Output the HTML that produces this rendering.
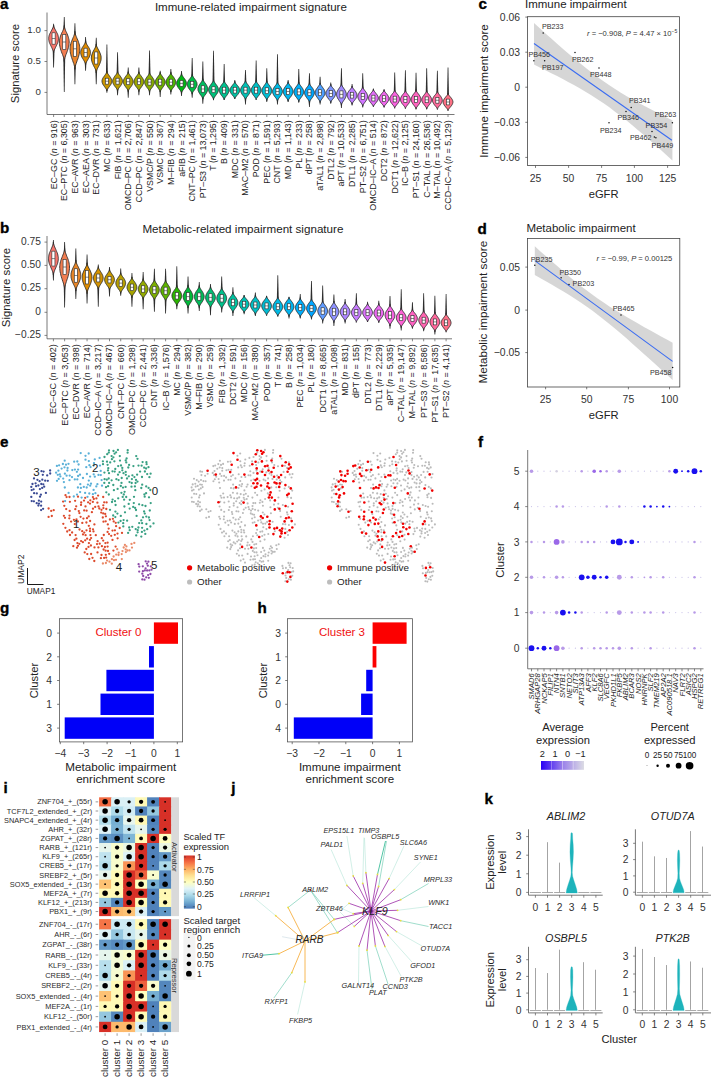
<!DOCTYPE html>
<html><head><meta charset="utf-8"><style>
html,body{margin:0;padding:0;background:#fff;width:711px;height:1078px;overflow:hidden}
svg{display:block;font-family:"Liberation Sans", sans-serif;fill:#222}
</style></head><body>
<svg width="711" height="1078" viewBox="0 0 711 1078">
<rect width="711" height="1078" fill="#fff"/>
<text x="0.00" y="9.00" font-size="15.2" fill="#000" font-weight="bold" stroke="#000" stroke-width="0.35">a</text>
<text x="250.90" y="10.80" font-size="11.6" text-anchor="middle" textLength="192.00" lengthAdjust="spacingAndGlyphs">Immune-related impairment signature</text>
<path d="M47,12.5 V114.5 H454.5" fill="none" stroke="#555" stroke-width="0.8"/>
<line x1="44.5" x2="47" y1="30.6" y2="30.6" stroke="#555" stroke-width="0.7"/>
<text x="40.80" y="33.30" font-size="9.7" text-anchor="end" fill="#333">1.0</text>
<line x1="44.5" x2="47" y1="61.5" y2="61.5" stroke="#555" stroke-width="0.7"/>
<text x="40.80" y="64.20" font-size="9.7" text-anchor="end" fill="#333">0.5</text>
<line x1="44.5" x2="47" y1="92.4" y2="92.4" stroke="#555" stroke-width="0.7"/>
<text x="40.80" y="95.10" font-size="9.7" text-anchor="end" fill="#333">0</text>
<polygon points="52.60,31.2 53.22,23.8 53.98,23.8 54.60,31.2" fill="#2e2e2e"/><polygon points="52.60,46.4 53.22,67.4 53.98,67.4 54.60,46.4" fill="#2e2e2e"/><polygon points="53.6,25.2 53.7,26.1 54.0,27.1 54.4,28.0 54.9,29.0 55.4,29.9 55.9,30.9 56.4,31.8 56.9,32.8 57.4,33.7 57.8,34.7 58.1,35.6 58.3,36.6 58.5,37.5 58.5,38.5 58.5,39.5 58.3,40.5 58.1,41.6 57.8,42.6 57.4,43.6 56.9,44.6 56.4,45.7 55.9,46.7 55.4,47.7 54.9,48.8 54.4,49.8 54.0,50.8 53.7,51.8 53.6,52.8 53.6,52.8 53.5,51.8 53.2,50.8 52.8,49.8 52.3,48.8 51.8,47.7 51.3,46.7 50.8,45.7 50.3,44.6 49.8,43.6 49.4,42.6 49.1,41.6 48.9,40.5 48.7,39.5 48.7,38.5 48.7,37.5 48.9,36.6 49.1,35.6 49.4,34.7 49.8,33.7 50.3,32.8 50.8,31.8 51.3,30.9 51.8,29.9 52.3,29.0 52.8,28.0 53.2,27.1 53.5,26.1 53.6,25.2" fill="#f8766d" stroke="#2a2a2a" stroke-width="0.85" stroke-linejoin="round"/><rect x="52.05" y="32.80" width="3.1" height="11.40" fill="#fff" stroke="#333" stroke-width="0.65"/><line x1="52.05" x2="55.15" y1="38.50" y2="38.50" stroke="#333" stroke-width="0.6"/>
<line x1="53.60" x2="53.60" y1="114.5" y2="117.0" stroke="#555" stroke-width="0.7"/>
<text x="56.60" y="120.30" font-size="8.8" text-anchor="end" transform="rotate(-90 56.60 120.30)" textLength="69.03" lengthAdjust="spacingAndGlyphs">EC–GC (<tspan font-style="italic">n</tspan> = 916)</text>
<polygon points="63.26,33.0 63.88,17.1 64.64,17.1 65.26,33.0" fill="#2e2e2e"/><polygon points="63.26,52.7 63.88,91.9 64.64,91.9 65.26,52.7" fill="#2e2e2e"/><polygon points="64.3,25.6 64.4,26.8 64.7,27.9 65.0,29.1 65.5,30.3 66.0,31.5 66.6,32.6 67.1,33.8 67.6,35.0 68.0,36.1 68.4,37.3 68.7,38.5 69.0,39.7 69.1,40.8 69.2,42.0 69.1,43.4 69.0,44.8 68.7,46.2 68.4,47.6 68.0,49.0 67.6,50.3 67.1,51.7 66.6,53.1 66.0,54.5 65.5,55.9 65.0,57.3 64.7,58.7 64.4,60.1 64.3,61.5 64.3,61.5 64.1,60.1 63.9,58.7 63.5,57.3 63.0,55.9 62.5,54.5 61.9,53.1 61.4,51.7 60.9,50.3 60.5,49.0 60.1,47.6 59.8,46.2 59.5,44.8 59.4,43.4 59.4,42.0 59.4,40.8 59.5,39.7 59.8,38.5 60.1,37.3 60.5,36.1 60.9,35.0 61.4,33.8 61.9,32.6 62.5,31.5 63.0,30.3 63.5,29.1 63.9,27.9 64.1,26.8 64.3,25.6" fill="#f17d52" stroke="#2a2a2a" stroke-width="0.85" stroke-linejoin="round"/><rect x="62.71" y="34.50" width="3.1" height="15.00" fill="#fff" stroke="#333" stroke-width="0.65"/><line x1="62.71" x2="65.81" y1="42.00" y2="42.00" stroke="#333" stroke-width="0.6"/>
<line x1="64.26" x2="64.26" y1="114.5" y2="117.0" stroke="#555" stroke-width="0.7"/>
<text x="67.26" y="120.30" font-size="8.8" text-anchor="end" transform="rotate(-90 67.26 120.30)" textLength="80.77" lengthAdjust="spacingAndGlyphs">EC–PTC (<tspan font-style="italic">n</tspan> = 6,305)</text>
<polygon points="73.92,39.2 74.54,23.2 75.30,23.2 75.92,39.2" fill="#2e2e2e"/><polygon points="73.92,60.1 74.54,84.3 75.30,84.3 75.92,60.1" fill="#2e2e2e"/><polygon points="74.9,31.4 75.0,32.6 75.3,33.9 75.7,35.1 76.2,36.4 76.7,37.6 77.2,38.8 77.8,40.1 78.3,41.3 78.7,42.6 79.1,43.8 79.4,45.1 79.6,46.3 79.8,47.6 79.8,48.8 79.8,50.3 79.6,51.7 79.4,53.2 79.1,54.7 78.7,56.1 78.3,57.6 77.8,59.0 77.2,60.5 76.7,62.0 76.2,63.4 75.7,64.9 75.3,66.4 75.0,67.8 74.9,69.3 74.9,69.3 74.8,67.8 74.5,66.4 74.1,64.9 73.7,63.4 73.1,62.0 72.6,60.5 72.1,59.0 71.6,57.6 71.1,56.1 70.8,54.7 70.4,53.2 70.2,51.7 70.1,50.3 70.0,48.8 70.1,47.6 70.2,46.3 70.4,45.1 70.8,43.8 71.1,42.6 71.6,41.3 72.1,40.1 72.6,38.8 73.1,37.6 73.7,36.4 74.1,35.1 74.5,33.9 74.8,32.6 74.9,31.4" fill="#e9842c" stroke="#2a2a2a" stroke-width="0.85" stroke-linejoin="round"/><rect x="73.37" y="41.30" width="3.1" height="15.00" fill="#fff" stroke="#333" stroke-width="0.65"/><line x1="73.37" x2="76.47" y1="48.80" y2="48.80" stroke="#333" stroke-width="0.6"/>
<line x1="74.92" x2="74.92" y1="114.5" y2="117.0" stroke="#555" stroke-width="0.7"/>
<text x="77.92" y="120.30" font-size="8.8" text-anchor="end" transform="rotate(-90 77.92 120.30)" textLength="73.27" lengthAdjust="spacingAndGlyphs">EC–AVR (<tspan font-style="italic">n</tspan> = 963)</text>
<polygon points="84.58,46.3 85.20,37.0 85.96,37.0 86.58,46.3" fill="#2e2e2e"/><polygon points="84.58,59.3 85.20,70.8 85.96,70.8 86.58,59.3" fill="#2e2e2e"/><polygon points="85.6,41.2 85.7,42.0 86.0,42.8 86.4,43.6 86.8,44.4 87.4,45.3 87.9,46.1 88.4,46.9 88.9,47.7 89.4,48.5 89.7,49.3 90.1,50.1 90.3,50.9 90.4,51.7 90.5,52.5 90.4,53.4 90.3,54.3 90.1,55.1 89.7,56.0 89.4,56.9 88.9,57.8 88.4,58.6 87.9,59.5 87.4,60.4 86.8,61.3 86.4,62.2 86.0,63.0 85.7,63.9 85.6,64.8 85.6,64.8 85.5,63.9 85.2,63.0 84.8,62.2 84.3,61.3 83.8,60.4 83.3,59.5 82.7,58.6 82.2,57.8 81.8,56.9 81.4,56.0 81.1,55.1 80.9,54.3 80.7,53.4 80.7,52.5 80.7,51.7 80.9,50.9 81.1,50.1 81.4,49.3 81.8,48.5 82.2,47.7 82.7,46.9 83.3,46.1 83.8,45.3 84.3,44.4 84.8,43.6 85.2,42.8 85.5,42.0 85.6,41.2" fill="#e08b00" stroke="#2a2a2a" stroke-width="0.85" stroke-linejoin="round"/><rect x="84.03" y="48.20" width="3.1" height="8.60" fill="#fff" stroke="#333" stroke-width="0.65"/><line x1="84.03" x2="87.13" y1="52.50" y2="52.50" stroke="#333" stroke-width="0.6"/>
<line x1="85.58" x2="85.58" y1="114.5" y2="117.0" stroke="#555" stroke-width="0.7"/>
<text x="88.58" y="120.30" font-size="8.8" text-anchor="end" transform="rotate(-90 88.58 120.30)" textLength="72.95" lengthAdjust="spacingAndGlyphs">EC–AEA (<tspan font-style="italic">n</tspan> = 303)</text>
<polygon points="95.24,50.3 95.86,37.8 96.62,37.8 97.24,50.3" fill="#2e2e2e"/><polygon points="95.24,66.1 95.86,84.3 96.62,84.3 97.24,66.1" fill="#2e2e2e"/><polygon points="96.2,44.1 96.4,45.1 96.6,46.1 97.0,47.0 97.5,48.0 98.0,49.0 98.6,50.0 99.1,51.0 99.6,52.0 100.0,53.0 100.4,54.0 100.7,55.0 101.0,56.0 101.1,57.0 101.1,58.0 101.1,59.1 101.0,60.1 100.7,61.2 100.4,62.2 100.0,63.3 99.6,64.3 99.1,65.4 98.6,66.4 98.0,67.5 97.5,68.5 97.0,69.6 96.6,70.7 96.4,71.7 96.2,72.8 96.2,72.8 96.1,71.7 95.8,70.7 95.5,69.6 95.0,68.5 94.5,67.5 93.9,66.4 93.4,65.4 92.9,64.3 92.5,63.3 92.1,62.2 91.8,61.2 91.5,60.1 91.4,59.1 91.3,58.0 91.4,57.0 91.5,56.0 91.8,55.0 92.1,54.0 92.5,53.0 92.9,52.0 93.4,51.0 93.9,50.0 94.5,49.0 95.0,48.0 95.5,47.0 95.8,46.1 96.1,45.1 96.2,44.1" fill="#d69100" stroke="#2a2a2a" stroke-width="0.85" stroke-linejoin="round"/><rect x="94.69" y="51.95" width="3.1" height="12.10" fill="#fff" stroke="#333" stroke-width="0.65"/><line x1="94.69" x2="97.79" y1="58.00" y2="58.00" stroke="#333" stroke-width="0.6"/>
<line x1="96.24" x2="96.24" y1="114.5" y2="117.0" stroke="#555" stroke-width="0.7"/>
<text x="99.24" y="120.30" font-size="8.8" text-anchor="end" transform="rotate(-90 99.24 120.30)" textLength="74.41" lengthAdjust="spacingAndGlyphs">EC–DVR (<tspan font-style="italic">n</tspan> = 731)</text>
<polygon points="105.90,75.8 106.52,44.6 107.28,44.6 107.90,75.8" fill="#2e2e2e"/><polygon points="105.90,86.6 106.52,92.7 107.28,92.7 107.90,86.6" fill="#2e2e2e"/><polygon points="106.9,71.4 107.0,72.1 107.3,72.8 107.7,73.5 108.2,74.2 108.7,74.9 109.2,75.6 109.7,76.3 110.2,77.0 110.7,77.7 111.1,78.4 111.4,79.1 111.6,79.8 111.8,80.5 111.8,81.2 111.8,81.9 111.6,82.6 111.4,83.3 111.1,84.0 110.7,84.7 110.2,85.4 109.7,86.1 109.2,86.8 108.7,87.5 108.2,88.2 107.7,88.9 107.3,89.6 107.0,90.3 106.9,91.0 106.9,91.0 106.8,90.3 106.5,89.6 106.1,88.9 105.6,88.2 105.1,87.5 104.6,86.8 104.1,86.1 103.6,85.4 103.1,84.7 102.7,84.0 102.4,83.3 102.2,82.6 102.0,81.9 102.0,81.2 102.0,80.5 102.2,79.8 102.4,79.1 102.7,78.4 103.1,77.7 103.6,77.0 104.1,76.3 104.6,75.6 105.1,74.9 105.6,74.2 106.1,73.5 106.5,72.8 106.8,72.1 106.9,71.4" fill="#ca9700" stroke="#2a2a2a" stroke-width="0.85" stroke-linejoin="round"/><rect x="105.35" y="78.23" width="3.1" height="5.94" fill="#fff" stroke="#333" stroke-width="0.65"/><line x1="105.35" x2="108.45" y1="81.20" y2="81.20" stroke="#333" stroke-width="0.6"/>
<line x1="106.90" x2="106.90" y1="114.5" y2="117.0" stroke="#555" stroke-width="0.7"/>
<text x="109.90" y="120.30" font-size="8.8" text-anchor="end" transform="rotate(-90 109.90 120.30)" textLength="51.59" lengthAdjust="spacingAndGlyphs">MC (<tspan font-style="italic">n</tspan> = 633)</text>
<polygon points="116.56,75.8 117.18,52.2 117.94,52.2 118.56,75.8" fill="#2e2e2e"/><polygon points="116.56,86.6 117.18,95.2 117.94,95.2 118.56,86.6" fill="#2e2e2e"/><polygon points="117.6,71.4 117.7,72.1 118.0,72.8 118.3,73.5 118.8,74.2 119.3,74.9 119.9,75.6 120.4,76.3 120.9,77.0 121.3,77.7 121.7,78.4 122.0,79.1 122.3,79.8 122.4,80.5 122.5,81.2 122.4,81.9 122.3,82.6 122.0,83.3 121.7,84.0 121.3,84.7 120.9,85.4 120.4,86.1 119.9,86.8 119.3,87.5 118.8,88.2 118.3,88.9 118.0,89.6 117.7,90.3 117.6,91.0 117.6,91.0 117.4,90.3 117.2,89.6 116.8,88.9 116.3,88.2 115.8,87.5 115.2,86.8 114.7,86.1 114.2,85.4 113.8,84.7 113.4,84.0 113.1,83.3 112.8,82.6 112.7,81.9 112.7,81.2 112.7,80.5 112.8,79.8 113.1,79.1 113.4,78.4 113.8,77.7 114.2,77.0 114.7,76.3 115.2,75.6 115.8,74.9 116.3,74.2 116.8,73.5 117.2,72.8 117.4,72.1 117.6,71.4" fill="#bc9d00" stroke="#2a2a2a" stroke-width="0.85" stroke-linejoin="round"/><rect x="116.01" y="78.23" width="3.1" height="5.94" fill="#fff" stroke="#333" stroke-width="0.65"/><line x1="116.01" x2="119.11" y1="81.20" y2="81.20" stroke="#333" stroke-width="0.6"/>
<line x1="117.56" x2="117.56" y1="114.5" y2="117.0" stroke="#555" stroke-width="0.7"/>
<text x="120.56" y="120.30" font-size="8.8" text-anchor="end" transform="rotate(-90 120.56 120.30)" textLength="58.94" lengthAdjust="spacingAndGlyphs">FIB (<tspan font-style="italic">n</tspan> = 1,621)</text>
<polygon points="127.22,76.3 127.84,67.4 128.60,67.4 129.22,76.3" fill="#2e2e2e"/><polygon points="127.22,87.1 127.84,97.8 128.60,97.8 129.22,87.1" fill="#2e2e2e"/><polygon points="128.2,71.9 128.3,72.6 128.6,73.3 129.0,74.0 129.5,74.7 130.0,75.4 130.5,76.1 131.1,76.8 131.6,77.5 132.0,78.2 132.4,78.9 132.7,79.6 132.9,80.3 133.1,81.0 133.1,81.7 133.1,82.4 132.9,83.1 132.7,83.8 132.4,84.5 132.0,85.2 131.6,85.9 131.1,86.6 130.5,87.3 130.0,88.0 129.5,88.7 129.0,89.4 128.6,90.1 128.3,90.8 128.2,91.5 128.2,91.5 128.1,90.8 127.8,90.1 127.4,89.4 127.0,88.7 126.4,88.0 125.9,87.3 125.4,86.6 124.9,85.9 124.4,85.2 124.1,84.5 123.7,83.8 123.5,83.1 123.4,82.4 123.3,81.7 123.4,81.0 123.5,80.3 123.7,79.6 124.1,78.9 124.4,78.2 124.9,77.5 125.4,76.8 125.9,76.1 126.4,75.4 127.0,74.7 127.4,74.0 127.8,73.3 128.1,72.6 128.2,71.9" fill="#ada200" stroke="#2a2a2a" stroke-width="0.85" stroke-linejoin="round"/><rect x="126.67" y="78.73" width="3.1" height="5.94" fill="#fff" stroke="#333" stroke-width="0.65"/><line x1="126.67" x2="129.77" y1="81.70" y2="81.70" stroke="#333" stroke-width="0.6"/>
<line x1="128.22" x2="128.22" y1="114.5" y2="117.0" stroke="#555" stroke-width="0.7"/>
<text x="131.22" y="120.30" font-size="8.8" text-anchor="end" transform="rotate(-90 131.22 120.30)" textLength="90.05" lengthAdjust="spacingAndGlyphs">OMCD–PC (<tspan font-style="italic">n</tspan> = 2,706)</text>
<polygon points="137.88,76.3 138.50,67.4 139.26,67.4 139.88,76.3" fill="#2e2e2e"/><polygon points="137.88,87.1 138.50,95.2 139.26,95.2 139.88,87.1" fill="#2e2e2e"/><polygon points="138.9,71.9 139.0,72.6 139.3,73.3 139.7,74.0 140.1,74.7 140.7,75.4 141.2,76.1 141.7,76.8 142.2,77.5 142.7,78.2 143.0,78.9 143.4,79.6 143.6,80.3 143.7,81.0 143.8,81.7 143.7,82.4 143.6,83.1 143.4,83.8 143.0,84.5 142.7,85.2 142.2,85.9 141.7,86.6 141.2,87.3 140.7,88.0 140.1,88.7 139.7,89.4 139.3,90.1 139.0,90.8 138.9,91.5 138.9,91.5 138.8,90.8 138.5,90.1 138.1,89.4 137.6,88.7 137.1,88.0 136.6,87.3 136.0,86.6 135.5,85.9 135.1,85.2 134.7,84.5 134.4,83.8 134.2,83.1 134.0,82.4 134.0,81.7 134.0,81.0 134.2,80.3 134.4,79.6 134.7,78.9 135.1,78.2 135.5,77.5 136.0,76.8 136.6,76.1 137.1,75.4 137.6,74.7 138.1,74.0 138.5,73.3 138.8,72.6 138.9,71.9" fill="#9ca700" stroke="#2a2a2a" stroke-width="0.85" stroke-linejoin="round"/><rect x="137.33" y="78.73" width="3.1" height="5.94" fill="#fff" stroke="#333" stroke-width="0.65"/><line x1="137.33" x2="140.43" y1="81.70" y2="81.70" stroke="#333" stroke-width="0.6"/>
<line x1="138.88" x2="138.88" y1="114.5" y2="117.0" stroke="#555" stroke-width="0.7"/>
<text x="141.88" y="120.30" font-size="8.8" text-anchor="end" transform="rotate(-90 141.88 120.30)" textLength="82.23" lengthAdjust="spacingAndGlyphs">CCD–PC (<tspan font-style="italic">n</tspan> = 2,847)</text>
<polygon points="148.54,76.8 149.16,50.5 149.92,50.5 150.54,76.8" fill="#2e2e2e"/><polygon points="148.54,87.6 149.16,95.2 149.92,95.2 150.54,87.6" fill="#2e2e2e"/><polygon points="149.5,72.4 149.7,73.1 149.9,73.8 150.3,74.5 150.8,75.2 151.3,75.9 151.9,76.6 152.4,77.3 152.9,78.0 153.3,78.7 153.7,79.4 154.0,80.1 154.3,80.8 154.4,81.5 154.4,82.2 154.4,82.9 154.3,83.6 154.0,84.3 153.7,85.0 153.3,85.7 152.9,86.4 152.4,87.1 151.9,87.8 151.3,88.5 150.8,89.2 150.3,89.9 149.9,90.6 149.7,91.3 149.5,92.0 149.5,92.0 149.4,91.3 149.1,90.6 148.8,89.9 148.3,89.2 147.8,88.5 147.2,87.8 146.7,87.1 146.2,86.4 145.8,85.7 145.4,85.0 145.1,84.3 144.8,83.6 144.7,82.9 144.6,82.2 144.7,81.5 144.8,80.8 145.1,80.1 145.4,79.4 145.8,78.7 146.2,78.0 146.7,77.3 147.2,76.6 147.8,75.9 148.3,75.2 148.8,74.5 149.1,73.8 149.4,73.1 149.5,72.4" fill="#87ac00" stroke="#2a2a2a" stroke-width="0.85" stroke-linejoin="round"/><rect x="147.99" y="79.23" width="3.1" height="5.94" fill="#fff" stroke="#333" stroke-width="0.65"/><line x1="147.99" x2="151.09" y1="82.20" y2="82.20" stroke="#333" stroke-width="0.6"/>
<line x1="149.54" x2="149.54" y1="114.5" y2="117.0" stroke="#555" stroke-width="0.7"/>
<text x="152.54" y="120.30" font-size="8.8" text-anchor="end" transform="rotate(-90 152.54 120.30)" textLength="71.49" lengthAdjust="spacingAndGlyphs">VSMC/P (<tspan font-style="italic">n</tspan> = 550)</text>
<polygon points="159.20,76.8 159.82,70.8 160.58,70.8 161.20,76.8" fill="#2e2e2e"/><polygon points="159.20,87.6 159.82,96.9 160.58,96.9 161.20,87.6" fill="#2e2e2e"/><polygon points="160.2,72.4 160.3,73.1 160.6,73.8 161.0,74.5 161.5,75.2 162.0,75.9 162.5,76.6 163.0,77.3 163.5,78.0 164.0,78.7 164.4,79.4 164.7,80.1 164.9,80.8 165.1,81.5 165.1,82.2 165.1,82.9 164.9,83.6 164.7,84.3 164.4,85.0 164.0,85.7 163.5,86.4 163.0,87.1 162.5,87.8 162.0,88.5 161.5,89.2 161.0,89.9 160.6,90.6 160.3,91.3 160.2,92.0 160.2,92.0 160.1,91.3 159.8,90.6 159.4,89.9 158.9,89.2 158.4,88.5 157.9,87.8 157.4,87.1 156.9,86.4 156.4,85.7 156.0,85.0 155.7,84.3 155.5,83.6 155.3,82.9 155.3,82.2 155.3,81.5 155.5,80.8 155.7,80.1 156.0,79.4 156.4,78.7 156.9,78.0 157.4,77.3 157.9,76.6 158.4,75.9 158.9,75.2 159.4,74.5 159.8,73.8 160.1,73.1 160.2,72.4" fill="#6fb000" stroke="#2a2a2a" stroke-width="0.85" stroke-linejoin="round"/><rect x="158.65" y="79.23" width="3.1" height="5.94" fill="#fff" stroke="#333" stroke-width="0.65"/><line x1="158.65" x2="161.75" y1="82.20" y2="82.20" stroke="#333" stroke-width="0.6"/>
<line x1="160.20" x2="160.20" y1="114.5" y2="117.0" stroke="#555" stroke-width="0.7"/>
<text x="163.20" y="120.30" font-size="8.8" text-anchor="end" transform="rotate(-90 163.20 120.30)" textLength="63.33" lengthAdjust="spacingAndGlyphs">VSMC (<tspan font-style="italic">n</tspan> = 367)</text>
<polygon points="169.86,76.8 170.48,69.0 171.24,69.0 171.86,76.8" fill="#2e2e2e"/><polygon points="169.86,87.6 170.48,94.4 171.24,94.4 171.86,87.6" fill="#2e2e2e"/><polygon points="170.9,72.4 171.0,73.1 171.3,73.8 171.6,74.5 172.1,75.2 172.6,75.9 173.2,76.6 173.7,77.3 174.2,78.0 174.6,78.7 175.0,79.4 175.3,80.1 175.6,80.8 175.7,81.5 175.8,82.2 175.7,82.9 175.6,83.6 175.3,84.3 175.0,85.0 174.6,85.7 174.2,86.4 173.7,87.1 173.2,87.8 172.6,88.5 172.1,89.2 171.6,89.9 171.3,90.6 171.0,91.3 170.9,92.0 170.9,92.0 170.7,91.3 170.5,90.6 170.1,89.9 169.6,89.2 169.1,88.5 168.5,87.8 168.0,87.1 167.5,86.4 167.1,85.7 166.7,85.0 166.4,84.3 166.1,83.6 166.0,82.9 166.0,82.2 166.0,81.5 166.1,80.8 166.4,80.1 166.7,79.4 167.1,78.7 167.5,78.0 168.0,77.3 168.5,76.6 169.1,75.9 169.6,75.2 170.1,74.5 170.5,73.8 170.7,73.1 170.9,72.4" fill="#4db400" stroke="#2a2a2a" stroke-width="0.85" stroke-linejoin="round"/><rect x="169.31" y="79.23" width="3.1" height="5.94" fill="#fff" stroke="#333" stroke-width="0.65"/><line x1="169.31" x2="172.41" y1="82.20" y2="82.20" stroke="#333" stroke-width="0.6"/>
<line x1="170.86" x2="170.86" y1="114.5" y2="117.0" stroke="#555" stroke-width="0.7"/>
<text x="173.86" y="120.30" font-size="8.8" text-anchor="end" transform="rotate(-90 173.86 120.30)" textLength="64.62" lengthAdjust="spacingAndGlyphs">M–FIB (<tspan font-style="italic">n</tspan> = 294)</text>
<polygon points="180.52,78.0 181.14,71.1 181.90,71.1 182.52,78.0" fill="#2e2e2e"/><polygon points="180.52,88.8 181.14,96.1 181.90,96.1 182.52,88.8" fill="#2e2e2e"/><polygon points="181.5,73.6 181.6,74.3 181.9,75.0 182.3,75.7 182.8,76.4 183.3,77.1 183.8,77.8 184.4,78.5 184.9,79.2 185.3,79.9 185.7,80.6 186.0,81.3 186.2,82.0 186.4,82.7 186.4,83.4 186.4,84.1 186.2,84.8 186.0,85.5 185.7,86.2 185.3,86.9 184.9,87.6 184.4,88.3 183.8,89.0 183.3,89.7 182.8,90.4 182.3,91.1 181.9,91.8 181.6,92.5 181.5,93.2 181.5,93.2 181.4,92.5 181.1,91.8 180.7,91.1 180.3,90.4 179.7,89.7 179.2,89.0 178.7,88.3 178.2,87.6 177.7,86.9 177.4,86.2 177.0,85.5 176.8,84.8 176.7,84.1 176.6,83.4 176.7,82.7 176.8,82.0 177.0,81.3 177.4,80.6 177.7,79.9 178.2,79.2 178.7,78.5 179.2,77.8 179.7,77.1 180.3,76.4 180.7,75.7 181.1,75.0 181.4,74.3 181.5,73.6" fill="#00b813" stroke="#2a2a2a" stroke-width="0.85" stroke-linejoin="round"/><rect x="179.97" y="80.43" width="3.1" height="5.94" fill="#fff" stroke="#333" stroke-width="0.65"/><line x1="179.97" x2="183.07" y1="83.40" y2="83.40" stroke="#333" stroke-width="0.6"/>
<line x1="181.52" x2="181.52" y1="114.5" y2="117.0" stroke="#555" stroke-width="0.7"/>
<text x="184.52" y="120.30" font-size="8.8" text-anchor="end" transform="rotate(-90 184.52 120.30)" textLength="56.49" lengthAdjust="spacingAndGlyphs">aFIB (<tspan font-style="italic">n</tspan> = 215)</text>
<polygon points="191.18,78.9 191.80,58.1 192.56,58.1 193.18,78.9" fill="#2e2e2e"/><polygon points="191.18,89.7 191.80,97.8 192.56,97.8 193.18,89.7" fill="#2e2e2e"/><polygon points="192.2,74.5 192.3,75.2 192.6,75.9 193.0,76.6 193.4,77.3 194.0,78.0 194.5,78.7 195.0,79.4 195.5,80.1 196.0,80.8 196.3,81.5 196.7,82.2 196.9,82.9 197.0,83.6 197.1,84.3 197.0,85.0 196.9,85.7 196.7,86.4 196.3,87.1 196.0,87.8 195.5,88.5 195.0,89.2 194.5,89.9 194.0,90.6 193.4,91.3 193.0,92.0 192.6,92.7 192.3,93.4 192.2,94.1 192.2,94.1 192.1,93.4 191.8,92.7 191.4,92.0 190.9,91.3 190.4,90.6 189.9,89.9 189.3,89.2 188.8,88.5 188.4,87.8 188.0,87.1 187.7,86.4 187.5,85.7 187.3,85.0 187.3,84.3 187.3,83.6 187.5,82.9 187.7,82.2 188.0,81.5 188.4,80.8 188.8,80.1 189.3,79.4 189.9,78.7 190.4,78.0 190.9,77.3 191.4,76.6 191.8,75.9 192.1,75.2 192.2,74.5" fill="#00bb44" stroke="#2a2a2a" stroke-width="0.85" stroke-linejoin="round"/><rect x="190.63" y="81.33" width="3.1" height="5.94" fill="#fff" stroke="#333" stroke-width="0.65"/><line x1="190.63" x2="193.73" y1="84.30" y2="84.30" stroke="#333" stroke-width="0.6"/>
<line x1="192.18" x2="192.18" y1="114.5" y2="117.0" stroke="#555" stroke-width="0.7"/>
<text x="195.18" y="120.30" font-size="8.8" text-anchor="end" transform="rotate(-90 195.18 120.30)" textLength="81.25" lengthAdjust="spacingAndGlyphs">CNT–PC (<tspan font-style="italic">n</tspan> = 1,461)</text>
<polygon points="201.84,83.4 202.46,61.5 203.22,61.5 203.84,83.4" fill="#2e2e2e"/><polygon points="201.84,94.6 202.46,103.7 203.22,103.7 203.84,94.6" fill="#2e2e2e"/><polygon points="202.8,78.8 203.0,79.5 203.2,80.2 203.6,80.9 204.1,81.7 204.6,82.4 205.2,83.1 205.7,83.9 206.2,84.6 206.6,85.3 207.0,86.1 207.3,86.8 207.6,87.5 207.7,88.3 207.7,89.0 207.7,89.7 207.6,90.5 207.3,91.2 207.0,91.9 206.6,92.7 206.2,93.4 205.7,94.1 205.2,94.9 204.6,95.6 204.1,96.3 203.6,97.1 203.2,97.8 203.0,98.5 202.8,99.2 202.8,99.2 202.7,98.5 202.4,97.8 202.1,97.1 201.6,96.3 201.1,95.6 200.5,94.9 200.0,94.1 199.5,93.4 199.1,92.7 198.7,91.9 198.4,91.2 198.1,90.5 198.0,89.7 197.9,89.0 198.0,88.3 198.1,87.5 198.4,86.8 198.7,86.1 199.1,85.3 199.5,84.6 200.0,83.9 200.5,83.1 201.1,82.4 201.6,81.7 202.1,80.9 202.4,80.2 202.7,79.5 202.8,78.8" fill="#00bd61" stroke="#2a2a2a" stroke-width="0.85" stroke-linejoin="round"/><rect x="201.29" y="85.75" width="3.1" height="6.50" fill="#fff" stroke="#333" stroke-width="0.65"/><line x1="201.29" x2="204.39" y1="89.00" y2="89.00" stroke="#333" stroke-width="0.6"/>
<line x1="202.84" x2="202.84" y1="114.5" y2="117.0" stroke="#555" stroke-width="0.7"/>
<text x="205.84" y="120.30" font-size="8.8" text-anchor="end" transform="rotate(-90 205.84 120.30)" textLength="77.84" lengthAdjust="spacingAndGlyphs">PT–S3 (<tspan font-style="italic">n</tspan> = 13,073)</text>
<polygon points="212.50,84.3 213.12,50.8 213.88,50.8 214.50,84.3" fill="#2e2e2e"/><polygon points="212.50,95.1 213.12,100.3 213.88,100.3 214.50,95.1" fill="#2e2e2e"/><polygon points="213.5,79.9 213.6,80.6 213.9,81.3 214.3,82.0 214.8,82.7 215.3,83.4 215.8,84.1 216.3,84.8 216.8,85.5 217.3,86.2 217.7,86.9 218.0,87.6 218.2,88.3 218.4,89.0 218.4,89.7 218.4,90.4 218.2,91.1 218.0,91.8 217.7,92.5 217.3,93.2 216.8,93.9 216.3,94.6 215.8,95.3 215.3,96.0 214.8,96.7 214.3,97.4 213.9,98.1 213.6,98.8 213.5,99.5 213.5,99.5 213.4,98.8 213.1,98.1 212.7,97.4 212.2,96.7 211.7,96.0 211.2,95.3 210.7,94.6 210.2,93.9 209.7,93.2 209.3,92.5 209.0,91.8 208.8,91.1 208.6,90.4 208.6,89.7 208.6,89.0 208.8,88.3 209.0,87.6 209.3,86.9 209.7,86.2 210.2,85.5 210.7,84.8 211.2,84.1 211.7,83.4 212.2,82.7 212.7,82.0 213.1,81.3 213.4,80.6 213.5,79.9" fill="#00bf79" stroke="#2a2a2a" stroke-width="0.85" stroke-linejoin="round"/><rect x="211.95" y="86.73" width="3.1" height="5.94" fill="#fff" stroke="#333" stroke-width="0.65"/><line x1="211.95" x2="215.05" y1="89.70" y2="89.70" stroke="#333" stroke-width="0.6"/>
<line x1="213.50" x2="213.50" y1="114.5" y2="117.0" stroke="#555" stroke-width="0.7"/>
<text x="216.50" y="120.30" font-size="8.8" text-anchor="end" transform="rotate(-90 216.50 120.30)" textLength="50.46" lengthAdjust="spacingAndGlyphs">T (<tspan font-style="italic">n</tspan> = 1,295)</text>
<polygon points="223.16,84.8 223.78,64.0 224.54,64.0 225.16,84.8" fill="#2e2e2e"/><polygon points="223.16,95.6 223.78,99.5 224.54,99.5 225.16,95.6" fill="#2e2e2e"/><polygon points="224.2,80.4 224.3,81.1 224.6,81.8 224.9,82.5 225.4,83.2 225.9,83.9 226.5,84.6 227.0,85.3 227.5,86.0 227.9,86.7 228.3,87.4 228.6,88.1 228.9,88.8 229.0,89.5 229.1,90.2 229.0,90.9 228.9,91.6 228.6,92.3 228.3,93.0 227.9,93.7 227.5,94.4 227.0,95.1 226.5,95.8 225.9,96.5 225.4,97.2 224.9,97.9 224.6,98.6 224.3,99.3 224.2,100.0 224.2,100.0 224.0,99.3 223.8,98.6 223.4,97.9 222.9,97.2 222.4,96.5 221.8,95.8 221.3,95.1 220.8,94.4 220.4,93.7 220.0,93.0 219.7,92.3 219.4,91.6 219.3,90.9 219.3,90.2 219.3,89.5 219.4,88.8 219.7,88.1 220.0,87.4 220.4,86.7 220.8,86.0 221.3,85.3 221.8,84.6 222.4,83.9 222.9,83.2 223.4,82.5 223.8,81.8 224.0,81.1 224.2,80.4" fill="#00c08e" stroke="#2a2a2a" stroke-width="0.85" stroke-linejoin="round"/><rect x="222.61" y="87.23" width="3.1" height="5.94" fill="#fff" stroke="#333" stroke-width="0.65"/><line x1="222.61" x2="225.71" y1="90.20" y2="90.20" stroke="#333" stroke-width="0.6"/>
<line x1="224.16" x2="224.16" y1="114.5" y2="117.0" stroke="#555" stroke-width="0.7"/>
<text x="227.16" y="120.30" font-size="8.8" text-anchor="end" transform="rotate(-90 227.16 120.30)" textLength="43.78" lengthAdjust="spacingAndGlyphs">B (<tspan font-style="italic">n</tspan> = 409)</text>
<polygon points="233.82,85.4 234.44,80.0 235.20,80.0 235.82,85.4" fill="#2e2e2e"/><polygon points="233.82,95.0 234.44,98.6 235.20,98.6 235.82,95.0" fill="#2e2e2e"/><polygon points="234.8,81.4 234.9,82.0 235.2,82.6 235.6,83.3 236.1,83.9 236.6,84.5 237.1,85.2 237.7,85.8 238.2,86.4 238.6,87.1 239.0,87.7 239.3,88.3 239.5,88.9 239.7,89.6 239.7,90.2 239.7,90.8 239.5,91.5 239.3,92.1 239.0,92.7 238.6,93.3 238.2,94.0 237.7,94.6 237.1,95.2 236.6,95.9 236.1,96.5 235.6,97.1 235.2,97.8 234.9,98.4 234.8,99.0 234.8,99.0 234.7,98.4 234.4,97.8 234.0,97.1 233.6,96.5 233.0,95.9 232.5,95.2 232.0,94.6 231.5,94.0 231.0,93.3 230.7,92.7 230.3,92.1 230.1,91.5 230.0,90.8 229.9,90.2 230.0,89.6 230.1,88.9 230.3,88.3 230.7,87.7 231.0,87.1 231.5,86.4 232.0,85.8 232.5,85.2 233.0,84.5 233.6,83.9 234.0,83.3 234.4,82.6 234.7,82.0 234.8,81.4" fill="#00c1a2" stroke="#2a2a2a" stroke-width="0.85" stroke-linejoin="round"/><rect x="233.27" y="87.30" width="3.1" height="5.80" fill="#fff" stroke="#333" stroke-width="0.65"/><line x1="233.27" x2="236.37" y1="90.20" y2="90.20" stroke="#333" stroke-width="0.6"/>
<line x1="234.82" x2="234.82" y1="114.5" y2="117.0" stroke="#555" stroke-width="0.7"/>
<text x="237.82" y="120.30" font-size="8.8" text-anchor="end" transform="rotate(-90 237.82 120.30)" textLength="57.95" lengthAdjust="spacingAndGlyphs">MDC (<tspan font-style="italic">n</tspan> = 331)</text>
<polygon points="244.48,84.8 245.10,69.9 245.86,69.9 246.48,84.8" fill="#2e2e2e"/><polygon points="244.48,95.6 245.10,104.5 245.86,104.5 246.48,95.6" fill="#2e2e2e"/><polygon points="245.5,80.4 245.6,81.1 245.9,81.8 246.3,82.5 246.7,83.2 247.3,83.9 247.8,84.6 248.3,85.3 248.8,86.0 249.3,86.7 249.6,87.4 250.0,88.1 250.2,88.8 250.3,89.5 250.4,90.2 250.3,90.9 250.2,91.6 250.0,92.3 249.6,93.0 249.3,93.7 248.8,94.4 248.3,95.1 247.8,95.8 247.3,96.5 246.7,97.2 246.3,97.9 245.9,98.6 245.6,99.3 245.5,100.0 245.5,100.0 245.4,99.3 245.1,98.6 244.7,97.9 244.2,97.2 243.7,96.5 243.2,95.8 242.6,95.1 242.1,94.4 241.7,93.7 241.3,93.0 241.0,92.3 240.8,91.6 240.6,90.9 240.6,90.2 240.6,89.5 240.8,88.8 241.0,88.1 241.3,87.4 241.7,86.7 242.1,86.0 242.6,85.3 243.2,84.6 243.7,83.9 244.2,83.2 244.7,82.5 245.1,81.8 245.4,81.1 245.5,80.4" fill="#00c0b4" stroke="#2a2a2a" stroke-width="0.85" stroke-linejoin="round"/><rect x="243.93" y="87.23" width="3.1" height="5.94" fill="#fff" stroke="#333" stroke-width="0.65"/><line x1="243.93" x2="247.03" y1="90.20" y2="90.20" stroke="#333" stroke-width="0.6"/>
<line x1="245.48" x2="245.48" y1="114.5" y2="117.0" stroke="#555" stroke-width="0.7"/>
<text x="248.48" y="120.30" font-size="8.8" text-anchor="end" transform="rotate(-90 248.48 120.30)" textLength="75.38" lengthAdjust="spacingAndGlyphs">MAC–M2 (<tspan font-style="italic">n</tspan> = 570)</text>
<polygon points="255.14,84.8 255.76,60.6 256.52,60.6 257.14,84.8" fill="#2e2e2e"/><polygon points="255.14,95.6 255.76,97.8 256.52,97.8 257.14,95.6" fill="#2e2e2e"/><polygon points="256.1,80.4 256.3,81.1 256.5,81.8 256.9,82.5 257.4,83.2 257.9,83.9 258.5,84.6 259.0,85.3 259.5,86.0 259.9,86.7 260.3,87.4 260.6,88.1 260.9,88.8 261.0,89.5 261.0,90.2 261.0,90.9 260.9,91.6 260.6,92.3 260.3,93.0 259.9,93.7 259.5,94.4 259.0,95.1 258.5,95.8 257.9,96.5 257.4,97.2 256.9,97.9 256.5,98.6 256.3,99.3 256.1,100.0 256.1,100.0 256.0,99.3 255.7,98.6 255.4,97.9 254.9,97.2 254.4,96.5 253.8,95.8 253.3,95.1 252.8,94.4 252.4,93.7 252.0,93.0 251.7,92.3 251.4,91.6 251.3,90.9 251.2,90.2 251.3,89.5 251.4,88.8 251.7,88.1 252.0,87.4 252.4,86.7 252.8,86.0 253.3,85.3 253.8,84.6 254.4,83.9 254.9,83.2 255.4,82.5 255.7,81.8 256.0,81.1 256.1,80.4" fill="#00bfc4" stroke="#2a2a2a" stroke-width="0.85" stroke-linejoin="round"/><rect x="254.59" y="87.23" width="3.1" height="5.94" fill="#fff" stroke="#333" stroke-width="0.65"/><line x1="254.59" x2="257.69" y1="90.20" y2="90.20" stroke="#333" stroke-width="0.6"/>
<line x1="256.14" x2="256.14" y1="114.5" y2="117.0" stroke="#555" stroke-width="0.7"/>
<text x="259.14" y="120.30" font-size="8.8" text-anchor="end" transform="rotate(-90 259.14 120.30)" textLength="56.98" lengthAdjust="spacingAndGlyphs">POD (<tspan font-style="italic">n</tspan> = 871)</text>
<polygon points="265.80,85.3 266.42,68.2 267.18,68.2 267.80,85.3" fill="#2e2e2e"/><polygon points="265.80,96.1 266.42,102.0 267.18,102.0 267.80,96.1" fill="#2e2e2e"/><polygon points="266.8,80.9 266.9,81.6 267.2,82.3 267.6,83.0 268.1,83.7 268.6,84.4 269.1,85.1 269.6,85.8 270.1,86.5 270.6,87.2 271.0,87.9 271.3,88.6 271.5,89.3 271.7,90.0 271.7,90.7 271.7,91.4 271.5,92.1 271.3,92.8 271.0,93.5 270.6,94.2 270.1,94.9 269.6,95.6 269.1,96.3 268.6,97.0 268.1,97.7 267.6,98.4 267.2,99.1 266.9,99.8 266.8,100.5 266.8,100.5 266.7,99.8 266.4,99.1 266.0,98.4 265.5,97.7 265.0,97.0 264.5,96.3 264.0,95.6 263.5,94.9 263.0,94.2 262.6,93.5 262.3,92.8 262.1,92.1 261.9,91.4 261.9,90.7 261.9,90.0 262.1,89.3 262.3,88.6 262.6,87.9 263.0,87.2 263.5,86.5 264.0,85.8 264.5,85.1 265.0,84.4 265.5,83.7 266.0,83.0 266.4,82.3 266.7,81.6 266.8,80.9" fill="#00bdd4" stroke="#2a2a2a" stroke-width="0.85" stroke-linejoin="round"/><rect x="265.25" y="87.73" width="3.1" height="5.94" fill="#fff" stroke="#333" stroke-width="0.65"/><line x1="265.25" x2="268.35" y1="90.70" y2="90.70" stroke="#333" stroke-width="0.6"/>
<line x1="266.80" x2="266.80" y1="114.5" y2="117.0" stroke="#555" stroke-width="0.7"/>
<text x="269.80" y="120.30" font-size="8.8" text-anchor="end" transform="rotate(-90 269.80 120.30)" textLength="63.34" lengthAdjust="spacingAndGlyphs">PEC (<tspan font-style="italic">n</tspan> = 1,591)</text>
<polygon points="276.46,86.1 277.08,54.2 277.84,54.2 278.46,86.1" fill="#2e2e2e"/><polygon points="276.46,96.9 277.08,104.5 277.84,104.5 278.46,96.9" fill="#2e2e2e"/><polygon points="277.5,81.7 277.6,82.4 277.9,83.1 278.2,83.8 278.7,84.5 279.2,85.2 279.8,85.9 280.3,86.6 280.8,87.3 281.2,88.0 281.6,88.7 281.9,89.4 282.2,90.1 282.3,90.8 282.4,91.5 282.3,92.2 282.2,92.9 281.9,93.6 281.6,94.3 281.2,95.0 280.8,95.7 280.3,96.4 279.8,97.1 279.2,97.8 278.7,98.5 278.2,99.2 277.9,99.9 277.6,100.6 277.5,101.3 277.5,101.3 277.3,100.6 277.1,99.9 276.7,99.2 276.2,98.5 275.7,97.8 275.1,97.1 274.6,96.4 274.1,95.7 273.7,95.0 273.3,94.3 273.0,93.6 272.7,92.9 272.6,92.2 272.6,91.5 272.6,90.8 272.7,90.1 273.0,89.4 273.3,88.7 273.7,88.0 274.1,87.3 274.6,86.6 275.1,85.9 275.7,85.2 276.2,84.5 276.7,83.8 277.1,83.1 277.3,82.4 277.5,81.7" fill="#00b9e2" stroke="#2a2a2a" stroke-width="0.85" stroke-linejoin="round"/><rect x="275.91" y="88.53" width="3.1" height="5.94" fill="#fff" stroke="#333" stroke-width="0.65"/><line x1="275.91" x2="279.01" y1="91.50" y2="91.50" stroke="#333" stroke-width="0.6"/>
<line x1="277.46" x2="277.46" y1="114.5" y2="117.0" stroke="#555" stroke-width="0.7"/>
<text x="280.46" y="120.30" font-size="8.8" text-anchor="end" transform="rotate(-90 280.46 120.30)" textLength="63.17" lengthAdjust="spacingAndGlyphs">CNT (<tspan font-style="italic">n</tspan> = 5,293)</text>
<polygon points="287.12,86.1 287.74,80.0 288.50,80.0 289.12,86.1" fill="#2e2e2e"/><polygon points="287.12,96.9 287.74,102.0 288.50,102.0 289.12,96.9" fill="#2e2e2e"/><polygon points="288.1,81.7 288.2,82.4 288.5,83.1 288.9,83.8 289.4,84.5 289.9,85.2 290.4,85.9 291.0,86.6 291.5,87.3 291.9,88.0 292.3,88.7 292.6,89.4 292.8,90.1 293.0,90.8 293.0,91.5 293.0,92.2 292.8,92.9 292.6,93.6 292.3,94.3 291.9,95.0 291.5,95.7 291.0,96.4 290.4,97.1 289.9,97.8 289.4,98.5 288.9,99.2 288.5,99.9 288.2,100.6 288.1,101.3 288.1,101.3 288.0,100.6 287.7,99.9 287.3,99.2 286.9,98.5 286.3,97.8 285.8,97.1 285.3,96.4 284.8,95.7 284.3,95.0 284.0,94.3 283.6,93.6 283.4,92.9 283.3,92.2 283.2,91.5 283.3,90.8 283.4,90.1 283.6,89.4 284.0,88.7 284.3,88.0 284.8,87.3 285.3,86.6 285.8,85.9 286.3,85.2 286.9,84.5 287.3,83.8 287.7,83.1 288.0,82.4 288.1,81.7" fill="#00b5ee" stroke="#2a2a2a" stroke-width="0.85" stroke-linejoin="round"/><rect x="286.57" y="88.53" width="3.1" height="5.94" fill="#fff" stroke="#333" stroke-width="0.65"/><line x1="286.57" x2="289.67" y1="91.50" y2="91.50" stroke="#333" stroke-width="0.6"/>
<line x1="288.12" x2="288.12" y1="114.5" y2="117.0" stroke="#555" stroke-width="0.7"/>
<text x="291.12" y="120.30" font-size="8.8" text-anchor="end" transform="rotate(-90 291.12 120.30)" textLength="58.93" lengthAdjust="spacingAndGlyphs">MD (<tspan font-style="italic">n</tspan> = 1,143)</text>
<polygon points="297.78,86.5 298.40,69.1 299.16,69.1 299.78,86.5" fill="#2e2e2e"/><polygon points="297.78,97.3 298.40,102.8 299.16,102.8 299.78,97.3" fill="#2e2e2e"/><polygon points="298.8,82.1 298.9,82.8 299.2,83.5 299.6,84.2 300.0,84.9 300.6,85.6 301.1,86.3 301.6,87.0 302.1,87.7 302.6,88.4 302.9,89.1 303.3,89.8 303.5,90.5 303.6,91.2 303.7,91.9 303.6,92.6 303.5,93.3 303.3,94.0 302.9,94.7 302.6,95.4 302.1,96.1 301.6,96.8 301.1,97.5 300.6,98.2 300.0,98.9 299.6,99.6 299.2,100.3 298.9,101.0 298.8,101.7 298.8,101.7 298.7,101.0 298.4,100.3 298.0,99.6 297.5,98.9 297.0,98.2 296.5,97.5 295.9,96.8 295.4,96.1 295.0,95.4 294.6,94.7 294.3,94.0 294.1,93.3 293.9,92.6 293.9,91.9 293.9,91.2 294.1,90.5 294.3,89.8 294.6,89.1 295.0,88.4 295.4,87.7 295.9,87.0 296.5,86.3 297.0,85.6 297.5,84.9 298.0,84.2 298.4,83.5 298.7,82.8 298.8,82.1" fill="#00aff8" stroke="#2a2a2a" stroke-width="0.85" stroke-linejoin="round"/><rect x="297.23" y="88.93" width="3.1" height="5.94" fill="#fff" stroke="#333" stroke-width="0.65"/><line x1="297.23" x2="300.33" y1="91.90" y2="91.90" stroke="#333" stroke-width="0.6"/>
<line x1="298.78" x2="298.78" y1="114.5" y2="117.0" stroke="#555" stroke-width="0.7"/>
<text x="301.78" y="120.30" font-size="8.8" text-anchor="end" transform="rotate(-90 301.78 120.30)" textLength="48.35" lengthAdjust="spacingAndGlyphs">PL (<tspan font-style="italic">n</tspan> = 233)</text>
<polygon points="308.44,87.3 309.06,73.3 309.82,73.3 310.44,87.3" fill="#2e2e2e"/><polygon points="308.44,98.1 309.06,107.0 309.82,107.0 310.44,98.1" fill="#2e2e2e"/><polygon points="309.4,82.9 309.6,83.6 309.8,84.3 310.2,85.0 310.7,85.7 311.2,86.4 311.8,87.1 312.3,87.8 312.8,88.5 313.2,89.2 313.6,89.9 313.9,90.6 314.2,91.3 314.3,92.0 314.3,92.7 314.3,93.4 314.2,94.1 313.9,94.8 313.6,95.5 313.2,96.2 312.8,96.9 312.3,97.6 311.8,98.3 311.2,99.0 310.7,99.7 310.2,100.4 309.8,101.1 309.6,101.8 309.4,102.5 309.4,102.5 309.3,101.8 309.0,101.1 308.7,100.4 308.2,99.7 307.7,99.0 307.1,98.3 306.6,97.6 306.1,96.9 305.7,96.2 305.3,95.5 305.0,94.8 304.7,94.1 304.6,93.4 304.5,92.7 304.6,92.0 304.7,91.3 305.0,90.6 305.3,89.9 305.7,89.2 306.1,88.5 306.6,87.8 307.1,87.1 307.7,86.4 308.2,85.7 308.7,85.0 309.0,84.3 309.3,83.6 309.4,82.9" fill="#00a7ff" stroke="#2a2a2a" stroke-width="0.85" stroke-linejoin="round"/><rect x="307.89" y="89.73" width="3.1" height="5.94" fill="#fff" stroke="#333" stroke-width="0.65"/><line x1="307.89" x2="310.99" y1="92.70" y2="92.70" stroke="#333" stroke-width="0.6"/>
<line x1="309.44" x2="309.44" y1="114.5" y2="117.0" stroke="#555" stroke-width="0.7"/>
<text x="312.44" y="120.30" font-size="8.8" text-anchor="end" transform="rotate(-90 312.44 120.30)" textLength="53.89" lengthAdjust="spacingAndGlyphs">dPT (<tspan font-style="italic">n</tspan> = 258)</text>
<polygon points="319.10,87.3 319.72,76.7 320.48,76.7 321.10,87.3" fill="#2e2e2e"/><polygon points="319.10,98.1 319.72,104.5 320.48,104.5 321.10,98.1" fill="#2e2e2e"/><polygon points="320.1,82.9 320.2,83.6 320.5,84.3 320.9,85.0 321.4,85.7 321.9,86.4 322.4,87.1 322.9,87.8 323.4,88.5 323.9,89.2 324.3,89.9 324.6,90.6 324.8,91.3 325.0,92.0 325.0,92.7 325.0,93.4 324.8,94.1 324.6,94.8 324.3,95.5 323.9,96.2 323.4,96.9 322.9,97.6 322.4,98.3 321.9,99.0 321.4,99.7 320.9,100.4 320.5,101.1 320.2,101.8 320.1,102.5 320.1,102.5 320.0,101.8 319.7,101.1 319.3,100.4 318.8,99.7 318.3,99.0 317.8,98.3 317.3,97.6 316.8,96.9 316.3,96.2 315.9,95.5 315.6,94.8 315.4,94.1 315.2,93.4 315.2,92.7 315.2,92.0 315.4,91.3 315.6,90.6 315.9,89.9 316.3,89.2 316.8,88.5 317.3,87.8 317.8,87.1 318.3,86.4 318.8,85.7 319.3,85.0 319.7,84.3 320.0,83.6 320.1,82.9" fill="#4d9fff" stroke="#2a2a2a" stroke-width="0.85" stroke-linejoin="round"/><rect x="318.55" y="89.73" width="3.1" height="5.94" fill="#fff" stroke="#333" stroke-width="0.65"/><line x1="318.55" x2="321.65" y1="92.70" y2="92.70" stroke="#333" stroke-width="0.6"/>
<line x1="320.10" x2="320.10" y1="114.5" y2="117.0" stroke="#555" stroke-width="0.7"/>
<text x="323.10" y="120.30" font-size="8.8" text-anchor="end" transform="rotate(-90 323.10 120.30)" textLength="70.52" lengthAdjust="spacingAndGlyphs">aTAL1 (<tspan font-style="italic">n</tspan> = 2,898)</text>
<polygon points="329.76,88.4 330.38,82.6 331.14,82.6 331.76,88.4" fill="#2e2e2e"/><polygon points="329.76,98.6 330.38,103.7 331.14,103.7 331.76,98.6" fill="#2e2e2e"/><polygon points="330.8,84.3 330.9,84.9 331.2,85.6 331.5,86.3 332.0,86.9 332.5,87.6 333.1,88.2 333.6,88.9 334.1,89.5 334.5,90.2 334.9,90.9 335.2,91.5 335.5,92.2 335.6,92.8 335.7,93.5 335.6,94.2 335.5,94.8 335.2,95.5 334.9,96.1 334.5,96.8 334.1,97.5 333.6,98.1 333.1,98.8 332.5,99.4 332.0,100.1 331.5,100.7 331.2,101.4 330.9,102.1 330.8,102.7 330.8,102.7 330.6,102.1 330.4,101.4 330.0,100.7 329.5,100.1 329.0,99.4 328.4,98.8 327.9,98.1 327.4,97.5 327.0,96.8 326.6,96.1 326.3,95.5 326.0,94.8 325.9,94.2 325.9,93.5 325.9,92.8 326.0,92.2 326.3,91.5 326.6,90.9 327.0,90.2 327.4,89.5 327.9,88.9 328.4,88.2 329.0,87.6 329.5,86.9 330.0,86.3 330.4,85.6 330.6,84.9 330.8,84.3" fill="#7f96ff" stroke="#2a2a2a" stroke-width="0.85" stroke-linejoin="round"/><rect x="329.21" y="90.60" width="3.1" height="5.80" fill="#fff" stroke="#333" stroke-width="0.65"/><line x1="329.21" x2="332.31" y1="93.50" y2="93.50" stroke="#333" stroke-width="0.6"/>
<line x1="330.76" x2="330.76" y1="114.5" y2="117.0" stroke="#555" stroke-width="0.7"/>
<text x="333.76" y="120.30" font-size="8.8" text-anchor="end" transform="rotate(-90 333.76 120.30)" textLength="59.43" lengthAdjust="spacingAndGlyphs">DTL2 (<tspan font-style="italic">n</tspan> = 792)</text>
<polygon points="340.42,88.5 341.04,68.2 341.80,68.2 342.42,88.5" fill="#2e2e2e"/><polygon points="340.42,100.3 341.04,107.9 341.80,107.9 342.42,100.3" fill="#2e2e2e"/><polygon points="341.4,83.7 341.5,84.5 341.8,85.3 342.2,86.0 342.7,86.8 343.2,87.5 343.7,88.3 344.3,89.1 344.8,89.8 345.2,90.6 345.6,91.4 345.9,92.1 346.1,92.9 346.3,93.6 346.3,94.4 346.3,95.2 346.1,95.9 345.9,96.7 345.6,97.4 345.2,98.2 344.8,99.0 344.3,99.7 343.7,100.5 343.2,101.3 342.7,102.0 342.2,102.8 341.8,103.5 341.5,104.3 341.4,105.1 341.4,105.1 341.3,104.3 341.0,103.5 340.6,102.8 340.2,102.0 339.6,101.3 339.1,100.5 338.6,99.7 338.1,99.0 337.6,98.2 337.3,97.4 336.9,96.7 336.7,95.9 336.6,95.2 336.5,94.4 336.6,93.6 336.7,92.9 336.9,92.1 337.3,91.4 337.6,90.6 338.1,89.8 338.6,89.1 339.1,88.3 339.6,87.5 340.2,86.8 340.6,86.0 341.0,85.3 341.3,84.5 341.4,83.7" fill="#a18bff" stroke="#2a2a2a" stroke-width="0.85" stroke-linejoin="round"/><rect x="339.87" y="90.87" width="3.1" height="7.06" fill="#fff" stroke="#333" stroke-width="0.65"/><line x1="339.87" x2="342.97" y1="94.40" y2="94.40" stroke="#333" stroke-width="0.6"/>
<line x1="341.42" x2="341.42" y1="114.5" y2="117.0" stroke="#555" stroke-width="0.7"/>
<text x="344.42" y="120.30" font-size="8.8" text-anchor="end" transform="rotate(-90 344.42 120.30)" textLength="66.12" lengthAdjust="spacingAndGlyphs">aPT (<tspan font-style="italic">n</tspan> = 10,533)</text>
<polygon points="351.08,90.1 351.70,83.9 352.46,83.9 353.08,90.1" fill="#2e2e2e"/><polygon points="351.08,100.3 351.70,105.4 352.46,105.4 353.08,100.3" fill="#2e2e2e"/><polygon points="352.1,86.0 352.2,86.6 352.5,87.3 352.9,88.0 353.3,88.6 353.9,89.3 354.4,89.9 354.9,90.6 355.4,91.2 355.9,91.9 356.2,92.6 356.6,93.2 356.8,93.9 356.9,94.5 357.0,95.2 356.9,95.9 356.8,96.5 356.6,97.2 356.2,97.8 355.9,98.5 355.4,99.2 354.9,99.8 354.4,100.5 353.9,101.1 353.3,101.8 352.9,102.4 352.5,103.1 352.2,103.8 352.1,104.4 352.1,104.4 352.0,103.8 351.7,103.1 351.3,102.4 350.8,101.8 350.3,101.1 349.8,100.5 349.2,99.8 348.7,99.2 348.3,98.5 347.9,97.8 347.6,97.2 347.4,96.5 347.2,95.9 347.2,95.2 347.2,94.5 347.4,93.9 347.6,93.2 347.9,92.6 348.3,91.9 348.7,91.2 349.2,90.6 349.8,89.9 350.3,89.3 350.8,88.6 351.3,88.0 351.7,87.3 352.0,86.6 352.1,86.0" fill="#bc81ff" stroke="#2a2a2a" stroke-width="0.85" stroke-linejoin="round"/><rect x="350.53" y="92.30" width="3.1" height="5.80" fill="#fff" stroke="#333" stroke-width="0.65"/><line x1="350.53" x2="353.63" y1="95.20" y2="95.20" stroke="#333" stroke-width="0.6"/>
<line x1="352.08" x2="352.08" y1="114.5" y2="117.0" stroke="#555" stroke-width="0.7"/>
<text x="355.08" y="120.30" font-size="8.8" text-anchor="end" transform="rotate(-90 355.08 120.30)" textLength="66.76" lengthAdjust="spacingAndGlyphs">DTL1 (<tspan font-style="italic">n</tspan> = 2,285)</text>
<polygon points="361.74,91.1 362.36,73.3 363.12,73.3 363.74,91.1" fill="#2e2e2e"/><polygon points="361.74,101.9 362.36,107.5 363.12,107.5 363.74,101.9" fill="#2e2e2e"/><polygon points="362.7,86.7 362.9,87.4 363.1,88.1 363.5,88.8 364.0,89.5 364.5,90.2 365.1,90.9 365.6,91.6 366.1,92.3 366.5,93.0 366.9,93.7 367.2,94.4 367.5,95.1 367.6,95.8 367.6,96.5 367.6,97.2 367.5,97.9 367.2,98.6 366.9,99.3 366.5,100.0 366.1,100.7 365.6,101.4 365.1,102.1 364.5,102.8 364.0,103.5 363.5,104.2 363.1,104.9 362.9,105.6 362.7,106.3 362.7,106.3 362.6,105.6 362.3,104.9 362.0,104.2 361.5,103.5 361.0,102.8 360.4,102.1 359.9,101.4 359.4,100.7 359.0,100.0 358.6,99.3 358.3,98.6 358.0,97.9 357.9,97.2 357.8,96.5 357.9,95.8 358.0,95.1 358.3,94.4 358.6,93.7 359.0,93.0 359.4,92.3 359.9,91.6 360.4,90.9 361.0,90.2 361.5,89.5 362.0,88.8 362.3,88.1 362.6,87.4 362.7,86.7" fill="#d177ff" stroke="#2a2a2a" stroke-width="0.85" stroke-linejoin="round"/><rect x="361.19" y="93.53" width="3.1" height="5.94" fill="#fff" stroke="#333" stroke-width="0.65"/><line x1="361.19" x2="364.29" y1="96.50" y2="96.50" stroke="#333" stroke-width="0.6"/>
<line x1="362.74" x2="362.74" y1="114.5" y2="117.0" stroke="#555" stroke-width="0.7"/>
<text x="365.74" y="120.30" font-size="8.8" text-anchor="end" transform="rotate(-90 365.74 120.30)" textLength="72.95" lengthAdjust="spacingAndGlyphs">PT–S2 (<tspan font-style="italic">n</tspan> = 6,751)</text>
<polygon points="372.40,93.3 373.02,88.5 373.78,88.5 374.40,93.3" fill="#2e2e2e"/><polygon points="372.40,102.9 373.02,106.2 373.78,106.2 374.40,102.9" fill="#2e2e2e"/><polygon points="373.4,89.3 373.5,89.9 373.8,90.5 374.2,91.2 374.7,91.8 375.2,92.4 375.7,93.1 376.2,93.7 376.7,94.3 377.2,95.0 377.6,95.6 377.9,96.2 378.1,96.8 378.3,97.5 378.3,98.1 378.3,98.7 378.1,99.4 377.9,100.0 377.6,100.6 377.2,101.2 376.7,101.9 376.2,102.5 375.7,103.1 375.2,103.8 374.7,104.4 374.2,105.0 373.8,105.7 373.5,106.3 373.4,106.9 373.4,106.9 373.3,106.3 373.0,105.7 372.6,105.0 372.1,104.4 371.6,103.8 371.1,103.1 370.6,102.5 370.1,101.9 369.6,101.2 369.2,100.6 368.9,100.0 368.7,99.4 368.5,98.7 368.5,98.1 368.5,97.5 368.7,96.8 368.9,96.2 369.2,95.6 369.6,95.0 370.1,94.3 370.6,93.7 371.1,93.1 371.6,92.4 372.1,91.8 372.6,91.2 373.0,90.5 373.3,89.9 373.4,89.3" fill="#e26ef7" stroke="#2a2a2a" stroke-width="0.85" stroke-linejoin="round"/><rect x="371.85" y="95.20" width="3.1" height="5.80" fill="#fff" stroke="#333" stroke-width="0.65"/><line x1="371.85" x2="374.95" y1="98.10" y2="98.10" stroke="#333" stroke-width="0.6"/>
<line x1="373.40" x2="373.40" y1="114.5" y2="117.0" stroke="#555" stroke-width="0.7"/>
<text x="376.40" y="120.30" font-size="8.8" text-anchor="end" transform="rotate(-90 376.40 120.30)" textLength="90.37" lengthAdjust="spacingAndGlyphs">OMCD–IC–A (<tspan font-style="italic">n</tspan> = 514)</text>
<polygon points="383.06,93.8 383.68,89.3 384.44,89.3 385.06,93.8" fill="#2e2e2e"/><polygon points="383.06,103.4 383.68,107.0 384.44,107.0 385.06,103.4" fill="#2e2e2e"/><polygon points="384.1,89.8 384.2,90.4 384.5,91.0 384.8,91.7 385.3,92.3 385.8,92.9 386.4,93.6 386.9,94.2 387.4,94.8 387.8,95.5 388.2,96.1 388.5,96.7 388.8,97.3 388.9,98.0 389.0,98.6 388.9,99.2 388.8,99.9 388.5,100.5 388.2,101.1 387.8,101.7 387.4,102.4 386.9,103.0 386.4,103.6 385.8,104.3 385.3,104.9 384.8,105.5 384.5,106.2 384.2,106.8 384.1,107.4 384.1,107.4 383.9,106.8 383.7,106.2 383.3,105.5 382.8,104.9 382.3,104.3 381.7,103.6 381.2,103.0 380.7,102.4 380.3,101.7 379.9,101.1 379.6,100.5 379.3,99.9 379.2,99.2 379.2,98.6 379.2,98.0 379.3,97.3 379.6,96.7 379.9,96.1 380.3,95.5 380.7,94.8 381.2,94.2 381.7,93.6 382.3,92.9 382.8,92.3 383.3,91.7 383.7,91.0 383.9,90.4 384.1,89.8" fill="#ee67ec" stroke="#2a2a2a" stroke-width="0.85" stroke-linejoin="round"/><rect x="382.51" y="95.70" width="3.1" height="5.80" fill="#fff" stroke="#333" stroke-width="0.65"/><line x1="382.51" x2="385.61" y1="98.60" y2="98.60" stroke="#333" stroke-width="0.6"/>
<line x1="384.06" x2="384.06" y1="114.5" y2="117.0" stroke="#555" stroke-width="0.7"/>
<text x="387.06" y="120.30" font-size="8.8" text-anchor="end" transform="rotate(-90 387.06 120.30)" textLength="60.89" lengthAdjust="spacingAndGlyphs">DCT2 (<tspan font-style="italic">n</tspan> = 872)</text>
<polygon points="393.72,94.0 394.34,72.4 395.10,72.4 395.72,94.0" fill="#2e2e2e"/><polygon points="393.72,104.2 394.34,107.0 395.10,107.0 395.72,104.2" fill="#2e2e2e"/><polygon points="394.7,89.9 394.8,90.5 395.1,91.2 395.5,91.9 396.0,92.5 396.5,93.2 397.0,93.8 397.6,94.5 398.1,95.1 398.5,95.8 398.9,96.5 399.2,97.1 399.4,97.8 399.6,98.4 399.6,99.1 399.6,99.8 399.4,100.4 399.2,101.1 398.9,101.7 398.5,102.4 398.1,103.1 397.6,103.7 397.0,104.4 396.5,105.0 396.0,105.7 395.5,106.3 395.1,107.0 394.8,107.7 394.7,108.3 394.7,108.3 394.6,107.7 394.3,107.0 393.9,106.3 393.5,105.7 392.9,105.0 392.4,104.4 391.9,103.7 391.4,103.1 390.9,102.4 390.6,101.7 390.2,101.1 390.0,100.4 389.9,99.8 389.8,99.1 389.9,98.4 390.0,97.8 390.2,97.1 390.6,96.5 390.9,95.8 391.4,95.1 391.9,94.5 392.4,93.8 392.9,93.2 393.5,92.5 393.9,91.9 394.3,91.2 394.6,90.5 394.7,89.9" fill="#f863df" stroke="#2a2a2a" stroke-width="0.85" stroke-linejoin="round"/><rect x="393.17" y="96.20" width="3.1" height="5.80" fill="#fff" stroke="#333" stroke-width="0.65"/><line x1="393.17" x2="396.27" y1="99.10" y2="99.10" stroke="#333" stroke-width="0.6"/>
<line x1="394.72" x2="394.72" y1="114.5" y2="117.0" stroke="#555" stroke-width="0.7"/>
<text x="397.72" y="120.30" font-size="8.8" text-anchor="end" transform="rotate(-90 397.72 120.30)" textLength="73.12" lengthAdjust="spacingAndGlyphs">DCT1 (<tspan font-style="italic">n</tspan> = 12,622)</text>
<polygon points="404.38,94.4 405.00,70.3 405.76,70.3 406.38,94.4" fill="#2e2e2e"/><polygon points="404.38,104.6 405.00,107.0 405.76,107.0 406.38,104.6" fill="#2e2e2e"/><polygon points="405.4,90.3 405.5,90.9 405.8,91.6 406.2,92.3 406.6,92.9 407.2,93.6 407.7,94.2 408.2,94.9 408.7,95.5 409.2,96.2 409.5,96.9 409.9,97.5 410.1,98.2 410.2,98.8 410.3,99.5 410.2,100.2 410.1,100.8 409.9,101.5 409.5,102.1 409.2,102.8 408.7,103.5 408.2,104.1 407.7,104.8 407.2,105.4 406.6,106.1 406.2,106.7 405.8,107.4 405.5,108.1 405.4,108.7 405.4,108.7 405.3,108.1 405.0,107.4 404.6,106.7 404.1,106.1 403.6,105.4 403.1,104.8 402.5,104.1 402.0,103.5 401.6,102.8 401.2,102.1 400.9,101.5 400.7,100.8 400.5,100.2 400.5,99.5 400.5,98.8 400.7,98.2 400.9,97.5 401.2,96.9 401.6,96.2 402.0,95.5 402.5,94.9 403.1,94.2 403.6,93.6 404.1,92.9 404.6,92.3 405.0,91.6 405.3,90.9 405.4,90.3" fill="#fe61d0" stroke="#2a2a2a" stroke-width="0.85" stroke-linejoin="round"/><rect x="403.83" y="96.60" width="3.1" height="5.80" fill="#fff" stroke="#333" stroke-width="0.65"/><line x1="403.83" x2="406.93" y1="99.50" y2="99.50" stroke="#333" stroke-width="0.6"/>
<line x1="405.38" x2="405.38" y1="114.5" y2="117.0" stroke="#555" stroke-width="0.7"/>
<text x="408.38" y="120.30" font-size="8.8" text-anchor="end" transform="rotate(-90 408.38 120.30)" textLength="65.61" lengthAdjust="spacingAndGlyphs">IC–B (<tspan font-style="italic">n</tspan> = 2,125)</text>
<polygon points="415.04,94.1 415.66,72.8 416.42,72.8 417.04,94.1" fill="#2e2e2e"/><polygon points="415.04,104.9 415.66,108.7 416.42,108.7 417.04,104.9" fill="#2e2e2e"/><polygon points="416.0,89.7 416.2,90.4 416.4,91.1 416.8,91.8 417.3,92.5 417.8,93.2 418.4,93.9 418.9,94.6 419.4,95.3 419.8,96.0 420.2,96.7 420.5,97.4 420.8,98.1 420.9,98.8 420.9,99.5 420.9,100.2 420.8,100.9 420.5,101.6 420.2,102.3 419.8,103.0 419.4,103.7 418.9,104.4 418.4,105.1 417.8,105.8 417.3,106.5 416.8,107.2 416.4,107.9 416.2,108.6 416.0,109.3 416.0,109.3 415.9,108.6 415.6,107.9 415.3,107.2 414.8,106.5 414.3,105.8 413.7,105.1 413.2,104.4 412.7,103.7 412.3,103.0 411.9,102.3 411.6,101.6 411.3,100.9 411.2,100.2 411.1,99.5 411.2,98.8 411.3,98.1 411.6,97.4 411.9,96.7 412.3,96.0 412.7,95.3 413.2,94.6 413.7,93.9 414.3,93.2 414.8,92.5 415.3,91.8 415.6,91.1 415.9,90.4 416.0,89.7" fill="#ff62bf" stroke="#2a2a2a" stroke-width="0.85" stroke-linejoin="round"/><rect x="414.49" y="96.53" width="3.1" height="5.94" fill="#fff" stroke="#333" stroke-width="0.65"/><line x1="414.49" x2="417.59" y1="99.50" y2="99.50" stroke="#333" stroke-width="0.6"/>
<line x1="416.04" x2="416.04" y1="114.5" y2="117.0" stroke="#555" stroke-width="0.7"/>
<text x="419.04" y="120.30" font-size="8.8" text-anchor="end" transform="rotate(-90 419.04 120.30)" textLength="77.84" lengthAdjust="spacingAndGlyphs">PT–S1 (<tspan font-style="italic">n</tspan> = 24,160)</text>
<polygon points="425.70,94.7 426.32,68.2 427.08,68.2 427.70,94.7" fill="#2e2e2e"/><polygon points="425.70,104.9 426.32,109.6 427.08,109.6 427.70,104.9" fill="#2e2e2e"/><polygon points="426.7,90.6 426.8,91.2 427.1,91.9 427.5,92.6 428.0,93.2 428.5,93.9 429.0,94.5 429.5,95.2 430.0,95.8 430.5,96.5 430.9,97.2 431.2,97.8 431.4,98.5 431.6,99.1 431.6,99.8 431.6,100.5 431.4,101.1 431.2,101.8 430.9,102.4 430.5,103.1 430.0,103.8 429.5,104.4 429.0,105.1 428.5,105.7 428.0,106.4 427.5,107.0 427.1,107.7 426.8,108.4 426.7,109.0 426.7,109.0 426.6,108.4 426.3,107.7 425.9,107.0 425.4,106.4 424.9,105.7 424.4,105.1 423.9,104.4 423.4,103.8 422.9,103.1 422.5,102.4 422.2,101.8 422.0,101.1 421.8,100.5 421.8,99.8 421.8,99.1 422.0,98.5 422.2,97.8 422.5,97.2 422.9,96.5 423.4,95.8 423.9,95.2 424.4,94.5 424.9,93.9 425.4,93.2 425.9,92.6 426.3,91.9 426.6,91.2 426.7,90.6" fill="#ff65ad" stroke="#2a2a2a" stroke-width="0.85" stroke-linejoin="round"/><rect x="425.15" y="96.90" width="3.1" height="5.80" fill="#fff" stroke="#333" stroke-width="0.65"/><line x1="425.15" x2="428.25" y1="99.80" y2="99.80" stroke="#333" stroke-width="0.6"/>
<line x1="426.70" x2="426.70" y1="114.5" y2="117.0" stroke="#555" stroke-width="0.7"/>
<text x="429.70" y="120.30" font-size="8.8" text-anchor="end" transform="rotate(-90 429.70 120.30)" textLength="77.35" lengthAdjust="spacingAndGlyphs">C–TAL (<tspan font-style="italic">n</tspan> = 26,536)</text>
<polygon points="436.36,95.2 436.98,70.8 437.74,70.8 438.36,95.2" fill="#2e2e2e"/><polygon points="436.36,105.4 436.98,108.0 437.74,108.0 438.36,105.4" fill="#2e2e2e"/><polygon points="437.4,91.1 437.5,91.7 437.8,92.4 438.1,93.1 438.6,93.7 439.1,94.4 439.7,95.0 440.2,95.7 440.7,96.3 441.1,97.0 441.5,97.7 441.8,98.3 442.1,99.0 442.2,99.6 442.3,100.3 442.2,101.0 442.1,101.6 441.8,102.3 441.5,102.9 441.1,103.6 440.7,104.3 440.2,104.9 439.7,105.6 439.1,106.2 438.6,106.9 438.1,107.5 437.8,108.2 437.5,108.9 437.4,109.5 437.4,109.5 437.2,108.9 437.0,108.2 436.6,107.5 436.1,106.9 435.6,106.2 435.0,105.6 434.5,104.9 434.0,104.3 433.6,103.6 433.2,102.9 432.9,102.3 432.6,101.6 432.5,101.0 432.5,100.3 432.5,99.6 432.6,99.0 432.9,98.3 433.2,97.7 433.6,97.0 434.0,96.3 434.5,95.7 435.0,95.0 435.6,94.4 436.1,93.7 436.6,93.1 437.0,92.4 437.2,91.7 437.4,91.1" fill="#ff6a9a" stroke="#2a2a2a" stroke-width="0.85" stroke-linejoin="round"/><rect x="435.81" y="97.40" width="3.1" height="5.80" fill="#fff" stroke="#333" stroke-width="0.65"/><line x1="435.81" x2="438.91" y1="100.30" y2="100.30" stroke="#333" stroke-width="0.6"/>
<line x1="437.36" x2="437.36" y1="114.5" y2="117.0" stroke="#555" stroke-width="0.7"/>
<text x="440.36" y="120.30" font-size="8.8" text-anchor="end" transform="rotate(-90 440.36 120.30)" textLength="78.32" lengthAdjust="spacingAndGlyphs">M–TAL (<tspan font-style="italic">n</tspan> = 10,492)</text>
<polygon points="447.02,97.2 447.64,67.4 448.40,67.4 449.02,97.2" fill="#2e2e2e"/><polygon points="447.02,106.8 447.64,109.6 448.40,109.6 449.02,106.8" fill="#2e2e2e"/><polygon points="448.0,93.2 448.1,93.8 448.4,94.4 448.8,95.1 449.3,95.7 449.8,96.3 450.3,97.0 450.9,97.6 451.4,98.2 451.8,98.9 452.2,99.5 452.5,100.1 452.7,100.7 452.9,101.4 452.9,102.0 452.9,102.6 452.7,103.3 452.5,103.9 452.2,104.5 451.8,105.1 451.4,105.8 450.9,106.4 450.3,107.0 449.8,107.7 449.3,108.3 448.8,108.9 448.4,109.6 448.1,110.2 448.0,110.8 448.0,110.8 447.9,110.2 447.6,109.6 447.2,108.9 446.8,108.3 446.2,107.7 445.7,107.0 445.2,106.4 444.7,105.8 444.2,105.1 443.9,104.5 443.5,103.9 443.3,103.3 443.2,102.6 443.1,102.0 443.2,101.4 443.3,100.7 443.5,100.1 443.9,99.5 444.2,98.9 444.7,98.2 445.2,97.6 445.7,97.0 446.2,96.3 446.8,95.7 447.2,95.1 447.6,94.4 447.9,93.8 448.0,93.2" fill="#fd7084" stroke="#2a2a2a" stroke-width="0.85" stroke-linejoin="round"/><rect x="446.47" y="99.10" width="3.1" height="5.80" fill="#fff" stroke="#333" stroke-width="0.65"/><line x1="446.47" x2="449.57" y1="102.00" y2="102.00" stroke="#333" stroke-width="0.6"/>
<line x1="448.02" x2="448.02" y1="114.5" y2="117.0" stroke="#555" stroke-width="0.7"/>
<text x="451.02" y="120.30" font-size="8.8" text-anchor="end" transform="rotate(-90 451.02 120.30)" textLength="89.88" lengthAdjust="spacingAndGlyphs">CCD–IC–A (<tspan font-style="italic">n</tspan> = 5,129)</text>
<text x="18.5" y="63.5" font-size="11.2" text-anchor="middle" fill="#222" transform="rotate(-90 18.5 63.5)" textLength="79.3" lengthAdjust="spacingAndGlyphs">Signature score</text>
<text x="0.00" y="233.00" font-size="15.2" fill="#000" font-weight="bold" stroke="#000" stroke-width="0.35">b</text>
<text x="242.90" y="232.60" font-size="11.6" text-anchor="middle" textLength="201.00" lengthAdjust="spacingAndGlyphs">Metabolic-related impairment signature</text>
<path d="M47,236 V338.8 H452" fill="none" stroke="#555" stroke-width="0.8"/>
<line x1="44.5" x2="47" y1="242.1" y2="242.1" stroke="#555" stroke-width="0.7"/>
<text x="40.80" y="244.80" font-size="10.2" text-anchor="end" fill="#333">0.75</text>
<line x1="44.5" x2="47" y1="265.4" y2="265.4" stroke="#555" stroke-width="0.7"/>
<text x="40.80" y="268.10" font-size="10.2" text-anchor="end" fill="#333">0.50</text>
<line x1="44.5" x2="47" y1="288.7" y2="288.7" stroke="#555" stroke-width="0.7"/>
<text x="40.80" y="291.40" font-size="10.2" text-anchor="end" fill="#333">0.25</text>
<line x1="44.5" x2="47" y1="312.3" y2="312.3" stroke="#555" stroke-width="0.7"/>
<text x="40.80" y="315.00" font-size="10.2" text-anchor="end" fill="#333">0</text>
<line x1="44.5" x2="47" y1="335.4" y2="335.4" stroke="#555" stroke-width="0.7"/>
<text x="40.80" y="338.10" font-size="10.2" text-anchor="end" fill="#333">−0.25</text>
<polygon points="52.40,249.6 53.02,240.0 53.78,240.0 54.40,249.6" fill="#2e2e2e"/><polygon points="52.40,267.6 53.02,280.6 53.78,280.6 54.40,267.6" fill="#2e2e2e"/><polygon points="53.4,242.2 53.5,243.4 53.8,244.5 54.2,245.7 54.7,246.9 55.2,248.1 55.7,249.2 56.2,250.4 56.7,251.6 57.2,252.7 57.6,253.9 57.9,255.1 58.1,256.3 58.3,257.4 58.3,258.6 58.3,259.8 58.1,260.9 57.9,262.1 57.6,263.3 57.2,264.5 56.7,265.6 56.2,266.8 55.7,268.0 55.2,269.1 54.7,270.3 54.2,271.5 53.8,272.7 53.5,273.8 53.4,275.0 53.4,275.0 53.3,273.8 53.0,272.7 52.6,271.5 52.1,270.3 51.6,269.1 51.1,268.0 50.6,266.8 50.1,265.6 49.6,264.5 49.2,263.3 48.9,262.1 48.7,260.9 48.5,259.8 48.5,258.6 48.5,257.4 48.7,256.3 48.9,255.1 49.2,253.9 49.6,252.7 50.1,251.6 50.6,250.4 51.1,249.2 51.6,248.1 52.1,246.9 52.6,245.7 53.0,244.5 53.3,243.4 53.4,242.2" fill="#f8766d" stroke="#2a2a2a" stroke-width="0.85" stroke-linejoin="round"/><rect x="51.85" y="251.15" width="3.1" height="14.90" fill="#fff" stroke="#333" stroke-width="0.65"/><line x1="51.85" x2="54.95" y1="258.60" y2="258.60" stroke="#333" stroke-width="0.6"/>
<line x1="53.40" x2="53.40" y1="338.8" y2="341.3" stroke="#555" stroke-width="0.7"/>
<text x="56.40" y="344.20" font-size="8.8" text-anchor="end" transform="rotate(-90 56.40 344.20)" textLength="69.83" lengthAdjust="spacingAndGlyphs">EC–GC (<tspan font-style="italic">n</tspan> = 402)</text>
<polygon points="63.62,256.9 64.24,242.0 65.00,242.0 65.62,256.9" fill="#2e2e2e"/><polygon points="63.62,279.4 64.24,307.6 65.00,307.6 65.62,279.4" fill="#2e2e2e"/><polygon points="64.6,248.6 64.7,249.9 65.0,251.2 65.4,252.5 65.9,253.8 66.4,255.1 66.9,256.5 67.5,257.8 68.0,259.1 68.4,260.4 68.8,261.7 69.1,263.0 69.3,264.4 69.5,265.7 69.5,267.0 69.5,268.6 69.3,270.2 69.1,271.8 68.8,273.4 68.4,275.1 68.0,276.7 67.5,278.3 66.9,279.9 66.4,281.5 65.9,283.1 65.4,284.7 65.0,286.3 64.7,287.9 64.6,289.6 64.6,289.6 64.5,287.9 64.2,286.3 63.8,284.7 63.4,283.1 62.8,281.5 62.3,279.9 61.8,278.3 61.3,276.7 60.8,275.1 60.5,273.4 60.1,271.8 59.9,270.2 59.8,268.6 59.7,267.0 59.8,265.7 59.9,264.4 60.1,263.0 60.5,261.7 60.8,260.4 61.3,259.1 61.8,257.8 62.3,256.5 62.8,255.1 63.4,253.8 63.8,252.5 64.2,251.2 64.5,249.9 64.6,248.6" fill="#f17d50" stroke="#2a2a2a" stroke-width="0.85" stroke-linejoin="round"/><rect x="63.07" y="259.50" width="3.1" height="15.00" fill="#fff" stroke="#333" stroke-width="0.65"/><line x1="63.07" x2="66.17" y1="267.00" y2="267.00" stroke="#333" stroke-width="0.6"/>
<line x1="64.62" x2="64.62" y1="338.8" y2="341.3" stroke="#555" stroke-width="0.7"/>
<text x="67.62" y="344.20" font-size="8.8" text-anchor="end" transform="rotate(-90 67.62 344.20)" textLength="81.57" lengthAdjust="spacingAndGlyphs">EC–PTC (<tspan font-style="italic">n</tspan> = 3,053)</text>
<polygon points="74.84,267.0 75.46,248.5 76.22,248.5 76.84,267.0" fill="#2e2e2e"/><polygon points="74.84,284.0 75.46,299.1 76.22,299.1 76.84,284.0" fill="#2e2e2e"/><polygon points="75.8,260.1 76.0,261.2 76.2,262.3 76.6,263.4 77.1,264.5 77.6,265.6 78.2,266.7 78.7,267.8 79.2,268.9 79.6,270.0 80.0,271.1 80.3,272.2 80.6,273.3 80.7,274.4 80.7,275.5 80.7,276.6 80.6,277.7 80.3,278.8 80.0,279.9 79.6,281.0 79.2,282.1 78.7,283.2 78.2,284.3 77.6,285.4 77.1,286.5 76.6,287.6 76.2,288.7 76.0,289.8 75.8,290.9 75.8,290.9 75.7,289.8 75.4,288.7 75.1,287.6 74.6,286.5 74.1,285.4 73.5,284.3 73.0,283.2 72.5,282.1 72.1,281.0 71.7,279.9 71.4,278.8 71.1,277.7 71.0,276.6 70.9,275.5 71.0,274.4 71.1,273.3 71.4,272.2 71.7,271.1 72.1,270.0 72.5,268.9 73.0,267.8 73.5,266.7 74.1,265.6 74.6,264.5 75.1,263.4 75.4,262.3 75.7,261.2 75.8,260.1" fill="#e88526" stroke="#2a2a2a" stroke-width="0.85" stroke-linejoin="round"/><rect x="74.29" y="268.75" width="3.1" height="13.50" fill="#fff" stroke="#333" stroke-width="0.65"/><line x1="74.29" x2="77.39" y1="275.50" y2="275.50" stroke="#333" stroke-width="0.6"/>
<line x1="75.84" x2="75.84" y1="338.8" y2="341.3" stroke="#555" stroke-width="0.7"/>
<text x="78.84" y="344.20" font-size="8.8" text-anchor="end" transform="rotate(-90 78.84 344.20)" textLength="75.21" lengthAdjust="spacingAndGlyphs">EC–DVR (<tspan font-style="italic">n</tspan> = 398)</text>
<polygon points="86.06,269.3 86.68,254.4 87.44,254.4 88.06,269.3" fill="#2e2e2e"/><polygon points="86.06,286.2 86.68,303.4 87.44,303.4 88.06,286.2" fill="#2e2e2e"/><polygon points="87.1,262.8 87.2,263.9 87.5,264.9 87.8,265.9 88.3,266.9 88.8,268.0 89.4,269.0 89.9,270.0 90.4,271.1 90.8,272.1 91.2,273.1 91.5,274.1 91.8,275.1 91.9,276.2 92.0,277.2 91.9,278.4 91.8,279.5 91.5,280.7 91.2,281.9 90.8,283.1 90.4,284.2 89.9,285.4 89.4,286.6 88.8,287.7 88.3,288.9 87.8,290.1 87.5,291.3 87.2,292.4 87.1,293.6 87.1,293.6 86.9,292.4 86.7,291.3 86.3,290.1 85.8,288.9 85.3,287.7 84.7,286.6 84.2,285.4 83.7,284.2 83.3,283.1 82.9,281.9 82.6,280.7 82.3,279.5 82.2,278.4 82.2,277.2 82.2,276.2 82.3,275.1 82.6,274.1 82.9,273.1 83.3,272.1 83.7,271.1 84.2,270.0 84.7,269.0 85.3,268.0 85.8,266.9 86.3,265.9 86.7,264.9 86.9,263.9 87.1,262.8" fill="#de8c00" stroke="#2a2a2a" stroke-width="0.85" stroke-linejoin="round"/><rect x="85.51" y="270.45" width="3.1" height="13.50" fill="#fff" stroke="#333" stroke-width="0.65"/><line x1="85.51" x2="88.61" y1="277.20" y2="277.20" stroke="#333" stroke-width="0.6"/>
<line x1="87.06" x2="87.06" y1="338.8" y2="341.3" stroke="#555" stroke-width="0.7"/>
<text x="90.06" y="344.20" font-size="8.8" text-anchor="end" transform="rotate(-90 90.06 344.20)" textLength="74.07" lengthAdjust="spacingAndGlyphs">EC–AVR (<tspan font-style="italic">n</tspan> = 714)</text>
<polygon points="97.28,271.8 97.90,264.5 98.66,264.5 99.28,271.8" fill="#2e2e2e"/><polygon points="97.28,284.2 97.90,306.7 98.66,306.7 99.28,284.2" fill="#2e2e2e"/><polygon points="98.3,266.7 98.4,267.5 98.7,268.3 99.1,269.1 99.5,269.9 100.1,270.8 100.6,271.6 101.1,272.4 101.6,273.2 102.1,274.0 102.4,274.8 102.8,275.6 103.0,276.4 103.1,277.2 103.2,278.0 103.1,278.8 103.0,279.6 102.8,280.4 102.4,281.2 102.1,282.0 101.6,282.8 101.1,283.6 100.6,284.4 100.1,285.2 99.5,286.1 99.1,286.9 98.7,287.7 98.4,288.5 98.3,289.3 98.3,289.3 98.2,288.5 97.9,287.7 97.5,286.9 97.0,286.1 96.5,285.2 96.0,284.4 95.4,283.6 94.9,282.8 94.5,282.0 94.1,281.2 93.8,280.4 93.6,279.6 93.4,278.8 93.4,278.0 93.4,277.2 93.6,276.4 93.8,275.6 94.1,274.8 94.5,274.0 94.9,273.2 95.4,272.4 96.0,271.6 96.5,270.8 97.0,269.9 97.5,269.1 97.9,268.3 98.2,267.5 98.3,266.7" fill="#d39200" stroke="#2a2a2a" stroke-width="0.85" stroke-linejoin="round"/><rect x="96.73" y="274.05" width="3.1" height="7.90" fill="#fff" stroke="#333" stroke-width="0.65"/><line x1="96.73" x2="99.83" y1="278.00" y2="278.00" stroke="#333" stroke-width="0.6"/>
<line x1="98.28" x2="98.28" y1="338.8" y2="341.3" stroke="#555" stroke-width="0.7"/>
<text x="101.28" y="344.20" font-size="8.8" text-anchor="end" transform="rotate(-90 101.28 344.20)" textLength="91.48" lengthAdjust="spacingAndGlyphs">CCD–IC–A (<tspan font-style="italic">n</tspan> = 3,217)</text>
<polygon points="108.50,274.1 109.12,267.0 109.88,267.0 110.50,274.1" fill="#2e2e2e"/><polygon points="108.50,285.3 109.12,296.6 109.88,296.6 110.50,285.3" fill="#2e2e2e"/><polygon points="109.5,269.4 109.6,270.2 109.9,270.9 110.3,271.6 110.8,272.4 111.3,273.1 111.8,273.8 112.3,274.6 112.8,275.3 113.3,276.0 113.7,276.8 114.0,277.5 114.2,278.2 114.4,279.0 114.4,279.7 114.4,280.4 114.2,281.2 114.0,281.9 113.7,282.6 113.3,283.4 112.8,284.1 112.3,284.8 111.8,285.6 111.3,286.3 110.8,287.0 110.3,287.8 109.9,288.5 109.6,289.2 109.5,289.9 109.5,289.9 109.4,289.2 109.1,288.5 108.7,287.8 108.2,287.0 107.7,286.3 107.2,285.6 106.7,284.8 106.2,284.1 105.7,283.4 105.3,282.6 105.0,281.9 104.8,281.2 104.6,280.4 104.6,279.7 104.6,279.0 104.8,278.2 105.0,277.5 105.3,276.8 105.7,276.0 106.2,275.3 106.7,274.6 107.2,273.8 107.7,273.1 108.2,272.4 108.7,271.6 109.1,270.9 109.4,270.2 109.5,269.4" fill="#c69900" stroke="#2a2a2a" stroke-width="0.85" stroke-linejoin="round"/><rect x="107.95" y="276.45" width="3.1" height="6.50" fill="#fff" stroke="#333" stroke-width="0.65"/><line x1="107.95" x2="111.05" y1="279.70" y2="279.70" stroke="#333" stroke-width="0.6"/>
<line x1="109.50" x2="109.50" y1="338.8" y2="341.3" stroke="#555" stroke-width="0.7"/>
<text x="112.50" y="344.20" font-size="8.8" text-anchor="end" transform="rotate(-90 112.50 344.20)" textLength="91.97" lengthAdjust="spacingAndGlyphs">OMCD–IC–A (<tspan font-style="italic">n</tspan> = 467)</text>
<polygon points="119.72,277.5 120.34,268.4 121.10,268.4 121.72,277.5" fill="#2e2e2e"/><polygon points="119.72,288.7 120.34,295.8 121.10,295.8 121.72,288.7" fill="#2e2e2e"/><polygon points="120.7,272.9 120.8,273.6 121.1,274.3 121.5,275.0 122.0,275.8 122.5,276.5 123.0,277.2 123.6,278.0 124.1,278.7 124.5,279.4 124.9,280.2 125.2,280.9 125.4,281.6 125.6,282.4 125.6,283.1 125.6,283.8 125.4,284.6 125.2,285.3 124.9,286.0 124.5,286.8 124.1,287.5 123.6,288.2 123.0,289.0 122.5,289.7 122.0,290.4 121.5,291.2 121.1,291.9 120.8,292.6 120.7,293.4 120.7,293.4 120.6,292.6 120.3,291.9 119.9,291.2 119.5,290.4 118.9,289.7 118.4,289.0 117.9,288.2 117.4,287.5 116.9,286.8 116.6,286.0 116.2,285.3 116.0,284.6 115.9,283.8 115.8,283.1 115.9,282.4 116.0,281.6 116.2,280.9 116.6,280.2 116.9,279.4 117.4,278.7 117.9,278.0 118.4,277.2 118.9,276.5 119.5,275.8 119.9,275.0 120.3,274.3 120.6,273.6 120.7,272.9" fill="#b79f00" stroke="#2a2a2a" stroke-width="0.85" stroke-linejoin="round"/><rect x="119.17" y="279.85" width="3.1" height="6.50" fill="#fff" stroke="#333" stroke-width="0.65"/><line x1="119.17" x2="122.27" y1="283.10" y2="283.10" stroke="#333" stroke-width="0.6"/>
<line x1="120.72" x2="120.72" y1="338.8" y2="341.3" stroke="#555" stroke-width="0.7"/>
<text x="123.72" y="344.20" font-size="8.8" text-anchor="end" transform="rotate(-90 123.72 344.20)" textLength="74.71" lengthAdjust="spacingAndGlyphs">CNT–PC (<tspan font-style="italic">n</tspan> = 660)</text>
<polygon points="130.94,281.7 131.56,273.0 132.32,273.0 132.94,281.7" fill="#2e2e2e"/><polygon points="130.94,292.9 131.56,306.7 132.32,306.7 132.94,292.9" fill="#2e2e2e"/><polygon points="131.9,277.1 132.1,277.8 132.3,278.5 132.7,279.2 133.2,280.0 133.7,280.7 134.3,281.4 134.8,282.2 135.3,282.9 135.7,283.6 136.1,284.4 136.4,285.1 136.7,285.8 136.8,286.6 136.8,287.3 136.8,288.0 136.7,288.8 136.4,289.5 136.1,290.2 135.7,291.0 135.3,291.7 134.8,292.4 134.3,293.2 133.7,293.9 133.2,294.6 132.7,295.4 132.3,296.1 132.1,296.8 131.9,297.6 131.9,297.6 131.8,296.8 131.5,296.1 131.2,295.4 130.7,294.6 130.2,293.9 129.6,293.2 129.1,292.4 128.6,291.7 128.2,291.0 127.8,290.2 127.5,289.5 127.2,288.8 127.1,288.0 127.0,287.3 127.1,286.6 127.2,285.8 127.5,285.1 127.8,284.4 128.2,283.6 128.6,282.9 129.1,282.2 129.6,281.4 130.2,280.7 130.7,280.0 131.2,279.2 131.5,278.5 131.8,277.8 131.9,277.1" fill="#a6a400" stroke="#2a2a2a" stroke-width="0.85" stroke-linejoin="round"/><rect x="130.39" y="284.05" width="3.1" height="6.50" fill="#fff" stroke="#333" stroke-width="0.65"/><line x1="130.39" x2="133.49" y1="287.30" y2="287.30" stroke="#333" stroke-width="0.6"/>
<line x1="131.94" x2="131.94" y1="338.8" y2="341.3" stroke="#555" stroke-width="0.7"/>
<text x="134.94" y="344.20" font-size="8.8" text-anchor="end" transform="rotate(-90 134.94 344.20)" textLength="90.85" lengthAdjust="spacingAndGlyphs">OMCD–PC (<tspan font-style="italic">n</tspan> = 1,298)</text>
<polygon points="142.16,283.4 142.78,272.1 143.54,272.1 144.16,283.4" fill="#2e2e2e"/><polygon points="142.16,294.6 142.78,309.3 143.54,309.3 144.16,294.6" fill="#2e2e2e"/><polygon points="143.2,278.8 143.3,279.5 143.6,280.2 143.9,280.9 144.4,281.7 144.9,282.4 145.5,283.1 146.0,283.9 146.5,284.6 146.9,285.3 147.3,286.1 147.6,286.8 147.9,287.5 148.0,288.3 148.1,289.0 148.0,289.7 147.9,290.5 147.6,291.2 147.3,291.9 146.9,292.7 146.5,293.4 146.0,294.1 145.5,294.9 144.9,295.6 144.4,296.3 143.9,297.1 143.6,297.8 143.3,298.5 143.2,299.2 143.2,299.2 143.0,298.5 142.8,297.8 142.4,297.1 141.9,296.3 141.4,295.6 140.8,294.9 140.3,294.1 139.8,293.4 139.4,292.7 139.0,291.9 138.7,291.2 138.4,290.5 138.3,289.7 138.3,289.0 138.3,288.3 138.4,287.5 138.7,286.8 139.0,286.1 139.4,285.3 139.8,284.6 140.3,283.9 140.8,283.1 141.4,282.4 141.9,281.7 142.4,280.9 142.8,280.2 143.0,279.5 143.2,278.8" fill="#93aa00" stroke="#2a2a2a" stroke-width="0.85" stroke-linejoin="round"/><rect x="141.61" y="285.75" width="3.1" height="6.50" fill="#fff" stroke="#333" stroke-width="0.65"/><line x1="141.61" x2="144.71" y1="289.00" y2="289.00" stroke="#333" stroke-width="0.6"/>
<line x1="143.16" x2="143.16" y1="338.8" y2="341.3" stroke="#555" stroke-width="0.7"/>
<text x="146.16" y="344.20" font-size="8.8" text-anchor="end" transform="rotate(-90 146.16 344.20)" textLength="83.03" lengthAdjust="spacingAndGlyphs">CCD–PC (<tspan font-style="italic">n</tspan> = 2,441)</text>
<polygon points="153.38,284.0 154.00,268.8 154.76,268.8 155.38,284.0" fill="#2e2e2e"/><polygon points="153.38,295.8 154.00,311.8 154.76,311.8 155.38,295.8" fill="#2e2e2e"/><polygon points="154.4,279.2 154.5,280.0 154.8,280.8 155.2,281.5 155.6,282.3 156.2,283.0 156.7,283.8 157.2,284.6 157.7,285.3 158.2,286.1 158.5,286.9 158.9,287.6 159.1,288.4 159.2,289.1 159.3,289.9 159.2,290.7 159.1,291.4 158.9,292.2 158.5,292.9 158.2,293.7 157.7,294.5 157.2,295.2 156.7,296.0 156.2,296.8 155.6,297.5 155.2,298.3 154.8,299.0 154.5,299.8 154.4,300.6 154.4,300.6 154.3,299.8 154.0,299.0 153.6,298.3 153.1,297.5 152.6,296.8 152.1,296.0 151.5,295.2 151.0,294.5 150.6,293.7 150.2,292.9 149.9,292.2 149.7,291.4 149.5,290.7 149.5,289.9 149.5,289.1 149.7,288.4 149.9,287.6 150.2,286.9 150.6,286.1 151.0,285.3 151.5,284.6 152.1,283.8 152.6,283.0 153.1,282.3 153.6,281.5 154.0,280.8 154.3,280.0 154.4,279.2" fill="#7cae00" stroke="#2a2a2a" stroke-width="0.85" stroke-linejoin="round"/><rect x="152.83" y="286.37" width="3.1" height="7.06" fill="#fff" stroke="#333" stroke-width="0.65"/><line x1="152.83" x2="155.93" y1="289.90" y2="289.90" stroke="#333" stroke-width="0.6"/>
<line x1="154.38" x2="154.38" y1="338.8" y2="341.3" stroke="#555" stroke-width="0.7"/>
<text x="157.38" y="344.20" font-size="8.8" text-anchor="end" transform="rotate(-90 157.38 344.20)" textLength="63.17" lengthAdjust="spacingAndGlyphs">CNT (<tspan font-style="italic">n</tspan> = 3,336)</text>
<polygon points="164.60,284.8 165.22,268.8 165.98,268.8 166.60,284.8" fill="#2e2e2e"/><polygon points="164.60,296.6 165.22,313.5 165.98,313.5 166.60,296.6" fill="#2e2e2e"/><polygon points="165.6,280.0 165.7,280.8 166.0,281.6 166.4,282.3 166.9,283.1 167.4,283.8 167.9,284.6 168.4,285.4 168.9,286.1 169.4,286.9 169.8,287.7 170.1,288.4 170.3,289.2 170.5,289.9 170.5,290.7 170.5,291.5 170.3,292.2 170.1,293.0 169.8,293.7 169.4,294.5 168.9,295.3 168.4,296.0 167.9,296.8 167.4,297.6 166.9,298.3 166.4,299.1 166.0,299.8 165.7,300.6 165.6,301.4 165.6,301.4 165.5,300.6 165.2,299.8 164.8,299.1 164.3,298.3 163.8,297.6 163.3,296.8 162.8,296.0 162.3,295.3 161.8,294.5 161.4,293.7 161.1,293.0 160.9,292.2 160.7,291.5 160.7,290.7 160.7,289.9 160.9,289.2 161.1,288.4 161.4,287.7 161.8,286.9 162.3,286.1 162.8,285.4 163.3,284.6 163.8,283.8 164.3,283.1 164.8,282.3 165.2,281.6 165.5,280.8 165.6,280.0" fill="#5eb300" stroke="#2a2a2a" stroke-width="0.85" stroke-linejoin="round"/><rect x="164.05" y="287.17" width="3.1" height="7.06" fill="#fff" stroke="#333" stroke-width="0.65"/><line x1="164.05" x2="167.15" y1="290.70" y2="290.70" stroke="#333" stroke-width="0.6"/>
<line x1="165.60" x2="165.60" y1="338.8" y2="341.3" stroke="#555" stroke-width="0.7"/>
<text x="168.60" y="344.20" font-size="8.8" text-anchor="end" transform="rotate(-90 168.60 344.20)" textLength="66.41" lengthAdjust="spacingAndGlyphs">IC–B (<tspan font-style="italic">n</tspan> = 1,576)</text>
<polygon points="175.82,290.2 176.44,266.2 177.20,266.2 177.82,290.2" fill="#2e2e2e"/><polygon points="175.82,301.4 176.44,309.3 177.20,309.3 177.82,301.4" fill="#2e2e2e"/><polygon points="176.8,285.6 176.9,286.3 177.2,287.0 177.6,287.7 178.1,288.5 178.6,289.2 179.1,289.9 179.7,290.7 180.2,291.4 180.6,292.1 181.0,292.9 181.3,293.6 181.5,294.3 181.7,295.1 181.7,295.8 181.7,296.5 181.5,297.3 181.3,298.0 181.0,298.7 180.6,299.5 180.2,300.2 179.7,300.9 179.1,301.7 178.6,302.4 178.1,303.1 177.6,303.9 177.2,304.6 176.9,305.3 176.8,306.1 176.8,306.1 176.7,305.3 176.4,304.6 176.0,303.9 175.6,303.1 175.0,302.4 174.5,301.7 174.0,300.9 173.5,300.2 173.0,299.5 172.7,298.7 172.3,298.0 172.1,297.3 172.0,296.5 171.9,295.8 172.0,295.1 172.1,294.3 172.3,293.6 172.7,292.9 173.0,292.1 173.5,291.4 174.0,290.7 174.5,289.9 175.0,289.2 175.6,288.5 176.0,287.7 176.4,287.0 176.7,286.3 176.8,285.6" fill="#2bb600" stroke="#2a2a2a" stroke-width="0.85" stroke-linejoin="round"/><rect x="175.27" y="292.55" width="3.1" height="6.50" fill="#fff" stroke="#333" stroke-width="0.65"/><line x1="175.27" x2="178.37" y1="295.80" y2="295.80" stroke="#333" stroke-width="0.6"/>
<line x1="176.82" x2="176.82" y1="338.8" y2="341.3" stroke="#555" stroke-width="0.7"/>
<text x="179.82" y="344.20" font-size="8.8" text-anchor="end" transform="rotate(-90 179.82 344.20)" textLength="51.59" lengthAdjust="spacingAndGlyphs">MC (<tspan font-style="italic">n</tspan> = 294)</text>
<polygon points="187.04,290.4 187.66,276.4 188.42,276.4 189.04,290.4" fill="#2e2e2e"/><polygon points="187.04,302.8 187.66,313.5 188.42,313.5 189.04,302.8" fill="#2e2e2e"/><polygon points="188.0,285.3 188.2,286.1 188.4,286.9 188.8,287.7 189.3,288.5 189.8,289.4 190.4,290.2 190.9,291.0 191.4,291.8 191.8,292.6 192.2,293.4 192.5,294.2 192.8,295.0 192.9,295.8 192.9,296.6 192.9,297.4 192.8,298.2 192.5,299.0 192.2,299.8 191.8,300.6 191.4,301.4 190.9,302.2 190.4,303.0 189.8,303.8 189.3,304.7 188.8,305.5 188.4,306.3 188.2,307.1 188.0,307.9 188.0,307.9 187.9,307.1 187.6,306.3 187.3,305.5 186.8,304.7 186.3,303.8 185.7,303.0 185.2,302.2 184.7,301.4 184.3,300.6 183.9,299.8 183.6,299.0 183.3,298.2 183.2,297.4 183.1,296.6 183.2,295.8 183.3,295.0 183.6,294.2 183.9,293.4 184.3,292.6 184.7,291.8 185.2,291.0 185.7,290.2 186.3,289.4 186.8,288.5 187.3,287.7 187.6,286.9 187.9,286.1 188.0,285.3" fill="#00ba38" stroke="#2a2a2a" stroke-width="0.85" stroke-linejoin="round"/><rect x="186.49" y="292.65" width="3.1" height="7.90" fill="#fff" stroke="#333" stroke-width="0.65"/><line x1="186.49" x2="189.59" y1="296.60" y2="296.60" stroke="#333" stroke-width="0.6"/>
<line x1="188.04" x2="188.04" y1="338.8" y2="341.3" stroke="#555" stroke-width="0.7"/>
<text x="191.04" y="344.20" font-size="8.8" text-anchor="end" transform="rotate(-90 191.04 344.20)" textLength="71.49" lengthAdjust="spacingAndGlyphs">VSMC/P (<tspan font-style="italic">n</tspan> = 382)</text>
<polygon points="198.26,290.6 198.88,281.9 199.64,281.9 200.26,290.6" fill="#2e2e2e"/><polygon points="198.26,302.6 198.88,311.0 199.64,311.0 200.26,302.6" fill="#2e2e2e"/><polygon points="199.3,285.7 199.4,286.5 199.7,287.3 200.0,288.1 200.5,288.8 201.0,289.6 201.6,290.4 202.1,291.2 202.6,291.9 203.0,292.7 203.4,293.5 203.7,294.3 204.0,295.0 204.1,295.8 204.2,296.6 204.1,297.4 204.0,298.2 203.7,298.9 203.4,299.7 203.0,300.5 202.6,301.3 202.1,302.0 201.6,302.8 201.0,303.6 200.5,304.4 200.0,305.1 199.7,305.9 199.4,306.7 199.3,307.5 199.3,307.5 199.1,306.7 198.9,305.9 198.5,305.1 198.0,304.4 197.5,303.6 196.9,302.8 196.4,302.0 195.9,301.3 195.5,300.5 195.1,299.7 194.8,298.9 194.5,298.2 194.4,297.4 194.4,296.6 194.4,295.8 194.5,295.0 194.8,294.3 195.1,293.5 195.5,292.7 195.9,291.9 196.4,291.2 196.9,290.4 197.5,289.6 198.0,288.8 198.5,288.1 198.9,287.3 199.1,286.5 199.3,285.7" fill="#00bc5a" stroke="#2a2a2a" stroke-width="0.85" stroke-linejoin="round"/><rect x="197.71" y="292.93" width="3.1" height="7.34" fill="#fff" stroke="#333" stroke-width="0.65"/><line x1="197.71" x2="200.81" y1="296.60" y2="296.60" stroke="#333" stroke-width="0.6"/>
<line x1="199.26" x2="199.26" y1="338.8" y2="341.3" stroke="#555" stroke-width="0.7"/>
<text x="202.26" y="344.20" font-size="8.8" text-anchor="end" transform="rotate(-90 202.26 344.20)" textLength="65.42" lengthAdjust="spacingAndGlyphs">M–FIB (<tspan font-style="italic">n</tspan> = 290)</text>
<polygon points="209.48,291.4 210.10,284.0 210.86,284.0 211.48,291.4" fill="#2e2e2e"/><polygon points="209.48,303.4 210.10,315.2 210.86,315.2 211.48,303.4" fill="#2e2e2e"/><polygon points="210.5,286.5 210.6,287.3 210.9,288.1 211.3,288.9 211.7,289.6 212.3,290.4 212.8,291.2 213.3,292.0 213.8,292.7 214.3,293.5 214.6,294.3 215.0,295.1 215.2,295.8 215.3,296.6 215.4,297.4 215.3,298.2 215.2,299.0 215.0,299.7 214.6,300.5 214.3,301.3 213.8,302.1 213.3,302.8 212.8,303.6 212.3,304.4 211.7,305.2 211.3,305.9 210.9,306.7 210.6,307.5 210.5,308.3 210.5,308.3 210.4,307.5 210.1,306.7 209.7,305.9 209.2,305.2 208.7,304.4 208.2,303.6 207.6,302.8 207.1,302.1 206.7,301.3 206.3,300.5 206.0,299.7 205.8,299.0 205.6,298.2 205.6,297.4 205.6,296.6 205.8,295.8 206.0,295.1 206.3,294.3 206.7,293.5 207.1,292.7 207.6,292.0 208.2,291.2 208.7,290.4 209.2,289.6 209.7,288.9 210.1,288.1 210.4,287.3 210.5,286.5" fill="#00bf74" stroke="#2a2a2a" stroke-width="0.85" stroke-linejoin="round"/><rect x="208.93" y="293.73" width="3.1" height="7.34" fill="#fff" stroke="#333" stroke-width="0.65"/><line x1="208.93" x2="212.03" y1="297.40" y2="297.40" stroke="#333" stroke-width="0.6"/>
<line x1="210.48" x2="210.48" y1="338.8" y2="341.3" stroke="#555" stroke-width="0.7"/>
<text x="213.48" y="344.20" font-size="8.8" text-anchor="end" transform="rotate(-90 213.48 344.20)" textLength="63.33" lengthAdjust="spacingAndGlyphs">VSMC (<tspan font-style="italic">n</tspan> = 259)</text>
<polygon points="220.70,292.3 221.32,276.4 222.08,276.4 222.70,292.3" fill="#2e2e2e"/><polygon points="220.70,304.3 221.32,312.6 222.08,312.6 222.70,304.3" fill="#2e2e2e"/><polygon points="221.7,287.4 221.8,288.2 222.1,289.0 222.5,289.8 223.0,290.5 223.5,291.3 224.0,292.1 224.5,292.9 225.0,293.6 225.5,294.4 225.9,295.2 226.2,296.0 226.4,296.7 226.6,297.5 226.6,298.3 226.6,299.1 226.4,299.9 226.2,300.6 225.9,301.4 225.5,302.2 225.0,303.0 224.5,303.7 224.0,304.5 223.5,305.3 223.0,306.1 222.5,306.8 222.1,307.6 221.8,308.4 221.7,309.2 221.7,309.2 221.6,308.4 221.3,307.6 220.9,306.8 220.4,306.1 219.9,305.3 219.4,304.5 218.9,303.7 218.4,303.0 217.9,302.2 217.5,301.4 217.2,300.6 217.0,299.9 216.8,299.1 216.8,298.3 216.8,297.5 217.0,296.7 217.2,296.0 217.5,295.2 217.9,294.4 218.4,293.6 218.9,292.9 219.4,292.1 219.9,291.3 220.4,290.5 220.9,289.8 221.3,289.0 221.6,288.2 221.7,287.4" fill="#00c08b" stroke="#2a2a2a" stroke-width="0.85" stroke-linejoin="round"/><rect x="220.15" y="294.63" width="3.1" height="7.34" fill="#fff" stroke="#333" stroke-width="0.65"/><line x1="220.15" x2="223.25" y1="298.30" y2="298.30" stroke="#333" stroke-width="0.6"/>
<line x1="221.70" x2="221.70" y1="338.8" y2="341.3" stroke="#555" stroke-width="0.7"/>
<text x="224.70" y="344.20" font-size="8.8" text-anchor="end" transform="rotate(-90 224.70 344.20)" textLength="58.94" lengthAdjust="spacingAndGlyphs">FIB (<tspan font-style="italic">n</tspan> = 1,392)</text>
<polygon points="231.92,296.9 232.54,287.3 233.30,287.3 233.92,296.9" fill="#2e2e2e"/><polygon points="231.92,308.1 232.54,316.0 233.30,316.0 233.92,308.1" fill="#2e2e2e"/><polygon points="232.9,292.2 233.0,293.0 233.3,293.7 233.7,294.4 234.2,295.2 234.7,295.9 235.2,296.6 235.8,297.4 236.3,298.1 236.7,298.8 237.1,299.6 237.4,300.3 237.6,301.0 237.8,301.8 237.8,302.5 237.8,303.2 237.6,304.0 237.4,304.7 237.1,305.4 236.7,306.2 236.3,306.9 235.8,307.6 235.2,308.4 234.7,309.1 234.2,309.8 233.7,310.6 233.3,311.3 233.0,312.0 232.9,312.8 232.9,312.8 232.8,312.0 232.5,311.3 232.1,310.6 231.7,309.8 231.1,309.1 230.6,308.4 230.1,307.6 229.6,306.9 229.1,306.2 228.8,305.4 228.4,304.7 228.2,304.0 228.1,303.2 228.0,302.5 228.1,301.8 228.2,301.0 228.4,300.3 228.8,299.6 229.1,298.8 229.6,298.1 230.1,297.4 230.6,296.6 231.1,295.9 231.7,295.2 232.1,294.4 232.5,293.7 232.8,293.0 232.9,292.2" fill="#00c19f" stroke="#2a2a2a" stroke-width="0.85" stroke-linejoin="round"/><rect x="231.37" y="299.25" width="3.1" height="6.50" fill="#fff" stroke="#333" stroke-width="0.65"/><line x1="231.37" x2="234.47" y1="302.50" y2="302.50" stroke="#333" stroke-width="0.6"/>
<line x1="232.92" x2="232.92" y1="338.8" y2="341.3" stroke="#555" stroke-width="0.7"/>
<text x="235.92" y="344.20" font-size="8.8" text-anchor="end" transform="rotate(-90 235.92 344.20)" textLength="60.89" lengthAdjust="spacingAndGlyphs">DCT2 (<tspan font-style="italic">n</tspan> = 591)</text>
<polygon points="243.14,299.4 243.76,294.9 244.52,294.9 245.14,299.4" fill="#2e2e2e"/><polygon points="243.14,309.0 243.76,314.3 244.52,314.3 245.14,309.0" fill="#2e2e2e"/><polygon points="244.1,295.4 244.3,296.0 244.5,296.6 244.9,297.3 245.4,297.9 245.9,298.5 246.5,299.2 247.0,299.8 247.5,300.4 247.9,301.1 248.3,301.7 248.6,302.3 248.9,302.9 249.0,303.6 249.0,304.2 249.0,304.8 248.9,305.5 248.6,306.1 248.3,306.7 247.9,307.3 247.5,308.0 247.0,308.6 246.5,309.2 245.9,309.9 245.4,310.5 244.9,311.1 244.5,311.8 244.3,312.4 244.1,313.0 244.1,313.0 244.0,312.4 243.7,311.8 243.4,311.1 242.9,310.5 242.4,309.9 241.8,309.2 241.3,308.6 240.8,308.0 240.4,307.3 240.0,306.7 239.7,306.1 239.4,305.5 239.3,304.8 239.2,304.2 239.3,303.6 239.4,302.9 239.7,302.3 240.0,301.7 240.4,301.1 240.8,300.4 241.3,299.8 241.8,299.2 242.4,298.5 242.9,297.9 243.4,297.3 243.7,296.6 244.0,296.0 244.1,295.4" fill="#00c0b3" stroke="#2a2a2a" stroke-width="0.85" stroke-linejoin="round"/><rect x="242.59" y="301.30" width="3.1" height="5.80" fill="#fff" stroke="#333" stroke-width="0.65"/><line x1="242.59" x2="245.69" y1="304.20" y2="304.20" stroke="#333" stroke-width="0.6"/>
<line x1="244.14" x2="244.14" y1="338.8" y2="341.3" stroke="#555" stroke-width="0.7"/>
<text x="247.14" y="344.20" font-size="8.8" text-anchor="end" transform="rotate(-90 247.14 344.20)" textLength="57.95" lengthAdjust="spacingAndGlyphs">MDC (<tspan font-style="italic">n</tspan> = 156)</text>
<polygon points="254.36,299.6 254.98,292.4 255.74,292.4 256.36,299.6" fill="#2e2e2e"/><polygon points="254.36,310.4 254.98,316.0 255.74,316.0 256.36,310.4" fill="#2e2e2e"/><polygon points="255.4,295.2 255.5,295.9 255.8,296.6 256.1,297.3 256.6,298.0 257.1,298.7 257.7,299.4 258.2,300.1 258.7,300.8 259.1,301.5 259.5,302.2 259.8,302.9 260.1,303.6 260.2,304.3 260.3,305.0 260.2,305.7 260.1,306.4 259.8,307.1 259.5,307.8 259.1,308.5 258.7,309.2 258.2,309.9 257.7,310.6 257.1,311.3 256.6,312.0 256.1,312.7 255.8,313.4 255.5,314.1 255.4,314.8 255.4,314.8 255.2,314.1 255.0,313.4 254.6,312.7 254.1,312.0 253.6,311.3 253.0,310.6 252.5,309.9 252.0,309.2 251.6,308.5 251.2,307.8 250.9,307.1 250.6,306.4 250.5,305.7 250.5,305.0 250.5,304.3 250.6,303.6 250.9,302.9 251.2,302.2 251.6,301.5 252.0,300.8 252.5,300.1 253.0,299.4 253.6,298.7 254.1,298.0 254.6,297.3 255.0,296.6 255.2,295.9 255.4,295.2" fill="#00bfc4" stroke="#2a2a2a" stroke-width="0.85" stroke-linejoin="round"/><rect x="253.81" y="302.03" width="3.1" height="5.94" fill="#fff" stroke="#333" stroke-width="0.65"/><line x1="253.81" x2="256.91" y1="305.00" y2="305.00" stroke="#333" stroke-width="0.6"/>
<line x1="255.36" x2="255.36" y1="338.8" y2="341.3" stroke="#555" stroke-width="0.7"/>
<text x="258.36" y="344.20" font-size="8.8" text-anchor="end" transform="rotate(-90 258.36 344.20)" textLength="76.18" lengthAdjust="spacingAndGlyphs">MAC–M2 (<tspan font-style="italic">n</tspan> = 380)</text>
<polygon points="265.58,300.5 266.20,295.8 266.96,295.8 267.58,300.5" fill="#2e2e2e"/><polygon points="265.58,311.3 266.20,314.3 266.96,314.3 267.58,311.3" fill="#2e2e2e"/><polygon points="266.6,296.1 266.7,296.8 267.0,297.5 267.4,298.2 267.8,298.9 268.4,299.6 268.9,300.3 269.4,301.0 269.9,301.7 270.4,302.4 270.7,303.1 271.1,303.8 271.3,304.5 271.4,305.2 271.5,305.9 271.4,306.6 271.3,307.3 271.1,308.0 270.7,308.7 270.4,309.4 269.9,310.1 269.4,310.8 268.9,311.5 268.4,312.2 267.8,312.9 267.4,313.6 267.0,314.3 266.7,315.0 266.6,315.7 266.6,315.7 266.5,315.0 266.2,314.3 265.8,313.6 265.3,312.9 264.8,312.2 264.3,311.5 263.7,310.8 263.2,310.1 262.8,309.4 262.4,308.7 262.1,308.0 261.9,307.3 261.7,306.6 261.7,305.9 261.7,305.2 261.9,304.5 262.1,303.8 262.4,303.1 262.8,302.4 263.2,301.7 263.7,301.0 264.3,300.3 264.8,299.6 265.3,298.9 265.8,298.2 266.2,297.5 266.5,296.8 266.6,296.1" fill="#00bdd5" stroke="#2a2a2a" stroke-width="0.85" stroke-linejoin="round"/><rect x="265.03" y="302.93" width="3.1" height="5.94" fill="#fff" stroke="#333" stroke-width="0.65"/><line x1="265.03" x2="268.13" y1="305.90" y2="305.90" stroke="#333" stroke-width="0.6"/>
<line x1="266.58" x2="266.58" y1="338.8" y2="341.3" stroke="#555" stroke-width="0.7"/>
<text x="269.58" y="344.20" font-size="8.8" text-anchor="end" transform="rotate(-90 269.58 344.20)" textLength="56.98" lengthAdjust="spacingAndGlyphs">POD (<tspan font-style="italic">n</tspan> = 357)</text>
<polygon points="276.80,301.3 277.42,275.2 278.18,275.2 278.80,301.3" fill="#2e2e2e"/><polygon points="276.80,312.1 277.42,316.0 278.18,316.0 278.80,312.1" fill="#2e2e2e"/><polygon points="277.8,296.9 277.9,297.6 278.2,298.3 278.6,299.0 279.1,299.7 279.6,300.4 280.1,301.1 280.6,301.8 281.1,302.5 281.6,303.2 282.0,303.9 282.3,304.6 282.5,305.3 282.7,306.0 282.7,306.7 282.7,307.4 282.5,308.1 282.3,308.8 282.0,309.5 281.6,310.2 281.1,310.9 280.6,311.6 280.1,312.3 279.6,313.0 279.1,313.7 278.6,314.4 278.2,315.1 277.9,315.8 277.8,316.5 277.8,316.5 277.7,315.8 277.4,315.1 277.0,314.4 276.5,313.7 276.0,313.0 275.5,312.3 275.0,311.6 274.5,310.9 274.0,310.2 273.6,309.5 273.3,308.8 273.1,308.1 272.9,307.4 272.9,306.7 272.9,306.0 273.1,305.3 273.3,304.6 273.6,303.9 274.0,303.2 274.5,302.5 275.0,301.8 275.5,301.1 276.0,300.4 276.5,299.7 277.0,299.0 277.4,298.3 277.7,297.6 277.8,296.9" fill="#00b9e3" stroke="#2a2a2a" stroke-width="0.85" stroke-linejoin="round"/><rect x="276.25" y="303.73" width="3.1" height="5.94" fill="#fff" stroke="#333" stroke-width="0.65"/><line x1="276.25" x2="279.35" y1="306.70" y2="306.70" stroke="#333" stroke-width="0.6"/>
<line x1="277.80" x2="277.80" y1="338.8" y2="341.3" stroke="#555" stroke-width="0.7"/>
<text x="280.80" y="344.20" font-size="8.8" text-anchor="end" transform="rotate(-90 280.80 344.20)" textLength="43.12" lengthAdjust="spacingAndGlyphs">T (<tspan font-style="italic">n</tspan> = 741)</text>
<polygon points="288.02,301.3 288.64,297.4 289.40,297.4 290.02,301.3" fill="#2e2e2e"/><polygon points="288.02,312.1 288.64,318.5 289.40,318.5 290.02,312.1" fill="#2e2e2e"/><polygon points="289.0,296.9 289.1,297.6 289.4,298.3 289.8,299.0 290.3,299.7 290.8,300.4 291.3,301.1 291.9,301.8 292.4,302.5 292.8,303.2 293.2,303.9 293.5,304.6 293.7,305.3 293.9,306.0 293.9,306.7 293.9,307.4 293.7,308.1 293.5,308.8 293.2,309.5 292.8,310.2 292.4,310.9 291.9,311.6 291.3,312.3 290.8,313.0 290.3,313.7 289.8,314.4 289.4,315.1 289.1,315.8 289.0,316.5 289.0,316.5 288.9,315.8 288.6,315.1 288.2,314.4 287.8,313.7 287.2,313.0 286.7,312.3 286.2,311.6 285.7,310.9 285.2,310.2 284.9,309.5 284.5,308.8 284.3,308.1 284.2,307.4 284.1,306.7 284.2,306.0 284.3,305.3 284.5,304.6 284.9,303.9 285.2,303.2 285.7,302.5 286.2,301.8 286.7,301.1 287.2,300.4 287.8,299.7 288.2,299.0 288.6,298.3 288.9,297.6 289.0,296.9" fill="#00b4f0" stroke="#2a2a2a" stroke-width="0.85" stroke-linejoin="round"/><rect x="287.47" y="303.73" width="3.1" height="5.94" fill="#fff" stroke="#333" stroke-width="0.65"/><line x1="287.47" x2="290.57" y1="306.70" y2="306.70" stroke="#333" stroke-width="0.6"/>
<line x1="289.02" x2="289.02" y1="338.8" y2="341.3" stroke="#555" stroke-width="0.7"/>
<text x="292.02" y="344.20" font-size="8.8" text-anchor="end" transform="rotate(-90 292.02 344.20)" textLength="43.78" lengthAdjust="spacingAndGlyphs">B (<tspan font-style="italic">n</tspan> = 258)</text>
<polygon points="299.24,302.2 299.86,294.1 300.62,294.1 301.24,302.2" fill="#2e2e2e"/><polygon points="299.24,313.0 299.86,318.5 300.62,318.5 301.24,313.0" fill="#2e2e2e"/><polygon points="300.2,297.8 300.4,298.5 300.6,299.2 301.0,299.9 301.5,300.6 302.0,301.3 302.6,302.0 303.1,302.7 303.6,303.4 304.0,304.1 304.4,304.8 304.7,305.5 305.0,306.2 305.1,306.9 305.1,307.6 305.1,308.3 305.0,309.0 304.7,309.7 304.4,310.4 304.0,311.1 303.6,311.8 303.1,312.5 302.6,313.2 302.0,313.9 301.5,314.6 301.0,315.3 300.6,316.0 300.4,316.7 300.2,317.4 300.2,317.4 300.1,316.7 299.8,316.0 299.5,315.3 299.0,314.6 298.5,313.9 297.9,313.2 297.4,312.5 296.9,311.8 296.5,311.1 296.1,310.4 295.8,309.7 295.5,309.0 295.4,308.3 295.3,307.6 295.4,306.9 295.5,306.2 295.8,305.5 296.1,304.8 296.5,304.1 296.9,303.4 297.4,302.7 297.9,302.0 298.5,301.3 299.0,300.6 299.5,299.9 299.8,299.2 300.1,298.5 300.2,297.8" fill="#00adfa" stroke="#2a2a2a" stroke-width="0.85" stroke-linejoin="round"/><rect x="298.69" y="304.63" width="3.1" height="5.94" fill="#fff" stroke="#333" stroke-width="0.65"/><line x1="298.69" x2="301.79" y1="307.60" y2="307.60" stroke="#333" stroke-width="0.6"/>
<line x1="300.24" x2="300.24" y1="338.8" y2="341.3" stroke="#555" stroke-width="0.7"/>
<text x="303.24" y="344.20" font-size="8.8" text-anchor="end" transform="rotate(-90 303.24 344.20)" textLength="63.34" lengthAdjust="spacingAndGlyphs">PEC (<tspan font-style="italic">n</tspan> = 1,034)</text>
<polygon points="310.46,303.0 311.08,280.9 311.84,280.9 312.46,303.0" fill="#2e2e2e"/><polygon points="310.46,313.8 311.08,319.4 311.84,319.4 312.46,313.8" fill="#2e2e2e"/><polygon points="311.5,298.6 311.6,299.3 311.9,300.0 312.2,300.7 312.7,301.4 313.2,302.1 313.8,302.8 314.3,303.5 314.8,304.2 315.2,304.9 315.6,305.6 315.9,306.3 316.2,307.0 316.3,307.7 316.4,308.4 316.3,309.1 316.2,309.8 315.9,310.5 315.6,311.2 315.2,311.9 314.8,312.6 314.3,313.3 313.8,314.0 313.2,314.7 312.7,315.4 312.2,316.1 311.9,316.8 311.6,317.5 311.5,318.2 311.5,318.2 311.3,317.5 311.1,316.8 310.7,316.1 310.2,315.4 309.7,314.7 309.1,314.0 308.6,313.3 308.1,312.6 307.7,311.9 307.3,311.2 307.0,310.5 306.7,309.8 306.6,309.1 306.6,308.4 306.6,307.7 306.7,307.0 307.0,306.3 307.3,305.6 307.7,304.9 308.1,304.2 308.6,303.5 309.1,302.8 309.7,302.1 310.2,301.4 310.7,300.7 311.1,300.0 311.3,299.3 311.5,298.6" fill="#00a5ff" stroke="#2a2a2a" stroke-width="0.85" stroke-linejoin="round"/><rect x="309.91" y="305.43" width="3.1" height="5.94" fill="#fff" stroke="#333" stroke-width="0.65"/><line x1="309.91" x2="313.01" y1="308.40" y2="308.40" stroke="#333" stroke-width="0.6"/>
<line x1="311.46" x2="311.46" y1="338.8" y2="341.3" stroke="#555" stroke-width="0.7"/>
<text x="314.46" y="344.20" font-size="8.8" text-anchor="end" transform="rotate(-90 314.46 344.20)" textLength="48.35" lengthAdjust="spacingAndGlyphs">PL (<tspan font-style="italic">n</tspan> = 180)</text>
<polygon points="321.68,305.4 322.30,285.6 323.06,285.6 323.68,305.4" fill="#2e2e2e"/><polygon points="321.68,316.6 322.30,323.6 323.06,323.6 323.68,316.6" fill="#2e2e2e"/><polygon points="322.7,300.8 322.8,301.5 323.1,302.2 323.5,302.9 323.9,303.7 324.5,304.4 325.0,305.1 325.5,305.9 326.0,306.6 326.5,307.3 326.8,308.1 327.2,308.8 327.4,309.5 327.5,310.3 327.6,311.0 327.5,311.7 327.4,312.5 327.2,313.2 326.8,313.9 326.5,314.7 326.0,315.4 325.5,316.1 325.0,316.9 324.5,317.6 323.9,318.3 323.5,319.1 323.1,319.8 322.8,320.5 322.7,321.2 322.7,321.2 322.6,320.5 322.3,319.8 321.9,319.1 321.4,318.3 320.9,317.6 320.4,316.9 319.8,316.1 319.3,315.4 318.9,314.7 318.5,313.9 318.2,313.2 318.0,312.5 317.8,311.7 317.8,311.0 317.8,310.3 318.0,309.5 318.2,308.8 318.5,308.1 318.9,307.3 319.3,306.6 319.8,305.9 320.4,305.1 320.9,304.4 321.4,303.7 321.9,302.9 322.3,302.2 322.6,301.5 322.7,300.8" fill="#619cff" stroke="#2a2a2a" stroke-width="0.85" stroke-linejoin="round"/><rect x="321.13" y="307.75" width="3.1" height="6.50" fill="#fff" stroke="#333" stroke-width="0.65"/><line x1="321.13" x2="324.23" y1="311.00" y2="311.00" stroke="#333" stroke-width="0.6"/>
<line x1="322.68" x2="322.68" y1="338.8" y2="341.3" stroke="#555" stroke-width="0.7"/>
<text x="325.68" y="344.20" font-size="8.8" text-anchor="end" transform="rotate(-90 325.68 344.20)" textLength="68.23" lengthAdjust="spacingAndGlyphs">DCT1 (<tspan font-style="italic">n</tspan> = 8,665)</text>
<polygon points="332.90,305.9 333.52,294.4 334.28,294.4 334.90,305.9" fill="#2e2e2e"/><polygon points="332.90,317.7 333.52,326.1 334.28,326.1 334.90,317.7" fill="#2e2e2e"/><polygon points="333.9,301.1 334.0,301.9 334.3,302.7 334.7,303.4 335.2,304.2 335.7,304.9 336.2,305.7 336.7,306.5 337.2,307.2 337.7,308.0 338.1,308.8 338.4,309.5 338.6,310.3 338.8,311.0 338.8,311.8 338.8,312.6 338.6,313.3 338.4,314.1 338.1,314.8 337.7,315.6 337.2,316.4 336.7,317.1 336.2,317.9 335.7,318.7 335.2,319.4 334.7,320.2 334.3,320.9 334.0,321.7 333.9,322.5 333.9,322.5 333.8,321.7 333.5,320.9 333.1,320.2 332.6,319.4 332.1,318.7 331.6,317.9 331.1,317.1 330.6,316.4 330.1,315.6 329.7,314.8 329.4,314.1 329.2,313.3 329.0,312.6 329.0,311.8 329.0,311.0 329.2,310.3 329.4,309.5 329.7,308.8 330.1,308.0 330.6,307.2 331.1,306.5 331.6,305.7 332.1,304.9 332.6,304.2 333.1,303.4 333.5,302.7 333.8,301.9 333.9,301.1" fill="#8e92ff" stroke="#2a2a2a" stroke-width="0.85" stroke-linejoin="round"/><rect x="332.35" y="308.27" width="3.1" height="7.06" fill="#fff" stroke="#333" stroke-width="0.65"/><line x1="332.35" x2="335.45" y1="311.80" y2="311.80" stroke="#333" stroke-width="0.6"/>
<line x1="333.90" x2="333.90" y1="338.8" y2="341.3" stroke="#555" stroke-width="0.7"/>
<text x="336.90" y="344.20" font-size="8.8" text-anchor="end" transform="rotate(-90 336.90 344.20)" textLength="70.52" lengthAdjust="spacingAndGlyphs">aTAL1 (<tspan font-style="italic">n</tspan> = 1,098)</text>
<polygon points="344.12,306.4 344.74,299.1 345.50,299.1 346.12,306.4" fill="#2e2e2e"/><polygon points="344.12,317.2 344.74,323.6 345.50,323.6 346.12,317.2" fill="#2e2e2e"/><polygon points="345.1,302.0 345.2,302.7 345.5,303.4 345.9,304.1 346.4,304.8 346.9,305.5 347.4,306.2 348.0,306.9 348.5,307.6 348.9,308.3 349.3,309.0 349.6,309.7 349.8,310.4 350.0,311.1 350.0,311.8 350.0,312.5 349.8,313.2 349.6,313.9 349.3,314.6 348.9,315.3 348.5,316.0 348.0,316.7 347.4,317.4 346.9,318.1 346.4,318.8 345.9,319.5 345.5,320.2 345.2,320.9 345.1,321.6 345.1,321.6 345.0,320.9 344.7,320.2 344.3,319.5 343.9,318.8 343.3,318.1 342.8,317.4 342.3,316.7 341.8,316.0 341.3,315.3 341.0,314.6 340.6,313.9 340.4,313.2 340.3,312.5 340.2,311.8 340.3,311.1 340.4,310.4 340.6,309.7 341.0,309.0 341.3,308.3 341.8,307.6 342.3,306.9 342.8,306.2 343.3,305.5 343.9,304.8 344.3,304.1 344.7,303.4 345.0,302.7 345.1,302.0" fill="#ae87ff" stroke="#2a2a2a" stroke-width="0.85" stroke-linejoin="round"/><rect x="343.57" y="308.83" width="3.1" height="5.94" fill="#fff" stroke="#333" stroke-width="0.65"/><line x1="343.57" x2="346.67" y1="311.80" y2="311.80" stroke="#333" stroke-width="0.6"/>
<line x1="345.12" x2="345.12" y1="338.8" y2="341.3" stroke="#555" stroke-width="0.7"/>
<text x="348.12" y="344.20" font-size="8.8" text-anchor="end" transform="rotate(-90 348.12 344.20)" textLength="51.59" lengthAdjust="spacingAndGlyphs">MD (<tspan font-style="italic">n</tspan> = 831)</text>
<polygon points="355.34,307.2 355.96,293.2 356.72,293.2 357.34,307.2" fill="#2e2e2e"/><polygon points="355.34,318.0 355.96,318.5 356.72,318.5 357.34,318.0" fill="#2e2e2e"/><polygon points="356.3,302.8 356.5,303.5 356.7,304.2 357.1,304.9 357.6,305.6 358.1,306.3 358.7,307.0 359.2,307.7 359.7,308.4 360.1,309.1 360.5,309.8 360.8,310.5 361.1,311.2 361.2,311.9 361.2,312.6 361.2,313.3 361.1,314.0 360.8,314.7 360.5,315.4 360.1,316.1 359.7,316.8 359.2,317.5 358.7,318.2 358.1,318.9 357.6,319.6 357.1,320.3 356.7,321.0 356.5,321.7 356.3,322.4 356.3,322.4 356.2,321.7 355.9,321.0 355.6,320.3 355.1,319.6 354.6,318.9 354.0,318.2 353.5,317.5 353.0,316.8 352.6,316.1 352.2,315.4 351.9,314.7 351.6,314.0 351.5,313.3 351.4,312.6 351.5,311.9 351.6,311.2 351.9,310.5 352.2,309.8 352.6,309.1 353.0,308.4 353.5,307.7 354.0,307.0 354.6,306.3 355.1,305.6 355.6,304.9 355.9,304.2 356.2,303.5 356.3,302.8" fill="#c77cff" stroke="#2a2a2a" stroke-width="0.85" stroke-linejoin="round"/><rect x="354.79" y="309.63" width="3.1" height="5.94" fill="#fff" stroke="#333" stroke-width="0.65"/><line x1="354.79" x2="357.89" y1="312.60" y2="312.60" stroke="#333" stroke-width="0.6"/>
<line x1="356.34" x2="356.34" y1="338.8" y2="341.3" stroke="#555" stroke-width="0.7"/>
<text x="359.34" y="344.20" font-size="8.8" text-anchor="end" transform="rotate(-90 359.34 344.20)" textLength="53.89" lengthAdjust="spacingAndGlyphs">dPT (<tspan font-style="italic">n</tspan> = 155)</text>
<polygon points="366.56,307.4 367.18,301.7 367.94,301.7 368.56,307.4" fill="#2e2e2e"/><polygon points="366.56,317.8 367.18,321.9 367.94,321.9 368.56,317.8" fill="#2e2e2e"/><polygon points="367.6,303.2 367.7,303.8 368.0,304.5 368.3,305.2 368.8,305.9 369.3,306.5 369.9,307.2 370.4,307.9 370.9,308.6 371.3,309.2 371.7,309.9 372.0,310.6 372.3,311.3 372.4,311.9 372.5,312.6 372.4,313.3 372.3,313.9 372.0,314.6 371.7,315.3 371.3,316.0 370.9,316.6 370.4,317.3 369.9,318.0 369.3,318.7 368.8,319.3 368.3,320.0 368.0,320.7 367.7,321.4 367.6,322.0 367.6,322.0 367.4,321.4 367.2,320.7 366.8,320.0 366.3,319.3 365.8,318.7 365.2,318.0 364.7,317.3 364.2,316.6 363.8,316.0 363.4,315.3 363.1,314.6 362.8,313.9 362.7,313.3 362.7,312.6 362.7,311.9 362.8,311.3 363.1,310.6 363.4,309.9 363.8,309.2 364.2,308.6 364.7,307.9 365.2,307.2 365.8,306.5 366.3,305.9 366.8,305.2 367.2,304.5 367.4,303.8 367.6,303.2" fill="#db72fb" stroke="#2a2a2a" stroke-width="0.85" stroke-linejoin="round"/><rect x="366.01" y="309.70" width="3.1" height="5.80" fill="#fff" stroke="#333" stroke-width="0.65"/><line x1="366.01" x2="369.11" y1="312.60" y2="312.60" stroke="#333" stroke-width="0.6"/>
<line x1="367.56" x2="367.56" y1="338.8" y2="341.3" stroke="#555" stroke-width="0.7"/>
<text x="370.56" y="344.20" font-size="8.8" text-anchor="end" transform="rotate(-90 370.56 344.20)" textLength="59.43" lengthAdjust="spacingAndGlyphs">DTL2 (<tspan font-style="italic">n</tspan> = 773)</text>
<polygon points="377.78,307.8 378.40,300.8 379.16,300.8 379.78,307.8" fill="#2e2e2e"/><polygon points="377.78,318.2 378.40,322.8 379.16,322.8 379.78,318.2" fill="#2e2e2e"/><polygon points="378.8,303.6 378.9,304.2 379.2,304.9 379.6,305.6 380.0,306.3 380.6,306.9 381.1,307.6 381.6,308.3 382.1,309.0 382.6,309.6 382.9,310.3 383.3,311.0 383.5,311.7 383.6,312.3 383.7,313.0 383.6,313.7 383.5,314.3 383.3,315.0 382.9,315.7 382.6,316.4 382.1,317.0 381.6,317.7 381.1,318.4 380.6,319.1 380.0,319.7 379.6,320.4 379.2,321.1 378.9,321.8 378.8,322.4 378.8,322.4 378.7,321.8 378.4,321.1 378.0,320.4 377.5,319.7 377.0,319.1 376.5,318.4 375.9,317.7 375.4,317.0 375.0,316.4 374.6,315.7 374.3,315.0 374.1,314.3 373.9,313.7 373.9,313.0 373.9,312.3 374.1,311.7 374.3,311.0 374.6,310.3 375.0,309.6 375.4,309.0 375.9,308.3 376.5,307.6 377.0,306.9 377.5,306.3 378.0,305.6 378.4,304.9 378.7,304.2 378.8,303.6" fill="#ea6af1" stroke="#2a2a2a" stroke-width="0.85" stroke-linejoin="round"/><rect x="377.23" y="310.10" width="3.1" height="5.80" fill="#fff" stroke="#333" stroke-width="0.65"/><line x1="377.23" x2="380.33" y1="313.00" y2="313.00" stroke="#333" stroke-width="0.6"/>
<line x1="378.78" x2="378.78" y1="338.8" y2="341.3" stroke="#555" stroke-width="0.7"/>
<text x="381.78" y="344.20" font-size="8.8" text-anchor="end" transform="rotate(-90 381.78 344.20)" textLength="66.76" lengthAdjust="spacingAndGlyphs">DTL1 (<tspan font-style="italic">n</tspan> = 2,229)</text>
<polygon points="389.00,309.3 389.62,296.1 390.38,296.1 391.00,309.3" fill="#2e2e2e"/><polygon points="389.00,321.1 389.62,328.7 390.38,328.7 391.00,321.1" fill="#2e2e2e"/><polygon points="390.0,304.5 390.1,305.3 390.4,306.1 390.8,306.8 391.3,307.6 391.8,308.3 392.3,309.1 392.8,309.9 393.3,310.6 393.8,311.4 394.2,312.2 394.5,312.9 394.7,313.7 394.9,314.4 394.9,315.2 394.9,316.0 394.7,316.7 394.5,317.5 394.2,318.2 393.8,319.0 393.3,319.8 392.8,320.5 392.3,321.3 391.8,322.1 391.3,322.8 390.8,323.6 390.4,324.3 390.1,325.1 390.0,325.9 390.0,325.9 389.9,325.1 389.6,324.3 389.2,323.6 388.7,322.8 388.2,322.1 387.7,321.3 387.2,320.5 386.7,319.8 386.2,319.0 385.8,318.2 385.5,317.5 385.3,316.7 385.1,316.0 385.1,315.2 385.1,314.4 385.3,313.7 385.5,312.9 385.8,312.2 386.2,311.4 386.7,310.6 387.2,309.9 387.7,309.1 388.2,308.3 388.7,307.6 389.2,306.8 389.6,306.1 389.9,305.3 390.0,304.5" fill="#f564e3" stroke="#2a2a2a" stroke-width="0.85" stroke-linejoin="round"/><rect x="388.45" y="311.67" width="3.1" height="7.06" fill="#fff" stroke="#333" stroke-width="0.65"/><line x1="388.45" x2="391.55" y1="315.20" y2="315.20" stroke="#333" stroke-width="0.6"/>
<line x1="390.00" x2="390.00" y1="338.8" y2="341.3" stroke="#555" stroke-width="0.7"/>
<text x="393.00" y="344.20" font-size="8.8" text-anchor="end" transform="rotate(-90 393.00 344.20)" textLength="61.23" lengthAdjust="spacingAndGlyphs">aPT (<tspan font-style="italic">n</tspan> = 5,935)</text>
<polygon points="400.22,312.3 400.84,289.3 401.60,289.3 402.22,312.3" fill="#2e2e2e"/><polygon points="400.22,323.1 400.84,330.4 401.60,330.4 402.22,323.1" fill="#2e2e2e"/><polygon points="401.2,307.9 401.3,308.6 401.6,309.3 402.0,310.0 402.5,310.7 403.0,311.4 403.5,312.1 404.1,312.8 404.6,313.5 405.0,314.2 405.4,314.9 405.7,315.6 405.9,316.3 406.1,317.0 406.1,317.7 406.1,318.4 405.9,319.1 405.7,319.8 405.4,320.5 405.0,321.2 404.6,321.9 404.1,322.6 403.5,323.3 403.0,324.0 402.5,324.7 402.0,325.4 401.6,326.1 401.3,326.8 401.2,327.5 401.2,327.5 401.1,326.8 400.8,326.1 400.4,325.4 400.0,324.7 399.4,324.0 398.9,323.3 398.4,322.6 397.9,321.9 397.4,321.2 397.1,320.5 396.7,319.8 396.5,319.1 396.4,318.4 396.3,317.7 396.4,317.0 396.5,316.3 396.7,315.6 397.1,314.9 397.4,314.2 397.9,313.5 398.4,312.8 398.9,312.1 399.4,311.4 400.0,310.7 400.4,310.0 400.8,309.3 401.1,308.6 401.2,307.9" fill="#fc61d4" stroke="#2a2a2a" stroke-width="0.85" stroke-linejoin="round"/><rect x="399.67" y="314.73" width="3.1" height="5.94" fill="#fff" stroke="#333" stroke-width="0.65"/><line x1="399.67" x2="402.77" y1="317.70" y2="317.70" stroke="#333" stroke-width="0.6"/>
<line x1="401.22" x2="401.22" y1="338.8" y2="341.3" stroke="#555" stroke-width="0.7"/>
<text x="404.22" y="344.20" font-size="8.8" text-anchor="end" transform="rotate(-90 404.22 344.20)" textLength="78.15" lengthAdjust="spacingAndGlyphs">C–TAL (<tspan font-style="italic">n</tspan> = 19,147)</text>
<polygon points="411.44,313.3 412.06,302.2 412.82,302.2 413.44,313.3" fill="#2e2e2e"/><polygon points="411.44,323.7 412.06,328.7 412.82,328.7 413.44,323.7" fill="#2e2e2e"/><polygon points="412.4,309.1 412.6,309.7 412.8,310.4 413.2,311.1 413.7,311.8 414.2,312.4 414.8,313.1 415.3,313.8 415.8,314.5 416.2,315.1 416.6,315.8 416.9,316.5 417.2,317.2 417.3,317.8 417.3,318.5 417.3,319.2 417.2,319.8 416.9,320.5 416.6,321.2 416.2,321.9 415.8,322.5 415.3,323.2 414.8,323.9 414.2,324.6 413.7,325.2 413.2,325.9 412.8,326.6 412.6,327.3 412.4,327.9 412.4,327.9 412.3,327.3 412.0,326.6 411.7,325.9 411.2,325.2 410.7,324.6 410.1,323.9 409.6,323.2 409.1,322.5 408.7,321.9 408.3,321.2 408.0,320.5 407.7,319.8 407.6,319.2 407.5,318.5 407.6,317.8 407.7,317.2 408.0,316.5 408.3,315.8 408.7,315.1 409.1,314.5 409.6,313.8 410.1,313.1 410.7,312.4 411.2,311.8 411.7,311.1 412.0,310.4 412.3,309.7 412.4,309.1" fill="#ff61c3" stroke="#2a2a2a" stroke-width="0.85" stroke-linejoin="round"/><rect x="410.89" y="315.60" width="3.1" height="5.80" fill="#fff" stroke="#333" stroke-width="0.65"/><line x1="410.89" x2="413.99" y1="318.50" y2="318.50" stroke="#333" stroke-width="0.6"/>
<line x1="412.44" x2="412.44" y1="338.8" y2="341.3" stroke="#555" stroke-width="0.7"/>
<text x="415.44" y="344.20" font-size="8.8" text-anchor="end" transform="rotate(-90 415.44 344.20)" textLength="74.23" lengthAdjust="spacingAndGlyphs">M–TAL (<tspan font-style="italic">n</tspan> = 9,892)</text>
<polygon points="422.66,314.8 423.28,293.2 424.04,293.2 424.66,314.8" fill="#2e2e2e"/><polygon points="422.66,325.6 423.28,331.2 424.04,331.2 424.66,325.6" fill="#2e2e2e"/><polygon points="423.7,310.4 423.8,311.1 424.1,311.8 424.4,312.5 424.9,313.2 425.4,313.9 426.0,314.6 426.5,315.3 427.0,316.0 427.4,316.7 427.8,317.4 428.1,318.1 428.4,318.8 428.5,319.5 428.6,320.2 428.5,320.9 428.4,321.6 428.1,322.3 427.8,323.0 427.4,323.7 427.0,324.4 426.5,325.1 426.0,325.8 425.4,326.5 424.9,327.2 424.4,327.9 424.1,328.6 423.8,329.3 423.7,330.0 423.7,330.0 423.5,329.3 423.3,328.6 422.9,327.9 422.4,327.2 421.9,326.5 421.3,325.8 420.8,325.1 420.3,324.4 419.9,323.7 419.5,323.0 419.2,322.3 418.9,321.6 418.8,320.9 418.8,320.2 418.8,319.5 418.9,318.8 419.2,318.1 419.5,317.4 419.9,316.7 420.3,316.0 420.8,315.3 421.3,314.6 421.9,313.9 422.4,313.2 422.9,312.5 423.3,311.8 423.5,311.1 423.7,310.4" fill="#ff64b0" stroke="#2a2a2a" stroke-width="0.85" stroke-linejoin="round"/><rect x="422.11" y="317.23" width="3.1" height="5.94" fill="#fff" stroke="#333" stroke-width="0.65"/><line x1="422.11" x2="425.21" y1="320.20" y2="320.20" stroke="#333" stroke-width="0.6"/>
<line x1="423.66" x2="423.66" y1="338.8" y2="341.3" stroke="#555" stroke-width="0.7"/>
<text x="426.66" y="344.20" font-size="8.8" text-anchor="end" transform="rotate(-90 426.66 344.20)" textLength="73.75" lengthAdjust="spacingAndGlyphs">PT–S3 (<tspan font-style="italic">n</tspan> = 8,586)</text>
<polygon points="433.88,316.5 434.50,295.8 435.26,295.8 435.88,316.5" fill="#2e2e2e"/><polygon points="433.88,327.3 434.50,334.6 435.26,334.6 435.88,327.3" fill="#2e2e2e"/><polygon points="434.9,312.1 435.0,312.8 435.3,313.5 435.7,314.2 436.1,314.9 436.7,315.6 437.2,316.3 437.7,317.0 438.2,317.7 438.7,318.4 439.0,319.1 439.4,319.8 439.6,320.5 439.7,321.2 439.8,321.9 439.7,322.6 439.6,323.3 439.4,324.0 439.0,324.7 438.7,325.4 438.2,326.1 437.7,326.8 437.2,327.5 436.7,328.2 436.1,328.9 435.7,329.6 435.3,330.3 435.0,331.0 434.9,331.7 434.9,331.7 434.8,331.0 434.5,330.3 434.1,329.6 433.6,328.9 433.1,328.2 432.6,327.5 432.0,326.8 431.5,326.1 431.1,325.4 430.7,324.7 430.4,324.0 430.2,323.3 430.0,322.6 430.0,321.9 430.0,321.2 430.2,320.5 430.4,319.8 430.7,319.1 431.1,318.4 431.5,317.7 432.0,317.0 432.6,316.3 433.1,315.6 433.6,314.9 434.1,314.2 434.5,313.5 434.8,312.8 434.9,312.1" fill="#ff699c" stroke="#2a2a2a" stroke-width="0.85" stroke-linejoin="round"/><rect x="433.33" y="318.93" width="3.1" height="5.94" fill="#fff" stroke="#333" stroke-width="0.65"/><line x1="433.33" x2="436.43" y1="321.90" y2="321.90" stroke="#333" stroke-width="0.6"/>
<line x1="434.88" x2="434.88" y1="338.8" y2="341.3" stroke="#555" stroke-width="0.7"/>
<text x="437.88" y="344.20" font-size="8.8" text-anchor="end" transform="rotate(-90 437.88 344.20)" textLength="78.64" lengthAdjust="spacingAndGlyphs">PT–S1 (<tspan font-style="italic">n</tspan> = 17,635)</text>
<polygon points="445.10,317.6 445.72,294.1 446.48,294.1 447.10,317.6" fill="#2e2e2e"/><polygon points="445.10,328.0 445.72,330.4 446.48,330.4 447.10,328.0" fill="#2e2e2e"/><polygon points="446.1,313.4 446.2,314.0 446.5,314.7 446.9,315.4 447.4,316.1 447.9,316.7 448.4,317.4 448.9,318.1 449.4,318.8 449.9,319.4 450.3,320.1 450.6,320.8 450.8,321.5 451.0,322.1 451.0,322.8 451.0,323.5 450.8,324.1 450.6,324.8 450.3,325.5 449.9,326.2 449.4,326.8 448.9,327.5 448.4,328.2 447.9,328.9 447.4,329.5 446.9,330.2 446.5,330.9 446.2,331.6 446.1,332.2 446.1,332.2 446.0,331.6 445.7,330.9 445.3,330.2 444.8,329.5 444.3,328.9 443.8,328.2 443.3,327.5 442.8,326.8 442.3,326.2 441.9,325.5 441.6,324.8 441.4,324.1 441.2,323.5 441.2,322.8 441.2,322.1 441.4,321.5 441.6,320.8 441.9,320.1 442.3,319.4 442.8,318.8 443.3,318.1 443.8,317.4 444.3,316.7 444.8,316.1 445.3,315.4 445.7,314.7 446.0,314.0 446.1,313.4" fill="#fd6f86" stroke="#2a2a2a" stroke-width="0.85" stroke-linejoin="round"/><rect x="444.55" y="319.90" width="3.1" height="5.80" fill="#fff" stroke="#333" stroke-width="0.65"/><line x1="444.55" x2="447.65" y1="322.80" y2="322.80" stroke="#333" stroke-width="0.6"/>
<line x1="446.10" x2="446.10" y1="338.8" y2="341.3" stroke="#555" stroke-width="0.7"/>
<text x="449.10" y="344.20" font-size="8.8" text-anchor="end" transform="rotate(-90 449.10 344.20)" textLength="73.75" lengthAdjust="spacingAndGlyphs">PT–S2 (<tspan font-style="italic">n</tspan> = 4,141)</text>
<text x="9.6" y="287.5" font-size="11.2" text-anchor="middle" fill="#222" transform="rotate(-90 9.6 287.5)" textLength="79.3" lengthAdjust="spacingAndGlyphs">Signature score</text>
<text x="478.50" y="8.50" font-size="15.2" fill="#000" font-weight="bold" stroke="#000" stroke-width="0.35">c</text>
<text x="525.00" y="8.20" font-size="11.5">Immune impairment</text>
<polygon points="534.0,23.0 539.8,28.2 545.5,33.4 551.3,38.5 557.1,43.7 562.8,48.7 568.6,53.7 574.4,58.6 580.1,63.3 585.9,68.0 591.7,72.5 597.4,76.9 603.2,81.0 609.0,85.0 614.7,88.8 620.5,92.5 626.3,95.9 632.0,99.3 637.8,102.5 643.6,105.6 649.3,108.6 655.1,111.6 660.9,114.5 666.6,117.4 672.4,120.2 672.4,160.4 666.6,155.2 660.9,150.0 655.1,144.9 649.3,139.8 643.6,134.8 637.8,129.9 632.0,125.1 626.3,120.3 620.5,115.8 614.7,111.4 609.0,107.1 603.2,103.1 597.4,99.2 591.7,95.5 585.9,92.0 580.1,88.6 574.4,85.3 568.6,82.2 562.8,79.1 557.1,76.1 551.3,73.2 545.5,70.3 539.8,67.4 534.0,64.6" fill="#cfcfcf" opacity="0.85"/>
<line x1="534" y1="43.5" x2="671.9" y2="140.2" stroke="#3a6cf2" stroke-width="1.05"/>
<rect x="527.6" y="16.7" width="152.0" height="148.9" fill="none" stroke="#444" stroke-width="0.8"/>
<line x1="525.3000000000001" x2="527.6" y1="17.1" y2="17.1" stroke="#444" stroke-width="0.7"/>
<text x="520.10" y="20.90" font-size="10.4" text-anchor="end" fill="#333">0.06</text>
<line x1="525.3000000000001" x2="527.6" y1="52.2" y2="52.2" stroke="#444" stroke-width="0.7"/>
<text x="520.10" y="56.00" font-size="10.4" text-anchor="end" fill="#333">0.03</text>
<line x1="525.3000000000001" x2="527.6" y1="87.2" y2="87.2" stroke="#444" stroke-width="0.7"/>
<text x="520.10" y="91.00" font-size="10.4" text-anchor="end" fill="#333">0</text>
<line x1="525.3000000000001" x2="527.6" y1="122.3" y2="122.3" stroke="#444" stroke-width="0.7"/>
<text x="520.10" y="126.10" font-size="10.4" text-anchor="end" fill="#333">−0.03</text>
<line x1="525.3000000000001" x2="527.6" y1="157.4" y2="157.4" stroke="#444" stroke-width="0.7"/>
<text x="520.10" y="161.20" font-size="10.4" text-anchor="end" fill="#333">−0.06</text>
<line x1="535.5" x2="535.5" y1="165.6" y2="167.9" stroke="#444" stroke-width="0.7"/>
<text x="535.50" y="181.50" font-size="10.4" text-anchor="middle" fill="#333">25</text>
<line x1="568.6" x2="568.6" y1="165.6" y2="167.9" stroke="#444" stroke-width="0.7"/>
<text x="568.60" y="181.50" font-size="10.4" text-anchor="middle" fill="#333">50</text>
<line x1="601.6" x2="601.6" y1="165.6" y2="167.9" stroke="#444" stroke-width="0.7"/>
<text x="601.60" y="181.50" font-size="10.4" text-anchor="middle" fill="#333">75</text>
<line x1="634.4" x2="634.4" y1="165.6" y2="167.9" stroke="#444" stroke-width="0.7"/>
<text x="634.40" y="181.50" font-size="10.4" text-anchor="middle" fill="#333">100</text>
<line x1="667.6" x2="667.6" y1="165.6" y2="167.9" stroke="#444" stroke-width="0.7"/>
<text x="667.60" y="181.50" font-size="10.4" text-anchor="middle" fill="#333">125</text>
<text x="603.60" y="197.50" font-size="11.2" text-anchor="middle">eGFR</text>
<text x="488" y="91" font-size="11.2" text-anchor="middle" fill="#222" transform="rotate(-90 488 91)" textLength="133.5" lengthAdjust="spacingAndGlyphs">Immune impairment score</text>
<circle cx="543.2" cy="33" r="0.75" fill="#111"/>
<text x="542.00" y="29.30" font-size="7.2" fill="#333">PB233</text>
<circle cx="533.9" cy="60.7" r="0.75" fill="#111"/>
<text x="528.40" y="57.20" font-size="7.2" fill="#333">PB456</text>
<circle cx="544.6" cy="60.7" r="0.75" fill="#111"/>
<text x="542.00" y="69.50" font-size="7.2" fill="#333">PB197</text>
<circle cx="575" cy="52.6" r="0.75" fill="#111"/>
<text x="572.00" y="61.50" font-size="7.2" fill="#333">PB262</text>
<circle cx="599" cy="68" r="0.75" fill="#111"/>
<text x="589.90" y="76.50" font-size="7.2" fill="#333">PB448</text>
<circle cx="631.2" cy="107.5" r="0.75" fill="#111"/>
<text x="628.90" y="103.30" font-size="7.2" fill="#333">PB341</text>
<circle cx="626" cy="111.5" r="0.75" fill="#111"/>
<text x="617.40" y="120.00" font-size="7.2" fill="#333">PB346</text>
<circle cx="672.4" cy="122.8" r="0.75" fill="#111"/>
<text x="654.70" y="116.90" font-size="7.2" fill="#333">PB263</text>
<circle cx="609" cy="122.8" r="0.75" fill="#111"/>
<text x="600.00" y="133.20" font-size="7.2" fill="#333">PB234</text>
<circle cx="652" cy="131.4" r="0.75" fill="#111"/>
<text x="645.60" y="128.40" font-size="7.2" fill="#333">PB354</text>
<circle cx="654.4" cy="136.9" r="0.75" fill="#111"/>
<text x="630.00" y="140.30" font-size="7.2" fill="#333">PB462</text>
<circle cx="655.9" cy="137.8" r="0.75" fill="#111"/>
<text x="651.60" y="148.00" font-size="7.2" fill="#333">PB449</text>
<text x="587.00" y="36.00" font-size="7.6" fill="#333"><tspan font-style="italic">r</tspan> = −0.908, <tspan font-style="italic">P</tspan> = 4.47 × 10<tspan font-size="5" dy="-3">−5</tspan></text>
<text x="477.50" y="233.50" font-size="15.2" fill="#000" font-weight="bold" stroke="#000" stroke-width="0.35">d</text>
<text x="526.40" y="232.20" font-size="11.5">Metabolic impairment</text>
<polygon points="534.8,246.2 540.5,251.4 546.3,256.5 552.0,261.6 557.8,266.6 563.5,271.6 569.2,276.5 575.0,281.2 580.7,285.9 586.5,290.3 592.2,294.6 598.0,298.7 603.7,302.6 609.4,306.4 615.2,310.0 620.9,313.6 626.7,317.0 632.4,320.3 638.1,323.6 643.9,326.9 649.6,330.1 655.4,333.3 661.1,336.4 666.9,339.6 672.6,342.7 672.6,380.1 666.9,374.8 661.1,369.6 655.4,364.3 649.6,359.1 643.9,353.9 638.1,348.8 632.4,343.7 626.7,338.6 620.9,333.6 615.2,328.8 609.4,324.0 603.7,319.4 598.0,314.9 592.2,310.6 586.5,306.5 580.7,302.5 575.0,298.8 569.2,295.1 563.5,291.6 557.8,288.2 552.0,284.8 546.3,281.5 540.5,278.2 534.8,275.0" fill="#cfcfcf" opacity="0.85"/>
<line x1="534.8" y1="260.6" x2="672.6" y2="361.4" stroke="#3a6cf2" stroke-width="1.05"/>
<rect x="527.6" y="238.4" width="152.19999999999993" height="148.6" fill="none" stroke="#444" stroke-width="0.8"/>
<line x1="525.3000000000001" x2="527.6" y1="267.1" y2="267.1" stroke="#444" stroke-width="0.7"/>
<text x="520.10" y="270.90" font-size="10.4" text-anchor="end" fill="#333">0.05</text>
<line x1="525.3000000000001" x2="527.6" y1="310.1" y2="310.1" stroke="#444" stroke-width="0.7"/>
<text x="520.10" y="313.90" font-size="10.4" text-anchor="end" fill="#333">0</text>
<line x1="525.3000000000001" x2="527.6" y1="352.6" y2="352.6" stroke="#444" stroke-width="0.7"/>
<text x="520.10" y="356.40" font-size="10.4" text-anchor="end" fill="#333">−0.05</text>
<line x1="545.6" x2="545.6" y1="387" y2="389.3" stroke="#444" stroke-width="0.7"/>
<text x="545.60" y="402.90" font-size="10.4" text-anchor="middle" fill="#333">25</text>
<line x1="586.7" x2="586.7" y1="387" y2="389.3" stroke="#444" stroke-width="0.7"/>
<text x="586.70" y="402.90" font-size="10.4" text-anchor="middle" fill="#333">50</text>
<line x1="628.4" x2="628.4" y1="387" y2="389.3" stroke="#444" stroke-width="0.7"/>
<text x="628.40" y="402.90" font-size="10.4" text-anchor="middle" fill="#333">75</text>
<line x1="669.5" x2="669.5" y1="387" y2="389.3" stroke="#444" stroke-width="0.7"/>
<text x="669.50" y="402.90" font-size="10.4" text-anchor="middle" fill="#333">100</text>
<text x="603.70" y="418.50" font-size="11.2" text-anchor="middle">eGFR</text>
<text x="487.5" y="312.2" font-size="11.2" text-anchor="middle" fill="#222" transform="rotate(-90 487.5 312.2)" textLength="142.7" lengthAdjust="spacingAndGlyphs">Metabolic impairment score</text>
<circle cx="534.8" cy="265.2" r="0.75" fill="#111"/>
<text x="530.80" y="261.90" font-size="7.2" fill="#333">PB235</text>
<circle cx="561.1" cy="277.8" r="0.75" fill="#111"/>
<text x="559.50" y="274.80" font-size="7.2" fill="#333">PB350</text>
<circle cx="569" cy="284.5" r="0.75" fill="#111"/>
<text x="572.60" y="285.60" font-size="7.2" fill="#333">PB203</text>
<circle cx="621" cy="314.9" r="0.75" fill="#111"/>
<text x="612.80" y="311.00" font-size="7.2" fill="#333">PB465</text>
<circle cx="672.6" cy="367.4" r="0.75" fill="#111"/>
<text x="649.90" y="374.70" font-size="7.2" fill="#333">PB458</text>
<text x="596.50" y="260.80" font-size="7.6" fill="#333"><tspan font-style="italic">r</tspan> = −0.99, <tspan font-style="italic">P</tspan> = 0.00125</text>
<text x="0.00" y="447.00" font-size="15.2" fill="#000" font-weight="bold" stroke="#000" stroke-width="0.35">e</text>
<circle cx="43.6" cy="471.6" r="1.15" fill="#3a4a94"/>
<circle cx="41.3" cy="484.0" r="1.15" fill="#3a4a94"/>
<circle cx="31.7" cy="490.1" r="1.15" fill="#3a4a94"/>
<circle cx="31.3" cy="486.9" r="1.15" fill="#3a4a94"/>
<circle cx="39.0" cy="503.6" r="1.15" fill="#3a4a94"/>
<circle cx="43.1" cy="508.8" r="1.15" fill="#3a4a94"/>
<circle cx="50.1" cy="470.5" r="1.15" fill="#3a4a94"/>
<circle cx="47.8" cy="480.8" r="1.15" fill="#3a4a94"/>
<circle cx="36.7" cy="503.2" r="1.15" fill="#3a4a94"/>
<circle cx="34.1" cy="493.2" r="1.15" fill="#3a4a94"/>
<circle cx="43.3" cy="484.3" r="1.15" fill="#3a4a94"/>
<circle cx="41.5" cy="471.2" r="1.15" fill="#3a4a94"/>
<circle cx="44.2" cy="486.7" r="1.15" fill="#3a4a94"/>
<circle cx="36.8" cy="493.4" r="1.15" fill="#3a4a94"/>
<circle cx="39.6" cy="481.2" r="1.15" fill="#3a4a94"/>
<circle cx="41.1" cy="505.7" r="1.15" fill="#3a4a94"/>
<circle cx="45.2" cy="480.7" r="1.15" fill="#3a4a94"/>
<circle cx="50.2" cy="473.5" r="1.15" fill="#3a4a94"/>
<circle cx="38.9" cy="500.7" r="1.15" fill="#3a4a94"/>
<circle cx="33.6" cy="489.3" r="1.15" fill="#3a4a94"/>
<circle cx="31.3" cy="496.9" r="1.15" fill="#3a4a94"/>
<circle cx="45.9" cy="492.9" r="1.15" fill="#3a4a94"/>
<circle cx="42.2" cy="487.9" r="1.15" fill="#3a4a94"/>
<circle cx="40.0" cy="496.7" r="1.15" fill="#3a4a94"/>
<circle cx="31.7" cy="501.1" r="1.15" fill="#3a4a94"/>
<circle cx="38.4" cy="505.5" r="1.15" fill="#3a4a94"/>
<circle cx="36.1" cy="486.2" r="1.15" fill="#3a4a94"/>
<circle cx="34.0" cy="478.4" r="1.15" fill="#3a4a94"/>
<circle cx="42.3" cy="479.7" r="1.15" fill="#3a4a94"/>
<circle cx="40.9" cy="494.7" r="1.15" fill="#3a4a94"/>
<circle cx="38.4" cy="485.5" r="1.15" fill="#3a4a94"/>
<circle cx="32.5" cy="484.0" r="1.15" fill="#3a4a94"/>
<circle cx="42.8" cy="474.8" r="1.15" fill="#3a4a94"/>
<circle cx="35.6" cy="483.3" r="1.15" fill="#3a4a94"/>
<circle cx="39.9" cy="489.1" r="1.15" fill="#3a4a94"/>
<circle cx="37.4" cy="479.8" r="1.15" fill="#3a4a94"/>
<circle cx="47.2" cy="475.4" r="1.15" fill="#3a4a94"/>
<circle cx="41.1" cy="510.1" r="1.15" fill="#3a4a94"/>
<circle cx="33.9" cy="501.3" r="1.15" fill="#3a4a94"/>
<circle cx="41.2" cy="501.6" r="1.15" fill="#3a4a94"/>
<circle cx="68.5" cy="463.8" r="1.15" fill="#5ab0d8"/>
<circle cx="95.4" cy="493.2" r="1.15" fill="#5ab0d8"/>
<circle cx="93.6" cy="489.9" r="1.15" fill="#5ab0d8"/>
<circle cx="63.2" cy="478.6" r="1.15" fill="#5ab0d8"/>
<circle cx="64.8" cy="487.5" r="1.15" fill="#5ab0d8"/>
<circle cx="100.8" cy="475.1" r="1.15" fill="#5ab0d8"/>
<circle cx="100.7" cy="470.9" r="1.15" fill="#5ab0d8"/>
<circle cx="62.9" cy="464.0" r="1.15" fill="#5ab0d8"/>
<circle cx="94.8" cy="476.7" r="1.15" fill="#5ab0d8"/>
<circle cx="85.1" cy="492.9" r="1.15" fill="#5ab0d8"/>
<circle cx="90.1" cy="476.6" r="1.15" fill="#5ab0d8"/>
<circle cx="68.6" cy="492.9" r="1.15" fill="#5ab0d8"/>
<circle cx="88.8" cy="461.1" r="1.15" fill="#5ab0d8"/>
<circle cx="102.0" cy="485.7" r="1.15" fill="#5ab0d8"/>
<circle cx="69.5" cy="480.2" r="1.15" fill="#5ab0d8"/>
<circle cx="73.8" cy="496.5" r="1.15" fill="#5ab0d8"/>
<circle cx="94.0" cy="463.2" r="1.15" fill="#5ab0d8"/>
<circle cx="64.5" cy="467.3" r="1.15" fill="#5ab0d8"/>
<circle cx="63.9" cy="482.1" r="1.15" fill="#5ab0d8"/>
<circle cx="64.9" cy="473.7" r="1.15" fill="#5ab0d8"/>
<circle cx="69.7" cy="475.6" r="1.15" fill="#5ab0d8"/>
<circle cx="77.3" cy="479.4" r="1.15" fill="#5ab0d8"/>
<circle cx="74.2" cy="461.7" r="1.15" fill="#5ab0d8"/>
<circle cx="60.4" cy="476.4" r="1.15" fill="#5ab0d8"/>
<circle cx="88.8" cy="480.6" r="1.15" fill="#5ab0d8"/>
<circle cx="80.1" cy="492.1" r="1.15" fill="#5ab0d8"/>
<circle cx="57.0" cy="480.8" r="1.15" fill="#5ab0d8"/>
<circle cx="98.5" cy="474.9" r="1.15" fill="#5ab0d8"/>
<circle cx="83.0" cy="478.0" r="1.15" fill="#5ab0d8"/>
<circle cx="77.9" cy="487.5" r="1.15" fill="#5ab0d8"/>
<circle cx="74.8" cy="479.4" r="1.15" fill="#5ab0d8"/>
<circle cx="87.5" cy="496.8" r="1.15" fill="#5ab0d8"/>
<circle cx="100.0" cy="465.6" r="1.15" fill="#5ab0d8"/>
<circle cx="94.8" cy="459.4" r="1.15" fill="#5ab0d8"/>
<circle cx="57.8" cy="474.8" r="1.15" fill="#5ab0d8"/>
<circle cx="85.5" cy="459.7" r="1.15" fill="#5ab0d8"/>
<circle cx="72.0" cy="477.1" r="1.15" fill="#5ab0d8"/>
<circle cx="59.8" cy="474.3" r="1.15" fill="#5ab0d8"/>
<circle cx="78.1" cy="469.6" r="1.15" fill="#5ab0d8"/>
<circle cx="61.6" cy="468.6" r="1.15" fill="#5ab0d8"/>
<circle cx="88.7" cy="453.5" r="1.15" fill="#5ab0d8"/>
<circle cx="80.0" cy="474.7" r="1.15" fill="#5ab0d8"/>
<circle cx="56.9" cy="465.9" r="1.15" fill="#5ab0d8"/>
<circle cx="93.7" cy="465.6" r="1.15" fill="#5ab0d8"/>
<circle cx="80.9" cy="487.9" r="1.15" fill="#5ab0d8"/>
<circle cx="86.9" cy="474.0" r="1.15" fill="#5ab0d8"/>
<circle cx="74.9" cy="469.6" r="1.15" fill="#5ab0d8"/>
<circle cx="78.6" cy="464.5" r="1.15" fill="#5ab0d8"/>
<circle cx="67.6" cy="467.9" r="1.15" fill="#5ab0d8"/>
<circle cx="90.6" cy="467.1" r="1.15" fill="#5ab0d8"/>
<circle cx="77.3" cy="461.5" r="1.15" fill="#5ab0d8"/>
<circle cx="99.6" cy="457.9" r="1.15" fill="#5ab0d8"/>
<circle cx="93.7" cy="474.3" r="1.15" fill="#5ab0d8"/>
<circle cx="77.0" cy="494.6" r="1.15" fill="#5ab0d8"/>
<circle cx="87.9" cy="484.6" r="1.15" fill="#5ab0d8"/>
<circle cx="72.3" cy="470.1" r="1.15" fill="#5ab0d8"/>
<circle cx="64.7" cy="460.7" r="1.15" fill="#5ab0d8"/>
<circle cx="96.3" cy="486.4" r="1.15" fill="#5ab0d8"/>
<circle cx="66.0" cy="464.7" r="1.15" fill="#5ab0d8"/>
<circle cx="66.6" cy="475.7" r="1.15" fill="#5ab0d8"/>
<circle cx="65.1" cy="501.1" r="1.15" fill="#5ab0d8"/>
<circle cx="101.6" cy="480.1" r="1.15" fill="#5ab0d8"/>
<circle cx="67.4" cy="470.5" r="1.15" fill="#5ab0d8"/>
<circle cx="56.1" cy="472.7" r="1.15" fill="#5ab0d8"/>
<circle cx="90.2" cy="485.7" r="1.15" fill="#5ab0d8"/>
<circle cx="97.4" cy="484.2" r="1.15" fill="#5ab0d8"/>
<circle cx="89.3" cy="493.5" r="1.15" fill="#5ab0d8"/>
<circle cx="58.7" cy="478.9" r="1.15" fill="#5ab0d8"/>
<circle cx="92.9" cy="494.2" r="1.15" fill="#5ab0d8"/>
<circle cx="81.6" cy="497.6" r="1.15" fill="#5ab0d8"/>
<circle cx="86.7" cy="487.5" r="1.15" fill="#5ab0d8"/>
<circle cx="58.4" cy="470.7" r="1.15" fill="#5ab0d8"/>
<circle cx="80.3" cy="484.2" r="1.15" fill="#5ab0d8"/>
<circle cx="83.8" cy="486.9" r="1.15" fill="#5ab0d8"/>
<circle cx="85.5" cy="455.8" r="1.15" fill="#5ab0d8"/>
<circle cx="89.4" cy="465.2" r="1.15" fill="#5ab0d8"/>
<circle cx="76.9" cy="471.8" r="1.15" fill="#5ab0d8"/>
<circle cx="91.0" cy="483.7" r="1.15" fill="#5ab0d8"/>
<circle cx="59.1" cy="465.3" r="1.15" fill="#5ab0d8"/>
<circle cx="80.7" cy="453.1" r="1.15" fill="#5ab0d8"/>
<circle cx="86.3" cy="467.2" r="1.15" fill="#5ab0d8"/>
<circle cx="78.1" cy="476.0" r="1.15" fill="#5ab0d8"/>
<circle cx="126.6" cy="458.5" r="1.15" fill="#38a083"/>
<circle cx="125.7" cy="471.9" r="1.15" fill="#38a083"/>
<circle cx="112.6" cy="499.6" r="1.15" fill="#38a083"/>
<circle cx="108.8" cy="494.5" r="1.15" fill="#38a083"/>
<circle cx="146.1" cy="493.2" r="1.15" fill="#38a083"/>
<circle cx="149.8" cy="510.5" r="1.15" fill="#38a083"/>
<circle cx="127.7" cy="450.2" r="1.15" fill="#38a083"/>
<circle cx="125.8" cy="474.8" r="1.15" fill="#38a083"/>
<circle cx="108.7" cy="478.5" r="1.15" fill="#38a083"/>
<circle cx="118.4" cy="522.6" r="1.15" fill="#38a083"/>
<circle cx="150.6" cy="473.7" r="1.15" fill="#38a083"/>
<circle cx="121.5" cy="482.9" r="1.15" fill="#38a083"/>
<circle cx="120.8" cy="486.0" r="1.15" fill="#38a083"/>
<circle cx="116.1" cy="452.3" r="1.15" fill="#38a083"/>
<circle cx="114.7" cy="471.6" r="1.15" fill="#38a083"/>
<circle cx="129.1" cy="464.9" r="1.15" fill="#38a083"/>
<circle cx="149.6" cy="520.1" r="1.15" fill="#38a083"/>
<circle cx="135.7" cy="529.1" r="1.15" fill="#38a083"/>
<circle cx="141.3" cy="488.0" r="1.15" fill="#38a083"/>
<circle cx="142.4" cy="505.2" r="1.15" fill="#38a083"/>
<circle cx="127.0" cy="478.5" r="1.15" fill="#38a083"/>
<circle cx="117.4" cy="513.6" r="1.15" fill="#38a083"/>
<circle cx="137.1" cy="474.7" r="1.15" fill="#38a083"/>
<circle cx="131.7" cy="483.0" r="1.15" fill="#38a083"/>
<circle cx="110.2" cy="462.4" r="1.15" fill="#38a083"/>
<circle cx="128.3" cy="467.5" r="1.15" fill="#38a083"/>
<circle cx="125.7" cy="460.4" r="1.15" fill="#38a083"/>
<circle cx="111.6" cy="456.1" r="1.15" fill="#38a083"/>
<circle cx="119.8" cy="456.1" r="1.15" fill="#38a083"/>
<circle cx="132.3" cy="526.8" r="1.15" fill="#38a083"/>
<circle cx="142.2" cy="484.7" r="1.15" fill="#38a083"/>
<circle cx="123.8" cy="494.5" r="1.15" fill="#38a083"/>
<circle cx="121.7" cy="478.0" r="1.15" fill="#38a083"/>
<circle cx="104.4" cy="472.6" r="1.15" fill="#38a083"/>
<circle cx="128.7" cy="503.9" r="1.15" fill="#38a083"/>
<circle cx="148.5" cy="467.2" r="1.15" fill="#38a083"/>
<circle cx="123.0" cy="487.6" r="1.15" fill="#38a083"/>
<circle cx="153.5" cy="523.4" r="1.15" fill="#38a083"/>
<circle cx="150.3" cy="490.0" r="1.15" fill="#38a083"/>
<circle cx="146.4" cy="524.0" r="1.15" fill="#38a083"/>
<circle cx="107.0" cy="461.7" r="1.15" fill="#38a083"/>
<circle cx="129.7" cy="508.6" r="1.15" fill="#38a083"/>
<circle cx="136.6" cy="515.9" r="1.15" fill="#38a083"/>
<circle cx="126.2" cy="497.0" r="1.15" fill="#38a083"/>
<circle cx="108.0" cy="470.4" r="1.15" fill="#38a083"/>
<circle cx="136.0" cy="510.0" r="1.15" fill="#38a083"/>
<circle cx="107.2" cy="454.2" r="1.15" fill="#38a083"/>
<circle cx="129.8" cy="499.8" r="1.15" fill="#38a083"/>
<circle cx="122.3" cy="467.9" r="1.15" fill="#38a083"/>
<circle cx="117.6" cy="488.9" r="1.15" fill="#38a083"/>
<circle cx="117.9" cy="449.9" r="1.15" fill="#38a083"/>
<circle cx="137.7" cy="530.2" r="1.15" fill="#38a083"/>
<circle cx="113.5" cy="451.0" r="1.15" fill="#38a083"/>
<circle cx="138.5" cy="465.6" r="1.15" fill="#38a083"/>
<circle cx="144.8" cy="513.6" r="1.15" fill="#38a083"/>
<circle cx="146.1" cy="468.5" r="1.15" fill="#38a083"/>
<circle cx="113.2" cy="515.5" r="1.15" fill="#38a083"/>
<circle cx="113.3" cy="485.0" r="1.15" fill="#38a083"/>
<circle cx="137.6" cy="532.3" r="1.15" fill="#38a083"/>
<circle cx="109.1" cy="482.9" r="1.15" fill="#38a083"/>
<circle cx="108.8" cy="452.6" r="1.15" fill="#38a083"/>
<circle cx="104.3" cy="482.9" r="1.15" fill="#38a083"/>
<circle cx="150.4" cy="526.5" r="1.15" fill="#38a083"/>
<circle cx="141.3" cy="536.6" r="1.15" fill="#38a083"/>
<circle cx="137.5" cy="481.6" r="1.15" fill="#38a083"/>
<circle cx="116.4" cy="479.2" r="1.15" fill="#38a083"/>
<circle cx="120.6" cy="521.0" r="1.15" fill="#38a083"/>
<circle cx="146.2" cy="486.4" r="1.15" fill="#38a083"/>
<circle cx="111.6" cy="480.3" r="1.15" fill="#38a083"/>
<circle cx="123.6" cy="520.1" r="1.15" fill="#38a083"/>
<circle cx="142.1" cy="527.8" r="1.15" fill="#38a083"/>
<circle cx="119.6" cy="472.2" r="1.15" fill="#38a083"/>
<circle cx="115.4" cy="511.6" r="1.15" fill="#38a083"/>
<circle cx="113.9" cy="490.2" r="1.15" fill="#38a083"/>
<circle cx="122.3" cy="470.3" r="1.15" fill="#38a083"/>
<circle cx="124.6" cy="491.8" r="1.15" fill="#38a083"/>
<circle cx="146.3" cy="516.6" r="1.15" fill="#38a083"/>
<circle cx="134.4" cy="477.1" r="1.15" fill="#38a083"/>
<circle cx="118.6" cy="480.1" r="1.15" fill="#38a083"/>
<circle cx="114.6" cy="453.7" r="1.15" fill="#38a083"/>
<circle cx="106.3" cy="492.3" r="1.15" fill="#38a083"/>
<circle cx="135.1" cy="507.9" r="1.15" fill="#38a083"/>
<circle cx="142.1" cy="523.2" r="1.15" fill="#38a083"/>
<circle cx="137.5" cy="458.8" r="1.15" fill="#38a083"/>
<circle cx="147.2" cy="474.1" r="1.15" fill="#38a083"/>
<circle cx="141.6" cy="465.7" r="1.15" fill="#38a083"/>
<circle cx="145.5" cy="506.0" r="1.15" fill="#38a083"/>
<circle cx="127.1" cy="520.7" r="1.15" fill="#38a083"/>
<circle cx="147.2" cy="529.2" r="1.15" fill="#38a083"/>
<circle cx="107.6" cy="464.8" r="1.15" fill="#38a083"/>
<circle cx="148.6" cy="487.9" r="1.15" fill="#38a083"/>
<circle cx="115.3" cy="517.1" r="1.15" fill="#38a083"/>
<circle cx="133.8" cy="503.1" r="1.15" fill="#38a083"/>
<circle cx="115.0" cy="501.2" r="1.15" fill="#38a083"/>
<circle cx="118.2" cy="466.1" r="1.15" fill="#38a083"/>
<circle cx="144.7" cy="496.7" r="1.15" fill="#38a083"/>
<circle cx="104.5" cy="457.0" r="1.15" fill="#38a083"/>
<circle cx="122.7" cy="496.9" r="1.15" fill="#38a083"/>
<circle cx="136.2" cy="456.1" r="1.15" fill="#38a083"/>
<circle cx="110.0" cy="509.8" r="1.15" fill="#38a083"/>
<circle cx="123.5" cy="473.2" r="1.15" fill="#38a083"/>
<circle cx="118.2" cy="498.3" r="1.15" fill="#38a083"/>
<circle cx="121.0" cy="465.5" r="1.15" fill="#38a083"/>
<circle cx="123.3" cy="526.4" r="1.15" fill="#38a083"/>
<circle cx="126.3" cy="462.4" r="1.15" fill="#38a083"/>
<circle cx="121.4" cy="492.8" r="1.15" fill="#38a083"/>
<circle cx="109.0" cy="473.2" r="1.15" fill="#38a083"/>
<circle cx="129.7" cy="530.2" r="1.15" fill="#38a083"/>
<circle cx="145.3" cy="533.9" r="1.15" fill="#38a083"/>
<circle cx="111.9" cy="459.2" r="1.15" fill="#38a083"/>
<circle cx="127.6" cy="452.7" r="1.15" fill="#38a083"/>
<circle cx="150.7" cy="503.1" r="1.15" fill="#38a083"/>
<circle cx="146.4" cy="462.2" r="1.15" fill="#38a083"/>
<circle cx="144.2" cy="467.7" r="1.15" fill="#38a083"/>
<circle cx="123.2" cy="523.2" r="1.15" fill="#38a083"/>
<circle cx="146.6" cy="464.2" r="1.15" fill="#38a083"/>
<circle cx="129.5" cy="482.1" r="1.15" fill="#38a083"/>
<circle cx="134.0" cy="496.8" r="1.15" fill="#38a083"/>
<circle cx="124.1" cy="499.7" r="1.15" fill="#38a083"/>
<circle cx="124.4" cy="506.5" r="1.15" fill="#38a083"/>
<circle cx="125.6" cy="486.9" r="1.15" fill="#38a083"/>
<circle cx="143.0" cy="517.3" r="1.15" fill="#38a083"/>
<circle cx="108.1" cy="486.2" r="1.15" fill="#38a083"/>
<circle cx="106.0" cy="487.2" r="1.15" fill="#38a083"/>
<circle cx="141.3" cy="520.4" r="1.15" fill="#38a083"/>
<circle cx="128.1" cy="532.9" r="1.15" fill="#38a083"/>
<circle cx="144.4" cy="530.6" r="1.15" fill="#38a083"/>
<circle cx="104.6" cy="479.2" r="1.15" fill="#38a083"/>
<circle cx="142.6" cy="462.1" r="1.15" fill="#38a083"/>
<circle cx="112.5" cy="471.3" r="1.15" fill="#38a083"/>
<circle cx="128.8" cy="476.3" r="1.15" fill="#38a083"/>
<circle cx="103.0" cy="464.2" r="1.15" fill="#38a083"/>
<circle cx="138.4" cy="527.5" r="1.15" fill="#38a083"/>
<circle cx="136.0" cy="479.9" r="1.15" fill="#38a083"/>
<circle cx="149.0" cy="497.3" r="1.15" fill="#38a083"/>
<circle cx="135.6" cy="483.0" r="1.15" fill="#38a083"/>
<circle cx="144.9" cy="471.5" r="1.15" fill="#38a083"/>
<circle cx="120.8" cy="515.9" r="1.15" fill="#38a083"/>
<circle cx="136.2" cy="535.4" r="1.15" fill="#38a083"/>
<circle cx="133.2" cy="506.9" r="1.15" fill="#38a083"/>
<circle cx="102.9" cy="461.3" r="1.15" fill="#38a083"/>
<circle cx="134.9" cy="486.4" r="1.15" fill="#38a083"/>
<circle cx="129.2" cy="527.5" r="1.15" fill="#38a083"/>
<circle cx="108.3" cy="468.2" r="1.15" fill="#38a083"/>
<circle cx="106.8" cy="479.7" r="1.15" fill="#38a083"/>
<circle cx="133.4" cy="466.1" r="1.15" fill="#38a083"/>
<circle cx="135.3" cy="490.2" r="1.15" fill="#38a083"/>
<circle cx="114.4" cy="461.3" r="1.15" fill="#38a083"/>
<circle cx="148.9" cy="517.5" r="1.15" fill="#38a083"/>
<circle cx="131.9" cy="479.1" r="1.15" fill="#38a083"/>
<circle cx="112.0" cy="502.0" r="1.15" fill="#38a083"/>
<circle cx="118.0" cy="474.7" r="1.15" fill="#38a083"/>
<circle cx="144.1" cy="511.5" r="1.15" fill="#38a083"/>
<circle cx="113.4" cy="457.3" r="1.15" fill="#38a083"/>
<circle cx="139.2" cy="523.1" r="1.15" fill="#38a083"/>
<circle cx="140.1" cy="471.6" r="1.15" fill="#38a083"/>
<circle cx="131.5" cy="486.7" r="1.15" fill="#38a083"/>
<circle cx="144.4" cy="494.5" r="1.15" fill="#38a083"/>
<circle cx="115.6" cy="505.0" r="1.15" fill="#38a083"/>
<circle cx="115.3" cy="469.0" r="1.15" fill="#38a083"/>
<circle cx="141.9" cy="531.9" r="1.15" fill="#38a083"/>
<circle cx="142.0" cy="477.0" r="1.15" fill="#38a083"/>
<circle cx="149.4" cy="477.2" r="1.15" fill="#38a083"/>
<circle cx="125.0" cy="512.3" r="1.15" fill="#38a083"/>
<circle cx="132.4" cy="475.3" r="1.15" fill="#38a083"/>
<circle cx="109.0" cy="450.4" r="1.15" fill="#38a083"/>
<circle cx="120.0" cy="460.6" r="1.15" fill="#38a083"/>
<circle cx="139.1" cy="504.3" r="1.15" fill="#38a083"/>
<circle cx="107.6" cy="542.7" r="1.15" fill="#dd4a2c"/>
<circle cx="67.2" cy="531.5" r="1.15" fill="#dd4a2c"/>
<circle cx="86.3" cy="549.0" r="1.15" fill="#dd4a2c"/>
<circle cx="69.9" cy="501.8" r="1.15" fill="#dd4a2c"/>
<circle cx="103.6" cy="549.5" r="1.15" fill="#dd4a2c"/>
<circle cx="103.4" cy="508.1" r="1.15" fill="#dd4a2c"/>
<circle cx="83.4" cy="518.6" r="1.15" fill="#dd4a2c"/>
<circle cx="64.3" cy="505.8" r="1.15" fill="#dd4a2c"/>
<circle cx="81.1" cy="541.1" r="1.15" fill="#dd4a2c"/>
<circle cx="86.6" cy="510.7" r="1.15" fill="#dd4a2c"/>
<circle cx="117.5" cy="533.6" r="1.15" fill="#dd4a2c"/>
<circle cx="65.0" cy="517.8" r="1.15" fill="#dd4a2c"/>
<circle cx="90.9" cy="545.5" r="1.15" fill="#dd4a2c"/>
<circle cx="85.2" cy="540.3" r="1.15" fill="#dd4a2c"/>
<circle cx="97.4" cy="502.7" r="1.15" fill="#dd4a2c"/>
<circle cx="63.1" cy="501.6" r="1.15" fill="#dd4a2c"/>
<circle cx="63.3" cy="523.8" r="1.15" fill="#dd4a2c"/>
<circle cx="94.5" cy="547.4" r="1.15" fill="#dd4a2c"/>
<circle cx="74.8" cy="524.1" r="1.15" fill="#dd4a2c"/>
<circle cx="81.2" cy="502.5" r="1.15" fill="#dd4a2c"/>
<circle cx="107.8" cy="524.4" r="1.15" fill="#dd4a2c"/>
<circle cx="70.0" cy="535.0" r="1.15" fill="#dd4a2c"/>
<circle cx="107.6" cy="546.6" r="1.15" fill="#dd4a2c"/>
<circle cx="103.2" cy="513.4" r="1.15" fill="#dd4a2c"/>
<circle cx="88.7" cy="516.4" r="1.15" fill="#dd4a2c"/>
<circle cx="76.2" cy="506.3" r="1.15" fill="#dd4a2c"/>
<circle cx="87.3" cy="554.1" r="1.15" fill="#dd4a2c"/>
<circle cx="77.9" cy="521.5" r="1.15" fill="#dd4a2c"/>
<circle cx="97.0" cy="544.1" r="1.15" fill="#dd4a2c"/>
<circle cx="111.2" cy="535.8" r="1.15" fill="#dd4a2c"/>
<circle cx="105.4" cy="543.1" r="1.15" fill="#dd4a2c"/>
<circle cx="73.9" cy="519.8" r="1.15" fill="#dd4a2c"/>
<circle cx="112.5" cy="530.6" r="1.15" fill="#dd4a2c"/>
<circle cx="71.1" cy="521.6" r="1.15" fill="#dd4a2c"/>
<circle cx="75.3" cy="509.2" r="1.15" fill="#dd4a2c"/>
<circle cx="108.0" cy="551.0" r="1.15" fill="#dd4a2c"/>
<circle cx="78.8" cy="511.1" r="1.15" fill="#dd4a2c"/>
<circle cx="96.4" cy="498.4" r="1.15" fill="#dd4a2c"/>
<circle cx="84.0" cy="500.6" r="1.15" fill="#dd4a2c"/>
<circle cx="69.5" cy="515.6" r="1.15" fill="#dd4a2c"/>
<circle cx="109.9" cy="519.5" r="1.15" fill="#dd4a2c"/>
<circle cx="75.6" cy="535.1" r="1.15" fill="#dd4a2c"/>
<circle cx="88.5" cy="546.9" r="1.15" fill="#dd4a2c"/>
<circle cx="103.5" cy="521.7" r="1.15" fill="#dd4a2c"/>
<circle cx="72.1" cy="532.5" r="1.15" fill="#dd4a2c"/>
<circle cx="88.9" cy="543.1" r="1.15" fill="#dd4a2c"/>
<circle cx="99.7" cy="543.7" r="1.15" fill="#dd4a2c"/>
<circle cx="90.0" cy="503.6" r="1.15" fill="#dd4a2c"/>
<circle cx="109.2" cy="553.8" r="1.15" fill="#dd4a2c"/>
<circle cx="112.5" cy="539.9" r="1.15" fill="#dd4a2c"/>
<circle cx="117.6" cy="538.3" r="1.15" fill="#dd4a2c"/>
<circle cx="83.0" cy="534.4" r="1.15" fill="#dd4a2c"/>
<circle cx="69.3" cy="518.3" r="1.15" fill="#dd4a2c"/>
<circle cx="103.3" cy="505.3" r="1.15" fill="#dd4a2c"/>
<circle cx="90.1" cy="521.0" r="1.15" fill="#dd4a2c"/>
<circle cx="102.8" cy="517.5" r="1.15" fill="#dd4a2c"/>
<circle cx="106.2" cy="557.6" r="1.15" fill="#dd4a2c"/>
<circle cx="94.3" cy="561.0" r="1.15" fill="#dd4a2c"/>
<circle cx="65.4" cy="527.8" r="1.15" fill="#dd4a2c"/>
<circle cx="73.3" cy="546.2" r="1.15" fill="#dd4a2c"/>
<circle cx="69.5" cy="530.2" r="1.15" fill="#dd4a2c"/>
<circle cx="97.6" cy="541.2" r="1.15" fill="#dd4a2c"/>
<circle cx="95.8" cy="535.2" r="1.15" fill="#dd4a2c"/>
<circle cx="116.1" cy="526.2" r="1.15" fill="#dd4a2c"/>
<circle cx="89.3" cy="559.0" r="1.15" fill="#dd4a2c"/>
<circle cx="76.4" cy="538.7" r="1.15" fill="#dd4a2c"/>
<circle cx="80.6" cy="516.8" r="1.15" fill="#dd4a2c"/>
<circle cx="89.9" cy="539.8" r="1.15" fill="#dd4a2c"/>
<circle cx="85.5" cy="506.4" r="1.15" fill="#dd4a2c"/>
<circle cx="77.4" cy="543.1" r="1.15" fill="#dd4a2c"/>
<circle cx="77.0" cy="547.7" r="1.15" fill="#dd4a2c"/>
<circle cx="88.1" cy="502.3" r="1.15" fill="#dd4a2c"/>
<circle cx="114.8" cy="534.8" r="1.15" fill="#dd4a2c"/>
<circle cx="93.0" cy="529.3" r="1.15" fill="#dd4a2c"/>
<circle cx="85.6" cy="535.2" r="1.15" fill="#dd4a2c"/>
<circle cx="93.0" cy="508.7" r="1.15" fill="#dd4a2c"/>
<circle cx="98.1" cy="495.6" r="1.15" fill="#dd4a2c"/>
<circle cx="90.3" cy="500.3" r="1.15" fill="#dd4a2c"/>
<circle cx="81.0" cy="504.9" r="1.15" fill="#dd4a2c"/>
<circle cx="82.3" cy="522.9" r="1.15" fill="#dd4a2c"/>
<circle cx="90.4" cy="535.1" r="1.15" fill="#dd4a2c"/>
<circle cx="105.2" cy="513.9" r="1.15" fill="#dd4a2c"/>
<circle cx="69.5" cy="497.0" r="1.15" fill="#dd4a2c"/>
<circle cx="78.0" cy="545.8" r="1.15" fill="#dd4a2c"/>
<circle cx="85.2" cy="497.8" r="1.15" fill="#dd4a2c"/>
<circle cx="101.9" cy="546.2" r="1.15" fill="#dd4a2c"/>
<circle cx="105.8" cy="554.8" r="1.15" fill="#dd4a2c"/>
<circle cx="113.4" cy="550.6" r="1.15" fill="#dd4a2c"/>
<circle cx="91.1" cy="554.0" r="1.15" fill="#dd4a2c"/>
<circle cx="98.5" cy="506.4" r="1.15" fill="#dd4a2c"/>
<circle cx="78.0" cy="496.7" r="1.15" fill="#dd4a2c"/>
<circle cx="92.9" cy="497.1" r="1.15" fill="#dd4a2c"/>
<circle cx="94.4" cy="524.4" r="1.15" fill="#dd4a2c"/>
<circle cx="97.5" cy="552.4" r="1.15" fill="#dd4a2c"/>
<circle cx="105.6" cy="550.7" r="1.15" fill="#dd4a2c"/>
<circle cx="87.0" cy="518.2" r="1.15" fill="#dd4a2c"/>
<circle cx="103.8" cy="535.0" r="1.15" fill="#dd4a2c"/>
<circle cx="109.0" cy="534.1" r="1.15" fill="#dd4a2c"/>
<circle cx="84.7" cy="552.4" r="1.15" fill="#dd4a2c"/>
<circle cx="86.4" cy="522.5" r="1.15" fill="#dd4a2c"/>
<circle cx="76.5" cy="519.5" r="1.15" fill="#dd4a2c"/>
<circle cx="90.0" cy="528.7" r="1.15" fill="#dd4a2c"/>
<circle cx="95.2" cy="506.9" r="1.15" fill="#dd4a2c"/>
<circle cx="104.9" cy="547.0" r="1.15" fill="#dd4a2c"/>
<circle cx="84.2" cy="510.4" r="1.15" fill="#dd4a2c"/>
<circle cx="82.2" cy="531.2" r="1.15" fill="#dd4a2c"/>
<circle cx="119.7" cy="528.0" r="1.15" fill="#dd4a2c"/>
<circle cx="66.2" cy="509.1" r="1.15" fill="#dd4a2c"/>
<circle cx="122.0" cy="532.9" r="1.15" fill="#dd4a2c"/>
<circle cx="107.6" cy="531.9" r="1.15" fill="#dd4a2c"/>
<circle cx="106.6" cy="502.4" r="1.15" fill="#dd4a2c"/>
<circle cx="105.7" cy="521.3" r="1.15" fill="#dd4a2c"/>
<circle cx="115.6" cy="546.6" r="1.15" fill="#dd4a2c"/>
<circle cx="104.1" cy="557.9" r="1.15" fill="#dd4a2c"/>
<circle cx="65.5" cy="495.2" r="1.15" fill="#dd4a2c"/>
<circle cx="114.9" cy="530.3" r="1.15" fill="#dd4a2c"/>
<circle cx="63.9" cy="515.8" r="1.15" fill="#dd4a2c"/>
<circle cx="100.9" cy="558.2" r="1.15" fill="#dd4a2c"/>
<circle cx="104.2" cy="502.3" r="1.15" fill="#dd4a2c"/>
<circle cx="103.2" cy="540.6" r="1.15" fill="#dd4a2c"/>
<circle cx="92.5" cy="557.8" r="1.15" fill="#dd4a2c"/>
<circle cx="82.9" cy="542.2" r="1.15" fill="#dd4a2c"/>
<circle cx="86.5" cy="530.3" r="1.15" fill="#dd4a2c"/>
<circle cx="91.1" cy="538.1" r="1.15" fill="#dd4a2c"/>
<circle cx="99.3" cy="508.5" r="1.15" fill="#dd4a2c"/>
<circle cx="84.3" cy="532.6" r="1.15" fill="#dd4a2c"/>
<circle cx="101.5" cy="509.8" r="1.15" fill="#dd4a2c"/>
<circle cx="87.1" cy="538.7" r="1.15" fill="#dd4a2c"/>
<circle cx="101.5" cy="555.0" r="1.15" fill="#dd4a2c"/>
<circle cx="90.0" cy="531.2" r="1.15" fill="#dd4a2c"/>
<circle cx="98.4" cy="547.4" r="1.15" fill="#dd4a2c"/>
<circle cx="101.8" cy="538.2" r="1.15" fill="#dd4a2c"/>
<circle cx="92.8" cy="501.9" r="1.15" fill="#dd4a2c"/>
<circle cx="79.3" cy="543.8" r="1.15" fill="#dd4a2c"/>
<circle cx="113.7" cy="521.4" r="1.15" fill="#dd4a2c"/>
<circle cx="93.5" cy="531.4" r="1.15" fill="#dd4a2c"/>
<circle cx="75.1" cy="500.8" r="1.15" fill="#dd4a2c"/>
<circle cx="74.6" cy="540.0" r="1.15" fill="#dd4a2c"/>
<circle cx="88.8" cy="525.8" r="1.15" fill="#dd4a2c"/>
<circle cx="101.2" cy="512.6" r="1.15" fill="#dd4a2c"/>
<circle cx="112.9" cy="518.8" r="1.15" fill="#dd4a2c"/>
<circle cx="79.5" cy="529.5" r="1.15" fill="#dd4a2c"/>
<circle cx="105.9" cy="516.3" r="1.15" fill="#dd4a2c"/>
<circle cx="79.4" cy="513.1" r="1.15" fill="#dd4a2c"/>
<circle cx="66.6" cy="497.1" r="1.15" fill="#dd4a2c"/>
<circle cx="106.3" cy="509.0" r="1.15" fill="#dd4a2c"/>
<circle cx="69.7" cy="510.9" r="1.15" fill="#dd4a2c"/>
<circle cx="93.8" cy="499.0" r="1.15" fill="#dd4a2c"/>
<circle cx="91.9" cy="512.2" r="1.15" fill="#dd4a2c"/>
<circle cx="115.7" cy="522.8" r="1.15" fill="#dd4a2c"/>
<circle cx="103.2" cy="497.0" r="1.15" fill="#dd4a2c"/>
<circle cx="108.7" cy="528.6" r="1.15" fill="#dd4a2c"/>
<circle cx="105.9" cy="563.0" r="1.15" fill="#ea8a68"/>
<circle cx="129.5" cy="550.4" r="1.15" fill="#ea8a68"/>
<circle cx="111.8" cy="563.7" r="1.15" fill="#ea8a68"/>
<circle cx="102.9" cy="563.5" r="1.15" fill="#ea8a68"/>
<circle cx="123.7" cy="547.5" r="1.15" fill="#ea8a68"/>
<circle cx="117.2" cy="549.2" r="1.15" fill="#ea8a68"/>
<circle cx="131.5" cy="543.9" r="1.15" fill="#ea8a68"/>
<circle cx="125.7" cy="549.4" r="1.15" fill="#ea8a68"/>
<circle cx="134.3" cy="542.9" r="1.15" fill="#ea8a68"/>
<circle cx="132.0" cy="547.6" r="1.15" fill="#ea8a68"/>
<circle cx="107.1" cy="560.6" r="1.15" fill="#ea8a68"/>
<circle cx="121.7" cy="554.1" r="1.15" fill="#ea8a68"/>
<circle cx="121.8" cy="559.1" r="1.15" fill="#ea8a68"/>
<circle cx="125.9" cy="552.1" r="1.15" fill="#ea8a68"/>
<circle cx="113.6" cy="556.5" r="1.15" fill="#ea8a68"/>
<circle cx="116.2" cy="554.6" r="1.15" fill="#ea8a68"/>
<circle cx="111.9" cy="559.2" r="1.15" fill="#ea8a68"/>
<circle cx="114.0" cy="560.2" r="1.15" fill="#ea8a68"/>
<circle cx="118.5" cy="555.0" r="1.15" fill="#ea8a68"/>
<circle cx="109.5" cy="561.7" r="1.15" fill="#ea8a68"/>
<circle cx="124.9" cy="544.9" r="1.15" fill="#ea8a68"/>
<circle cx="126.4" cy="546.4" r="1.15" fill="#ea8a68"/>
<circle cx="127.4" cy="550.5" r="1.15" fill="#ea8a68"/>
<circle cx="122.5" cy="551.1" r="1.15" fill="#ea8a68"/>
<circle cx="118.7" cy="552.7" r="1.15" fill="#ea8a68"/>
<circle cx="116.0" cy="559.8" r="1.15" fill="#ea8a68"/>
<circle cx="138.6" cy="564.2" r="1.15" fill="#8e4aa8"/>
<circle cx="139.3" cy="566.6" r="1.15" fill="#8e4aa8"/>
<circle cx="142.3" cy="573.7" r="1.15" fill="#8e4aa8"/>
<circle cx="146.2" cy="577.3" r="1.15" fill="#8e4aa8"/>
<circle cx="149.3" cy="570.4" r="1.15" fill="#8e4aa8"/>
<circle cx="148.1" cy="575.1" r="1.15" fill="#8e4aa8"/>
<circle cx="144.5" cy="579.7" r="1.15" fill="#8e4aa8"/>
<circle cx="145.6" cy="568.3" r="1.15" fill="#8e4aa8"/>
<circle cx="148.8" cy="577.8" r="1.15" fill="#8e4aa8"/>
<circle cx="147.8" cy="565.7" r="1.15" fill="#8e4aa8"/>
<circle cx="142.9" cy="571.2" r="1.15" fill="#8e4aa8"/>
<circle cx="142.8" cy="566.3" r="1.15" fill="#8e4aa8"/>
<circle cx="139.2" cy="571.6" r="1.15" fill="#8e4aa8"/>
<circle cx="145.7" cy="561.3" r="1.15" fill="#8e4aa8"/>
<circle cx="150.8" cy="566.3" r="1.15" fill="#8e4aa8"/>
<circle cx="144.8" cy="570.4" r="1.15" fill="#8e4aa8"/>
<circle cx="142.3" cy="579.4" r="1.15" fill="#8e4aa8"/>
<circle cx="147.1" cy="570.5" r="1.15" fill="#8e4aa8"/>
<circle cx="151.5" cy="569.7" r="1.15" fill="#8e4aa8"/>
<circle cx="150.4" cy="574.0" r="1.15" fill="#8e4aa8"/>
<circle cx="143.2" cy="576.0" r="1.15" fill="#8e4aa8"/>
<circle cx="147.0" cy="563.6" r="1.15" fill="#8e4aa8"/>
<circle cx="148.4" cy="561.7" r="1.15" fill="#8e4aa8"/>
<circle cx="48.6" cy="508.5" r="1.15" fill="#dd4a2c"/>
<circle cx="51.8" cy="516.0" r="1.15" fill="#dd4a2c"/>
<circle cx="53.7" cy="510.2" r="1.15" fill="#dd4a2c"/>
<circle cx="48.6" cy="516.9" r="1.15" fill="#dd4a2c"/>
<circle cx="51.2" cy="510.9" r="1.15" fill="#dd4a2c"/>
<text x="36.40" y="475.50" font-size="11.5" text-anchor="middle">3</text>
<text x="95.20" y="471.70" font-size="11.5" text-anchor="middle">2</text>
<text x="155.00" y="494.50" font-size="11.5" text-anchor="middle">0</text>
<text x="76.30" y="527.70" font-size="11.5" text-anchor="middle">1</text>
<text x="119.00" y="570.50" font-size="11.5" text-anchor="middle">4</text>
<text x="154.10" y="568.60" font-size="11.5" text-anchor="middle">5</text>
<path d="M27.5,568 V584.5 H43.5" fill="none" stroke="#1a1a1a" stroke-width="1"/>
<text x="24.3" y="584" font-size="9" fill="#222" transform="rotate(-90 24.3 584)" textLength="29.5" lengthAdjust="spacingAndGlyphs">UMAP2</text>
<text x="26.70" y="593.80" font-size="9" textLength="28.60" lengthAdjust="spacingAndGlyphs">UMAP1</text>
<circle cx="202.1" cy="471.8" r="1.05" fill="#bababa"/>
<circle cx="200.1" cy="484.5" r="1.05" fill="#bababa"/>
<circle cx="192.0" cy="490.6" r="1.05" fill="#bababa"/>
<circle cx="191.6" cy="487.4" r="1.05" fill="#bababa"/>
<circle cx="198.2" cy="504.4" r="1.05" fill="#bababa"/>
<circle cx="201.7" cy="509.6" r="1.05" fill="#bababa"/>
<circle cx="205.6" cy="481.2" r="1.05" fill="#bababa"/>
<circle cx="196.2" cy="503.9" r="1.05" fill="#bababa"/>
<circle cx="194.1" cy="493.8" r="1.05" fill="#bababa"/>
<circle cx="201.9" cy="484.8" r="1.05" fill="#bababa"/>
<circle cx="200.3" cy="471.4" r="1.05" fill="#bababa"/>
<circle cx="202.6" cy="487.1" r="1.05" fill="#bababa"/>
<circle cx="196.3" cy="494.0" r="1.05" fill="#bababa"/>
<circle cx="198.7" cy="481.6" r="1.05" fill="#bababa"/>
<circle cx="199.9" cy="506.5" r="1.05" fill="#bababa"/>
<circle cx="203.4" cy="481.1" r="1.05" fill="#bababa"/>
<circle cx="207.6" cy="473.8" r="1.05" fill="#bababa"/>
<circle cx="198.1" cy="501.4" r="1.05" fill="#bababa"/>
<circle cx="193.6" cy="489.8" r="1.05" fill="#bababa"/>
<circle cx="191.7" cy="497.5" r="1.05" fill="#bababa"/>
<circle cx="204.0" cy="493.4" r="1.05" fill="#bababa"/>
<circle cx="200.8" cy="488.4" r="1.05" fill="#bababa"/>
<circle cx="199.1" cy="497.4" r="1.05" fill="#bababa"/>
<circle cx="192.0" cy="501.8" r="1.05" fill="#bababa"/>
<circle cx="197.6" cy="506.3" r="1.05" fill="#bababa"/>
<circle cx="195.7" cy="486.6" r="1.05" fill="#bababa"/>
<circle cx="194.0" cy="478.7" r="1.05" fill="#bababa"/>
<circle cx="201.0" cy="480.0" r="1.05" fill="#bababa"/>
<circle cx="199.8" cy="495.3" r="1.05" fill="#bababa"/>
<circle cx="197.7" cy="485.9" r="1.05" fill="#bababa"/>
<circle cx="192.7" cy="484.4" r="1.05" fill="#bababa"/>
<circle cx="201.4" cy="475.1" r="1.05" fill="#bababa"/>
<circle cx="195.3" cy="483.7" r="1.05" fill="#bababa"/>
<circle cx="198.9" cy="489.6" r="1.05" fill="#bababa"/>
<circle cx="196.8" cy="480.1" r="1.05" fill="#bababa"/>
<circle cx="205.1" cy="475.7" r="1.05" fill="#bababa"/>
<circle cx="200.0" cy="510.9" r="1.05" fill="#bababa"/>
<circle cx="193.8" cy="502.0" r="1.05" fill="#bababa"/>
<circle cx="200.0" cy="502.3" r="1.05" fill="#bababa"/>
<circle cx="223.1" cy="463.9" r="1.05" fill="#bababa"/>
<circle cx="245.8" cy="493.8" r="1.05" fill="#bababa"/>
<circle cx="244.4" cy="490.4" r="1.05" fill="#bababa"/>
<circle cx="218.6" cy="479.0" r="1.05" fill="#bababa"/>
<circle cx="220.0" cy="488.0" r="1.05" fill="#bababa"/>
<circle cx="250.4" cy="475.4" r="1.05" fill="#bababa"/>
<circle cx="250.3" cy="471.2" r="1.05" fill="#bababa"/>
<circle cx="218.3" cy="464.1" r="1.05" fill="#bababa"/>
<circle cx="245.3" cy="477.0" r="1.05" fill="#bababa"/>
<circle cx="237.2" cy="493.4" r="1.05" fill="#bababa"/>
<circle cx="241.4" cy="477.0" r="1.05" fill="#bababa"/>
<circle cx="223.2" cy="493.5" r="1.05" fill="#bababa"/>
<circle cx="240.3" cy="461.2" r="1.05" fill="#bababa"/>
<circle cx="251.4" cy="486.2" r="1.05" fill="#bababa"/>
<circle cx="224.0" cy="480.6" r="1.05" fill="#bababa"/>
<circle cx="227.6" cy="497.1" r="1.05" fill="#bababa"/>
<circle cx="244.7" cy="463.3" r="1.05" fill="#bababa"/>
<circle cx="219.7" cy="467.5" r="1.05" fill="#bababa"/>
<circle cx="219.2" cy="482.5" r="1.05" fill="#bababa"/>
<circle cx="220.0" cy="473.9" r="1.05" fill="#bababa"/>
<circle cx="224.1" cy="475.9" r="1.05" fill="#bababa"/>
<circle cx="230.6" cy="479.7" r="1.05" fill="#bababa"/>
<circle cx="227.9" cy="461.8" r="1.05" fill="#bababa"/>
<circle cx="216.2" cy="476.7" r="1.05" fill="#bababa"/>
<circle cx="240.3" cy="481.0" r="1.05" fill="#bababa"/>
<circle cx="232.9" cy="492.7" r="1.05" fill="#bababa"/>
<circle cx="213.4" cy="481.2" r="1.05" fill="#bababa"/>
<circle cx="248.5" cy="475.2" r="1.05" fill="#bababa"/>
<circle cx="235.4" cy="478.4" r="1.05" fill="#bababa"/>
<circle cx="231.0" cy="488.0" r="1.05" fill="#bababa"/>
<circle cx="228.4" cy="479.8" r="1.05" fill="#bababa"/>
<circle cx="239.2" cy="497.4" r="1.05" fill="#bababa"/>
<circle cx="249.7" cy="465.8" r="1.05" fill="#bababa"/>
<circle cx="245.3" cy="459.5" r="1.05" fill="#bababa"/>
<circle cx="214.0" cy="475.1" r="1.05" fill="#bababa"/>
<circle cx="226.1" cy="477.4" r="1.05" fill="#bababa"/>
<circle cx="231.2" cy="469.8" r="1.05" fill="#bababa"/>
<circle cx="217.3" cy="468.8" r="1.05" fill="#bababa"/>
<circle cx="240.2" cy="453.5" r="1.05" fill="#bababa"/>
<circle cx="232.9" cy="475.0" r="1.05" fill="#bababa"/>
<circle cx="213.3" cy="466.1" r="1.05" fill="#bababa"/>
<circle cx="244.4" cy="465.7" r="1.05" fill="#bababa"/>
<circle cx="233.6" cy="488.4" r="1.05" fill="#bababa"/>
<circle cx="238.7" cy="474.3" r="1.05" fill="#bababa"/>
<circle cx="228.5" cy="469.8" r="1.05" fill="#bababa"/>
<circle cx="222.3" cy="468.1" r="1.05" fill="#bababa"/>
<circle cx="241.8" cy="467.3" r="1.05" fill="#bababa"/>
<circle cx="230.5" cy="461.6" r="1.05" fill="#bababa"/>
<circle cx="249.4" cy="457.9" r="1.05" fill="#bababa"/>
<circle cx="230.3" cy="495.2" r="1.05" fill="#bababa"/>
<circle cx="239.5" cy="485.1" r="1.05" fill="#bababa"/>
<circle cx="226.4" cy="470.3" r="1.05" fill="#bababa"/>
<circle cx="219.9" cy="460.8" r="1.05" fill="#bababa"/>
<circle cx="246.6" cy="486.8" r="1.05" fill="#bababa"/>
<circle cx="221.0" cy="464.9" r="1.05" fill="#bababa"/>
<circle cx="221.5" cy="476.0" r="1.05" fill="#bababa"/>
<circle cx="220.2" cy="501.8" r="1.05" fill="#bababa"/>
<circle cx="251.1" cy="480.5" r="1.05" fill="#bababa"/>
<circle cx="222.2" cy="470.7" r="1.05" fill="#bababa"/>
<circle cx="212.7" cy="472.9" r="1.05" fill="#bababa"/>
<circle cx="241.4" cy="486.2" r="1.05" fill="#bababa"/>
<circle cx="247.6" cy="484.6" r="1.05" fill="#bababa"/>
<circle cx="240.7" cy="494.1" r="1.05" fill="#bababa"/>
<circle cx="214.8" cy="479.3" r="1.05" fill="#bababa"/>
<circle cx="243.8" cy="494.8" r="1.05" fill="#bababa"/>
<circle cx="234.2" cy="498.2" r="1.05" fill="#bababa"/>
<circle cx="238.5" cy="488.0" r="1.05" fill="#bababa"/>
<circle cx="214.5" cy="471.0" r="1.05" fill="#bababa"/>
<circle cx="233.1" cy="484.6" r="1.05" fill="#bababa"/>
<circle cx="237.4" cy="455.8" r="1.05" fill="#bababa"/>
<circle cx="240.8" cy="465.4" r="1.05" fill="#bababa"/>
<circle cx="242.1" cy="484.1" r="1.05" fill="#bababa"/>
<circle cx="215.2" cy="465.5" r="1.05" fill="#bababa"/>
<circle cx="238.2" cy="467.4" r="1.05" fill="#bababa"/>
<circle cx="231.2" cy="476.3" r="1.05" fill="#bababa"/>
<circle cx="272.2" cy="458.6" r="1.05" fill="#bababa"/>
<circle cx="260.4" cy="500.3" r="1.05" fill="#bababa"/>
<circle cx="257.2" cy="495.1" r="1.05" fill="#bababa"/>
<circle cx="273.2" cy="450.1" r="1.05" fill="#bababa"/>
<circle cx="271.5" cy="475.1" r="1.05" fill="#bababa"/>
<circle cx="265.3" cy="523.6" r="1.05" fill="#bababa"/>
<circle cx="292.5" cy="474.0" r="1.05" fill="#bababa"/>
<circle cx="274.3" cy="465.0" r="1.05" fill="#bababa"/>
<circle cx="284.6" cy="488.5" r="1.05" fill="#bababa"/>
<circle cx="272.5" cy="478.9" r="1.05" fill="#bababa"/>
<circle cx="264.4" cy="514.5" r="1.05" fill="#bababa"/>
<circle cx="258.3" cy="462.5" r="1.05" fill="#bababa"/>
<circle cx="259.5" cy="456.1" r="1.05" fill="#bababa"/>
<circle cx="266.5" cy="456.1" r="1.05" fill="#bababa"/>
<circle cx="268.1" cy="478.4" r="1.05" fill="#bababa"/>
<circle cx="253.5" cy="472.9" r="1.05" fill="#bababa"/>
<circle cx="274.0" cy="504.6" r="1.05" fill="#bababa"/>
<circle cx="294.9" cy="524.4" r="1.05" fill="#bababa"/>
<circle cx="292.2" cy="490.6" r="1.05" fill="#bababa"/>
<circle cx="288.9" cy="525.0" r="1.05" fill="#bababa"/>
<circle cx="280.7" cy="516.8" r="1.05" fill="#bababa"/>
<circle cx="256.5" cy="470.6" r="1.05" fill="#bababa"/>
<circle cx="280.1" cy="510.9" r="1.05" fill="#bababa"/>
<circle cx="268.6" cy="468.0" r="1.05" fill="#bababa"/>
<circle cx="264.6" cy="489.4" r="1.05" fill="#bababa"/>
<circle cx="264.9" cy="449.9" r="1.05" fill="#bababa"/>
<circle cx="287.6" cy="514.5" r="1.05" fill="#bababa"/>
<circle cx="257.2" cy="452.6" r="1.05" fill="#bababa"/>
<circle cx="284.6" cy="537.8" r="1.05" fill="#bababa"/>
<circle cx="281.5" cy="482.0" r="1.05" fill="#bababa"/>
<circle cx="263.6" cy="479.6" r="1.05" fill="#bababa"/>
<circle cx="267.1" cy="521.9" r="1.05" fill="#bababa"/>
<circle cx="288.8" cy="486.9" r="1.05" fill="#bababa"/>
<circle cx="259.5" cy="480.7" r="1.05" fill="#bababa"/>
<circle cx="285.3" cy="528.9" r="1.05" fill="#bababa"/>
<circle cx="266.3" cy="472.4" r="1.05" fill="#bababa"/>
<circle cx="262.8" cy="512.5" r="1.05" fill="#bababa"/>
<circle cx="261.4" cy="490.7" r="1.05" fill="#bababa"/>
<circle cx="265.4" cy="480.5" r="1.05" fill="#bababa"/>
<circle cx="255.1" cy="492.8" r="1.05" fill="#bababa"/>
<circle cx="285.3" cy="524.2" r="1.05" fill="#bababa"/>
<circle cx="281.5" cy="458.8" r="1.05" fill="#bababa"/>
<circle cx="289.7" cy="474.4" r="1.05" fill="#bababa"/>
<circle cx="284.9" cy="465.8" r="1.05" fill="#bababa"/>
<circle cx="288.1" cy="506.8" r="1.05" fill="#bababa"/>
<circle cx="272.6" cy="521.7" r="1.05" fill="#bababa"/>
<circle cx="256.1" cy="465.0" r="1.05" fill="#bababa"/>
<circle cx="278.3" cy="503.8" r="1.05" fill="#bababa"/>
<circle cx="262.4" cy="501.9" r="1.05" fill="#bababa"/>
<circle cx="287.5" cy="497.3" r="1.05" fill="#bababa"/>
<circle cx="253.5" cy="457.0" r="1.05" fill="#bababa"/>
<circle cx="258.2" cy="510.6" r="1.05" fill="#bababa"/>
<circle cx="269.6" cy="473.4" r="1.05" fill="#bababa"/>
<circle cx="265.1" cy="499.0" r="1.05" fill="#bababa"/>
<circle cx="272.0" cy="462.5" r="1.05" fill="#bababa"/>
<circle cx="267.8" cy="493.4" r="1.05" fill="#bababa"/>
<circle cx="274.8" cy="531.3" r="1.05" fill="#bababa"/>
<circle cx="288.0" cy="535.0" r="1.05" fill="#bababa"/>
<circle cx="259.7" cy="459.3" r="1.05" fill="#bababa"/>
<circle cx="273.0" cy="452.7" r="1.05" fill="#bababa"/>
<circle cx="288.9" cy="462.3" r="1.05" fill="#bababa"/>
<circle cx="287.1" cy="467.9" r="1.05" fill="#bababa"/>
<circle cx="278.4" cy="497.5" r="1.05" fill="#bababa"/>
<circle cx="270.1" cy="500.4" r="1.05" fill="#bababa"/>
<circle cx="270.4" cy="507.3" r="1.05" fill="#bababa"/>
<circle cx="271.3" cy="487.4" r="1.05" fill="#bababa"/>
<circle cx="287.2" cy="531.8" r="1.05" fill="#bababa"/>
<circle cx="253.6" cy="479.5" r="1.05" fill="#bababa"/>
<circle cx="260.3" cy="471.6" r="1.05" fill="#bababa"/>
<circle cx="280.1" cy="480.3" r="1.05" fill="#bababa"/>
<circle cx="291.1" cy="497.9" r="1.05" fill="#bababa"/>
<circle cx="277.8" cy="507.7" r="1.05" fill="#bababa"/>
<circle cx="252.1" cy="461.4" r="1.05" fill="#bababa"/>
<circle cx="278.0" cy="466.3" r="1.05" fill="#bababa"/>
<circle cx="279.6" cy="490.7" r="1.05" fill="#bababa"/>
<circle cx="291.1" cy="518.4" r="1.05" fill="#bababa"/>
<circle cx="276.7" cy="479.5" r="1.05" fill="#bababa"/>
<circle cx="259.8" cy="502.7" r="1.05" fill="#bababa"/>
<circle cx="287.0" cy="512.4" r="1.05" fill="#bababa"/>
<circle cx="261.1" cy="457.4" r="1.05" fill="#bababa"/>
<circle cx="282.9" cy="524.1" r="1.05" fill="#bababa"/>
<circle cx="283.6" cy="471.9" r="1.05" fill="#bababa"/>
<circle cx="276.3" cy="487.2" r="1.05" fill="#bababa"/>
<circle cx="262.9" cy="505.8" r="1.05" fill="#bababa"/>
<circle cx="262.7" cy="469.2" r="1.05" fill="#bababa"/>
<circle cx="285.2" cy="477.4" r="1.05" fill="#bababa"/>
<circle cx="291.5" cy="477.5" r="1.05" fill="#bababa"/>
<circle cx="270.9" cy="513.2" r="1.05" fill="#bababa"/>
<circle cx="277.1" cy="475.6" r="1.05" fill="#bababa"/>
<circle cx="266.6" cy="460.7" r="1.05" fill="#bababa"/>
<circle cx="282.8" cy="505.0" r="1.05" fill="#bababa"/>
<circle cx="256.2" cy="544.0" r="1.05" fill="#bababa"/>
<circle cx="222.0" cy="532.6" r="1.05" fill="#bababa"/>
<circle cx="238.1" cy="550.4" r="1.05" fill="#bababa"/>
<circle cx="224.3" cy="502.5" r="1.05" fill="#bababa"/>
<circle cx="252.8" cy="550.9" r="1.05" fill="#bababa"/>
<circle cx="252.6" cy="508.9" r="1.05" fill="#bababa"/>
<circle cx="235.7" cy="519.6" r="1.05" fill="#bababa"/>
<circle cx="219.6" cy="506.5" r="1.05" fill="#bababa"/>
<circle cx="233.7" cy="542.4" r="1.05" fill="#bababa"/>
<circle cx="238.4" cy="511.5" r="1.05" fill="#bababa"/>
<circle cx="264.5" cy="534.8" r="1.05" fill="#bababa"/>
<circle cx="220.1" cy="518.7" r="1.05" fill="#bababa"/>
<circle cx="237.2" cy="541.5" r="1.05" fill="#bababa"/>
<circle cx="247.6" cy="503.4" r="1.05" fill="#bababa"/>
<circle cx="218.7" cy="524.8" r="1.05" fill="#bababa"/>
<circle cx="245.0" cy="548.7" r="1.05" fill="#bababa"/>
<circle cx="228.4" cy="525.1" r="1.05" fill="#bababa"/>
<circle cx="233.8" cy="503.2" r="1.05" fill="#bababa"/>
<circle cx="224.4" cy="536.2" r="1.05" fill="#bababa"/>
<circle cx="256.2" cy="548.0" r="1.05" fill="#bababa"/>
<circle cx="252.4" cy="514.3" r="1.05" fill="#bababa"/>
<circle cx="240.2" cy="517.3" r="1.05" fill="#bababa"/>
<circle cx="229.6" cy="507.0" r="1.05" fill="#bababa"/>
<circle cx="239.0" cy="555.6" r="1.05" fill="#bababa"/>
<circle cx="231.1" cy="522.5" r="1.05" fill="#bababa"/>
<circle cx="247.2" cy="545.4" r="1.05" fill="#bababa"/>
<circle cx="254.3" cy="544.5" r="1.05" fill="#bababa"/>
<circle cx="227.6" cy="520.8" r="1.05" fill="#bababa"/>
<circle cx="260.3" cy="531.7" r="1.05" fill="#bababa"/>
<circle cx="225.3" cy="522.6" r="1.05" fill="#bababa"/>
<circle cx="228.8" cy="510.0" r="1.05" fill="#bababa"/>
<circle cx="256.5" cy="552.4" r="1.05" fill="#bababa"/>
<circle cx="231.9" cy="512.0" r="1.05" fill="#bababa"/>
<circle cx="246.7" cy="499.0" r="1.05" fill="#bababa"/>
<circle cx="236.2" cy="501.3" r="1.05" fill="#bababa"/>
<circle cx="224.0" cy="516.5" r="1.05" fill="#bababa"/>
<circle cx="258.1" cy="520.5" r="1.05" fill="#bababa"/>
<circle cx="229.1" cy="536.3" r="1.05" fill="#bababa"/>
<circle cx="240.0" cy="548.3" r="1.05" fill="#bababa"/>
<circle cx="252.7" cy="522.7" r="1.05" fill="#bababa"/>
<circle cx="226.1" cy="533.6" r="1.05" fill="#bababa"/>
<circle cx="240.3" cy="544.4" r="1.05" fill="#bababa"/>
<circle cx="249.5" cy="545.0" r="1.05" fill="#bababa"/>
<circle cx="241.2" cy="504.3" r="1.05" fill="#bababa"/>
<circle cx="257.5" cy="555.2" r="1.05" fill="#bababa"/>
<circle cx="260.3" cy="541.2" r="1.05" fill="#bababa"/>
<circle cx="264.6" cy="539.6" r="1.05" fill="#bababa"/>
<circle cx="235.4" cy="535.6" r="1.05" fill="#bababa"/>
<circle cx="223.8" cy="519.3" r="1.05" fill="#bababa"/>
<circle cx="252.5" cy="506.0" r="1.05" fill="#bababa"/>
<circle cx="241.4" cy="522.0" r="1.05" fill="#bababa"/>
<circle cx="252.1" cy="518.5" r="1.05" fill="#bababa"/>
<circle cx="255.0" cy="559.2" r="1.05" fill="#bababa"/>
<circle cx="245.0" cy="562.6" r="1.05" fill="#bababa"/>
<circle cx="220.5" cy="528.9" r="1.05" fill="#bababa"/>
<circle cx="227.2" cy="547.6" r="1.05" fill="#bababa"/>
<circle cx="223.9" cy="531.4" r="1.05" fill="#bababa"/>
<circle cx="247.7" cy="542.5" r="1.05" fill="#bababa"/>
<circle cx="246.2" cy="536.4" r="1.05" fill="#bababa"/>
<circle cx="263.3" cy="527.2" r="1.05" fill="#bababa"/>
<circle cx="240.7" cy="560.6" r="1.05" fill="#bababa"/>
<circle cx="229.8" cy="540.0" r="1.05" fill="#bababa"/>
<circle cx="233.3" cy="517.7" r="1.05" fill="#bababa"/>
<circle cx="241.2" cy="541.0" r="1.05" fill="#bababa"/>
<circle cx="237.5" cy="507.2" r="1.05" fill="#bababa"/>
<circle cx="230.6" cy="544.4" r="1.05" fill="#bababa"/>
<circle cx="230.3" cy="549.1" r="1.05" fill="#bababa"/>
<circle cx="239.7" cy="503.0" r="1.05" fill="#bababa"/>
<circle cx="262.2" cy="536.0" r="1.05" fill="#bababa"/>
<circle cx="243.8" cy="530.4" r="1.05" fill="#bababa"/>
<circle cx="237.6" cy="536.4" r="1.05" fill="#bababa"/>
<circle cx="243.8" cy="509.5" r="1.05" fill="#bababa"/>
<circle cx="248.1" cy="496.2" r="1.05" fill="#bababa"/>
<circle cx="241.5" cy="501.0" r="1.05" fill="#bababa"/>
<circle cx="233.7" cy="505.6" r="1.05" fill="#bababa"/>
<circle cx="234.8" cy="523.9" r="1.05" fill="#bababa"/>
<circle cx="241.6" cy="536.3" r="1.05" fill="#bababa"/>
<circle cx="254.1" cy="514.8" r="1.05" fill="#bababa"/>
<circle cx="224.0" cy="497.6" r="1.05" fill="#bababa"/>
<circle cx="231.1" cy="547.1" r="1.05" fill="#bababa"/>
<circle cx="237.2" cy="498.4" r="1.05" fill="#bababa"/>
<circle cx="254.6" cy="556.3" r="1.05" fill="#bababa"/>
<circle cx="261.1" cy="552.0" r="1.05" fill="#bababa"/>
<circle cx="242.2" cy="555.5" r="1.05" fill="#bababa"/>
<circle cx="248.5" cy="507.1" r="1.05" fill="#bababa"/>
<circle cx="231.1" cy="497.4" r="1.05" fill="#bababa"/>
<circle cx="243.7" cy="497.8" r="1.05" fill="#bababa"/>
<circle cx="245.0" cy="525.4" r="1.05" fill="#bababa"/>
<circle cx="247.6" cy="553.9" r="1.05" fill="#bababa"/>
<circle cx="254.4" cy="552.2" r="1.05" fill="#bababa"/>
<circle cx="238.7" cy="519.2" r="1.05" fill="#bababa"/>
<circle cx="252.9" cy="536.2" r="1.05" fill="#bababa"/>
<circle cx="257.3" cy="535.3" r="1.05" fill="#bababa"/>
<circle cx="236.8" cy="553.8" r="1.05" fill="#bababa"/>
<circle cx="238.3" cy="523.6" r="1.05" fill="#bababa"/>
<circle cx="229.9" cy="520.5" r="1.05" fill="#bababa"/>
<circle cx="241.3" cy="529.8" r="1.05" fill="#bababa"/>
<circle cx="245.7" cy="507.7" r="1.05" fill="#bababa"/>
<circle cx="253.9" cy="548.4" r="1.05" fill="#bababa"/>
<circle cx="236.4" cy="511.2" r="1.05" fill="#bababa"/>
<circle cx="234.6" cy="532.3" r="1.05" fill="#bababa"/>
<circle cx="266.4" cy="529.1" r="1.05" fill="#bababa"/>
<circle cx="221.2" cy="509.9" r="1.05" fill="#bababa"/>
<circle cx="268.3" cy="534.0" r="1.05" fill="#bababa"/>
<circle cx="256.1" cy="533.1" r="1.05" fill="#bababa"/>
<circle cx="255.3" cy="503.1" r="1.05" fill="#bababa"/>
<circle cx="254.5" cy="522.2" r="1.05" fill="#bababa"/>
<circle cx="262.9" cy="547.9" r="1.05" fill="#bababa"/>
<circle cx="253.2" cy="559.4" r="1.05" fill="#bababa"/>
<circle cx="220.6" cy="495.8" r="1.05" fill="#bababa"/>
<circle cx="262.3" cy="531.4" r="1.05" fill="#bababa"/>
<circle cx="219.2" cy="516.7" r="1.05" fill="#bababa"/>
<circle cx="250.5" cy="559.8" r="1.05" fill="#bababa"/>
<circle cx="253.3" cy="503.1" r="1.05" fill="#bababa"/>
<circle cx="252.5" cy="541.9" r="1.05" fill="#bababa"/>
<circle cx="243.4" cy="559.3" r="1.05" fill="#bababa"/>
<circle cx="235.3" cy="543.5" r="1.05" fill="#bababa"/>
<circle cx="238.3" cy="531.4" r="1.05" fill="#bababa"/>
<circle cx="242.2" cy="539.4" r="1.05" fill="#bababa"/>
<circle cx="249.1" cy="509.3" r="1.05" fill="#bababa"/>
<circle cx="236.4" cy="533.8" r="1.05" fill="#bababa"/>
<circle cx="251.0" cy="510.6" r="1.05" fill="#bababa"/>
<circle cx="238.8" cy="540.0" r="1.05" fill="#bababa"/>
<circle cx="251.0" cy="556.5" r="1.05" fill="#bababa"/>
<circle cx="241.3" cy="532.3" r="1.05" fill="#bababa"/>
<circle cx="248.4" cy="548.8" r="1.05" fill="#bababa"/>
<circle cx="251.3" cy="539.4" r="1.05" fill="#bababa"/>
<circle cx="232.2" cy="545.2" r="1.05" fill="#bababa"/>
<circle cx="261.3" cy="522.4" r="1.05" fill="#bababa"/>
<circle cx="244.2" cy="532.5" r="1.05" fill="#bababa"/>
<circle cx="228.7" cy="501.5" r="1.05" fill="#bababa"/>
<circle cx="228.2" cy="541.3" r="1.05" fill="#bababa"/>
<circle cx="240.2" cy="526.9" r="1.05" fill="#bababa"/>
<circle cx="250.8" cy="513.4" r="1.05" fill="#bababa"/>
<circle cx="260.6" cy="519.8" r="1.05" fill="#bababa"/>
<circle cx="232.4" cy="530.6" r="1.05" fill="#bababa"/>
<circle cx="254.7" cy="517.2" r="1.05" fill="#bababa"/>
<circle cx="232.3" cy="514.0" r="1.05" fill="#bababa"/>
<circle cx="221.5" cy="497.8" r="1.05" fill="#bababa"/>
<circle cx="255.1" cy="509.8" r="1.05" fill="#bababa"/>
<circle cx="224.2" cy="511.8" r="1.05" fill="#bababa"/>
<circle cx="244.5" cy="499.6" r="1.05" fill="#bababa"/>
<circle cx="242.9" cy="513.0" r="1.05" fill="#bababa"/>
<circle cx="263.0" cy="523.8" r="1.05" fill="#bababa"/>
<circle cx="252.4" cy="497.6" r="1.05" fill="#bababa"/>
<circle cx="257.1" cy="529.7" r="1.05" fill="#bababa"/>
<circle cx="254.7" cy="564.6" r="1.05" fill="#bababa"/>
<circle cx="274.7" cy="551.8" r="1.05" fill="#bababa"/>
<circle cx="259.7" cy="565.4" r="1.05" fill="#bababa"/>
<circle cx="252.2" cy="565.2" r="1.05" fill="#bababa"/>
<circle cx="269.8" cy="548.8" r="1.05" fill="#bababa"/>
<circle cx="264.3" cy="550.6" r="1.05" fill="#bababa"/>
<circle cx="276.3" cy="545.2" r="1.05" fill="#bababa"/>
<circle cx="271.4" cy="550.8" r="1.05" fill="#bababa"/>
<circle cx="278.7" cy="544.2" r="1.05" fill="#bababa"/>
<circle cx="276.8" cy="549.0" r="1.05" fill="#bababa"/>
<circle cx="255.7" cy="562.2" r="1.05" fill="#bababa"/>
<circle cx="268.1" cy="555.6" r="1.05" fill="#bababa"/>
<circle cx="268.2" cy="560.7" r="1.05" fill="#bababa"/>
<circle cx="271.6" cy="553.5" r="1.05" fill="#bababa"/>
<circle cx="261.2" cy="558.0" r="1.05" fill="#bababa"/>
<circle cx="263.4" cy="556.1" r="1.05" fill="#bababa"/>
<circle cx="259.8" cy="560.8" r="1.05" fill="#bababa"/>
<circle cx="261.5" cy="561.7" r="1.05" fill="#bababa"/>
<circle cx="265.3" cy="556.5" r="1.05" fill="#bababa"/>
<circle cx="257.8" cy="563.3" r="1.05" fill="#bababa"/>
<circle cx="270.8" cy="546.3" r="1.05" fill="#bababa"/>
<circle cx="272.0" cy="547.7" r="1.05" fill="#bababa"/>
<circle cx="272.9" cy="551.9" r="1.05" fill="#bababa"/>
<circle cx="268.7" cy="552.5" r="1.05" fill="#bababa"/>
<circle cx="265.5" cy="554.2" r="1.05" fill="#bababa"/>
<circle cx="263.2" cy="561.4" r="1.05" fill="#bababa"/>
<circle cx="282.4" cy="565.9" r="1.05" fill="#bababa"/>
<circle cx="283.0" cy="568.2" r="1.05" fill="#bababa"/>
<circle cx="285.5" cy="575.5" r="1.05" fill="#bababa"/>
<circle cx="288.8" cy="579.2" r="1.05" fill="#bababa"/>
<circle cx="291.4" cy="572.1" r="1.05" fill="#bababa"/>
<circle cx="288.2" cy="570.0" r="1.05" fill="#bababa"/>
<circle cx="290.9" cy="579.7" r="1.05" fill="#bababa"/>
<circle cx="290.2" cy="567.3" r="1.05" fill="#bababa"/>
<circle cx="285.9" cy="572.9" r="1.05" fill="#bababa"/>
<circle cx="285.9" cy="567.9" r="1.05" fill="#bababa"/>
<circle cx="288.4" cy="562.9" r="1.05" fill="#bababa"/>
<circle cx="292.7" cy="568.0" r="1.05" fill="#bababa"/>
<circle cx="285.4" cy="581.3" r="1.05" fill="#bababa"/>
<circle cx="293.2" cy="571.4" r="1.05" fill="#bababa"/>
<circle cx="292.3" cy="575.8" r="1.05" fill="#bababa"/>
<circle cx="286.2" cy="577.9" r="1.05" fill="#bababa"/>
<circle cx="289.5" cy="565.3" r="1.05" fill="#bababa"/>
<circle cx="290.6" cy="563.3" r="1.05" fill="#bababa"/>
<circle cx="206.3" cy="509.3" r="1.05" fill="#bababa"/>
<circle cx="209.0" cy="516.9" r="1.05" fill="#bababa"/>
<circle cx="210.6" cy="511.0" r="1.05" fill="#bababa"/>
<circle cx="206.3" cy="517.8" r="1.05" fill="#bababa"/>
<circle cx="208.5" cy="511.8" r="1.05" fill="#bababa"/>
<circle cx="207.6" cy="470.7" r="1.3" fill="#f00000"/>
<circle cx="237.5" cy="459.8" r="1.3" fill="#f00000"/>
<circle cx="215.8" cy="474.6" r="1.3" fill="#f00000"/>
<circle cx="231.7" cy="464.7" r="1.3" fill="#f00000"/>
<circle cx="244.4" cy="474.6" r="1.3" fill="#f00000"/>
<circle cx="236.0" cy="487.4" r="1.3" fill="#f00000"/>
<circle cx="230.2" cy="472.1" r="1.3" fill="#f00000"/>
<circle cx="233.5" cy="453.1" r="1.3" fill="#f00000"/>
<circle cx="271.5" cy="472.1" r="1.3" fill="#f00000"/>
<circle cx="288.7" cy="493.7" r="1.3" fill="#f00000"/>
<circle cx="291.8" cy="511.3" r="1.3" fill="#f00000"/>
<circle cx="257.1" cy="478.9" r="1.3" fill="#f00000"/>
<circle cx="267.9" cy="483.3" r="1.3" fill="#f00000"/>
<circle cx="267.3" cy="486.5" r="1.3" fill="#f00000"/>
<circle cx="263.4" cy="452.2" r="1.3" fill="#f00000"/>
<circle cx="262.2" cy="471.8" r="1.3" fill="#f00000"/>
<circle cx="291.7" cy="521.1" r="1.3" fill="#f00000"/>
<circle cx="279.9" cy="530.2" r="1.3" fill="#f00000"/>
<circle cx="285.6" cy="506.0" r="1.3" fill="#f00000"/>
<circle cx="281.1" cy="475.0" r="1.3" fill="#f00000"/>
<circle cx="276.5" cy="483.4" r="1.3" fill="#f00000"/>
<circle cx="273.7" cy="467.7" r="1.3" fill="#f00000"/>
<circle cx="271.5" cy="460.5" r="1.3" fill="#f00000"/>
<circle cx="277.0" cy="527.9" r="1.3" fill="#f00000"/>
<circle cx="285.4" cy="485.1" r="1.3" fill="#f00000"/>
<circle cx="269.8" cy="495.1" r="1.3" fill="#f00000"/>
<circle cx="290.7" cy="467.4" r="1.3" fill="#f00000"/>
<circle cx="269.2" cy="488.1" r="1.3" fill="#f00000"/>
<circle cx="255.6" cy="461.8" r="1.3" fill="#f00000"/>
<circle cx="274.8" cy="509.4" r="1.3" fill="#f00000"/>
<circle cx="271.8" cy="497.6" r="1.3" fill="#f00000"/>
<circle cx="255.8" cy="454.2" r="1.3" fill="#f00000"/>
<circle cx="274.9" cy="500.4" r="1.3" fill="#f00000"/>
<circle cx="281.6" cy="531.3" r="1.3" fill="#f00000"/>
<circle cx="261.1" cy="451.0" r="1.3" fill="#f00000"/>
<circle cx="282.3" cy="465.7" r="1.3" fill="#f00000"/>
<circle cx="288.7" cy="468.7" r="1.3" fill="#f00000"/>
<circle cx="260.9" cy="516.4" r="1.3" fill="#f00000"/>
<circle cx="261.0" cy="485.5" r="1.3" fill="#f00000"/>
<circle cx="281.5" cy="533.4" r="1.3" fill="#f00000"/>
<circle cx="257.4" cy="483.4" r="1.3" fill="#f00000"/>
<circle cx="253.4" cy="483.3" r="1.3" fill="#f00000"/>
<circle cx="292.3" cy="527.5" r="1.3" fill="#f00000"/>
<circle cx="269.7" cy="521.1" r="1.3" fill="#f00000"/>
<circle cx="268.5" cy="470.5" r="1.3" fill="#f00000"/>
<circle cx="270.6" cy="492.4" r="1.3" fill="#f00000"/>
<circle cx="288.8" cy="517.5" r="1.3" fill="#f00000"/>
<circle cx="278.8" cy="477.4" r="1.3" fill="#f00000"/>
<circle cx="262.1" cy="453.7" r="1.3" fill="#f00000"/>
<circle cx="279.4" cy="508.7" r="1.3" fill="#f00000"/>
<circle cx="289.6" cy="530.3" r="1.3" fill="#f00000"/>
<circle cx="290.8" cy="488.4" r="1.3" fill="#f00000"/>
<circle cx="262.7" cy="518.0" r="1.3" fill="#f00000"/>
<circle cx="265.1" cy="466.2" r="1.3" fill="#f00000"/>
<circle cx="268.9" cy="497.5" r="1.3" fill="#f00000"/>
<circle cx="280.3" cy="456.1" r="1.3" fill="#f00000"/>
<circle cx="267.5" cy="465.7" r="1.3" fill="#f00000"/>
<circle cx="269.5" cy="527.5" r="1.3" fill="#f00000"/>
<circle cx="257.4" cy="473.4" r="1.3" fill="#f00000"/>
<circle cx="292.6" cy="503.8" r="1.3" fill="#f00000"/>
<circle cx="269.4" cy="524.2" r="1.3" fill="#f00000"/>
<circle cx="289.1" cy="464.4" r="1.3" fill="#f00000"/>
<circle cx="274.6" cy="482.5" r="1.3" fill="#f00000"/>
<circle cx="286.1" cy="518.2" r="1.3" fill="#f00000"/>
<circle cx="256.5" cy="486.7" r="1.3" fill="#f00000"/>
<circle cx="254.8" cy="487.7" r="1.3" fill="#f00000"/>
<circle cx="284.6" cy="521.4" r="1.3" fill="#f00000"/>
<circle cx="273.4" cy="534.1" r="1.3" fill="#f00000"/>
<circle cx="285.7" cy="462.2" r="1.3" fill="#f00000"/>
<circle cx="274.1" cy="476.7" r="1.3" fill="#f00000"/>
<circle cx="252.3" cy="464.3" r="1.3" fill="#f00000"/>
<circle cx="282.2" cy="528.6" r="1.3" fill="#f00000"/>
<circle cx="279.8" cy="483.4" r="1.3" fill="#f00000"/>
<circle cx="287.6" cy="471.8" r="1.3" fill="#f00000"/>
<circle cx="267.3" cy="516.8" r="1.3" fill="#f00000"/>
<circle cx="280.3" cy="536.6" r="1.3" fill="#f00000"/>
<circle cx="279.2" cy="486.9" r="1.3" fill="#f00000"/>
<circle cx="274.4" cy="528.6" r="1.3" fill="#f00000"/>
<circle cx="256.7" cy="468.4" r="1.3" fill="#f00000"/>
<circle cx="255.5" cy="480.1" r="1.3" fill="#f00000"/>
<circle cx="261.9" cy="461.4" r="1.3" fill="#f00000"/>
<circle cx="265.0" cy="475.0" r="1.3" fill="#f00000"/>
<circle cx="287.2" cy="495.1" r="1.3" fill="#f00000"/>
<circle cx="285.1" cy="533.0" r="1.3" fill="#f00000"/>
<circle cx="257.3" cy="450.3" r="1.3" fill="#f00000"/>
<circle cx="242.1" cy="546.9" r="1.3" fill="#f00000"/>
<circle cx="218.5" cy="502.3" r="1.3" fill="#f00000"/>
<circle cx="256.3" cy="525.4" r="1.3" fill="#f00000"/>
<circle cx="259.2" cy="537.0" r="1.3" fill="#f00000"/>
<circle cx="251.4" cy="547.5" r="1.3" fill="#f00000"/>
<circle cx="243.6" cy="502.6" r="1.3" fill="#f00000"/>
<circle cx="290.4" cy="576.9" r="1.3" fill="#f00000"/>
<circle cx="287.3" cy="581.6" r="1.3" fill="#f00000"/>
<circle cx="282.8" cy="573.3" r="1.3" fill="#f00000"/>
<circle cx="287.6" cy="572.1" r="1.3" fill="#f00000"/>
<circle cx="289.6" cy="572.3" r="1.3" fill="#f00000"/>
<circle cx="189.6" cy="567.8" r="2.6" fill="#f00000"/>
<circle cx="189.6" cy="582" r="2.6" fill="#bdbdbd"/>
<text x="197.10" y="571.20" font-size="9.9">Metabolic positive</text>
<text x="197.10" y="585.40" font-size="9.9">Other</text>
<circle cx="342.1" cy="471.8" r="1.05" fill="#bababa"/>
<circle cx="340.1" cy="484.5" r="1.05" fill="#bababa"/>
<circle cx="332.0" cy="490.6" r="1.05" fill="#bababa"/>
<circle cx="331.6" cy="487.4" r="1.05" fill="#bababa"/>
<circle cx="338.2" cy="504.4" r="1.05" fill="#bababa"/>
<circle cx="341.7" cy="509.6" r="1.05" fill="#bababa"/>
<circle cx="336.2" cy="503.9" r="1.05" fill="#bababa"/>
<circle cx="334.1" cy="493.8" r="1.05" fill="#bababa"/>
<circle cx="341.9" cy="484.8" r="1.05" fill="#bababa"/>
<circle cx="339.9" cy="506.5" r="1.05" fill="#bababa"/>
<circle cx="333.6" cy="489.8" r="1.05" fill="#bababa"/>
<circle cx="331.7" cy="497.5" r="1.05" fill="#bababa"/>
<circle cx="340.8" cy="488.4" r="1.05" fill="#bababa"/>
<circle cx="332.0" cy="501.8" r="1.05" fill="#bababa"/>
<circle cx="334.0" cy="478.7" r="1.05" fill="#bababa"/>
<circle cx="337.7" cy="485.9" r="1.05" fill="#bababa"/>
<circle cx="332.7" cy="484.4" r="1.05" fill="#bababa"/>
<circle cx="335.3" cy="483.7" r="1.05" fill="#bababa"/>
<circle cx="336.8" cy="480.1" r="1.05" fill="#bababa"/>
<circle cx="340.0" cy="510.9" r="1.05" fill="#bababa"/>
<circle cx="333.8" cy="502.0" r="1.05" fill="#bababa"/>
<circle cx="340.0" cy="502.3" r="1.05" fill="#bababa"/>
<circle cx="363.1" cy="463.9" r="1.05" fill="#bababa"/>
<circle cx="385.8" cy="493.8" r="1.05" fill="#bababa"/>
<circle cx="384.4" cy="490.4" r="1.05" fill="#bababa"/>
<circle cx="358.6" cy="479.0" r="1.05" fill="#bababa"/>
<circle cx="390.3" cy="471.2" r="1.05" fill="#bababa"/>
<circle cx="358.3" cy="464.1" r="1.05" fill="#bababa"/>
<circle cx="377.2" cy="493.4" r="1.05" fill="#bababa"/>
<circle cx="381.4" cy="477.0" r="1.05" fill="#bababa"/>
<circle cx="363.2" cy="493.5" r="1.05" fill="#bababa"/>
<circle cx="380.3" cy="461.2" r="1.05" fill="#bababa"/>
<circle cx="391.4" cy="486.2" r="1.05" fill="#bababa"/>
<circle cx="364.0" cy="480.6" r="1.05" fill="#bababa"/>
<circle cx="367.6" cy="497.1" r="1.05" fill="#bababa"/>
<circle cx="384.7" cy="463.3" r="1.05" fill="#bababa"/>
<circle cx="359.2" cy="482.5" r="1.05" fill="#bababa"/>
<circle cx="364.1" cy="475.9" r="1.05" fill="#bababa"/>
<circle cx="370.6" cy="479.7" r="1.05" fill="#bababa"/>
<circle cx="356.2" cy="476.7" r="1.05" fill="#bababa"/>
<circle cx="380.3" cy="481.0" r="1.05" fill="#bababa"/>
<circle cx="372.9" cy="492.7" r="1.05" fill="#bababa"/>
<circle cx="375.4" cy="478.4" r="1.05" fill="#bababa"/>
<circle cx="371.0" cy="488.0" r="1.05" fill="#bababa"/>
<circle cx="368.4" cy="479.8" r="1.05" fill="#bababa"/>
<circle cx="379.2" cy="497.4" r="1.05" fill="#bababa"/>
<circle cx="389.7" cy="465.8" r="1.05" fill="#bababa"/>
<circle cx="385.3" cy="459.5" r="1.05" fill="#bababa"/>
<circle cx="354.0" cy="475.1" r="1.05" fill="#bababa"/>
<circle cx="377.5" cy="459.8" r="1.05" fill="#bababa"/>
<circle cx="366.1" cy="477.4" r="1.05" fill="#bababa"/>
<circle cx="355.8" cy="474.6" r="1.05" fill="#bababa"/>
<circle cx="357.3" cy="468.8" r="1.05" fill="#bababa"/>
<circle cx="380.2" cy="453.5" r="1.05" fill="#bababa"/>
<circle cx="372.9" cy="475.0" r="1.05" fill="#bababa"/>
<circle cx="384.4" cy="465.7" r="1.05" fill="#bababa"/>
<circle cx="378.7" cy="474.3" r="1.05" fill="#bababa"/>
<circle cx="368.5" cy="469.8" r="1.05" fill="#bababa"/>
<circle cx="371.7" cy="464.7" r="1.05" fill="#bababa"/>
<circle cx="362.3" cy="468.1" r="1.05" fill="#bababa"/>
<circle cx="381.8" cy="467.3" r="1.05" fill="#bababa"/>
<circle cx="370.5" cy="461.6" r="1.05" fill="#bababa"/>
<circle cx="389.4" cy="457.9" r="1.05" fill="#bababa"/>
<circle cx="384.4" cy="474.6" r="1.05" fill="#bababa"/>
<circle cx="370.3" cy="495.2" r="1.05" fill="#bababa"/>
<circle cx="359.9" cy="460.8" r="1.05" fill="#bababa"/>
<circle cx="386.6" cy="486.8" r="1.05" fill="#bababa"/>
<circle cx="361.0" cy="464.9" r="1.05" fill="#bababa"/>
<circle cx="360.2" cy="501.8" r="1.05" fill="#bababa"/>
<circle cx="391.1" cy="480.5" r="1.05" fill="#bababa"/>
<circle cx="362.2" cy="470.7" r="1.05" fill="#bababa"/>
<circle cx="352.7" cy="472.9" r="1.05" fill="#bababa"/>
<circle cx="381.4" cy="486.2" r="1.05" fill="#bababa"/>
<circle cx="387.6" cy="484.6" r="1.05" fill="#bababa"/>
<circle cx="380.7" cy="494.1" r="1.05" fill="#bababa"/>
<circle cx="354.8" cy="479.3" r="1.05" fill="#bababa"/>
<circle cx="374.2" cy="498.2" r="1.05" fill="#bababa"/>
<circle cx="354.5" cy="471.0" r="1.05" fill="#bababa"/>
<circle cx="373.1" cy="484.6" r="1.05" fill="#bababa"/>
<circle cx="377.4" cy="455.8" r="1.05" fill="#bababa"/>
<circle cx="380.8" cy="465.4" r="1.05" fill="#bababa"/>
<circle cx="370.2" cy="472.1" r="1.05" fill="#bababa"/>
<circle cx="382.1" cy="484.1" r="1.05" fill="#bababa"/>
<circle cx="373.5" cy="453.1" r="1.05" fill="#bababa"/>
<circle cx="371.2" cy="476.3" r="1.05" fill="#bababa"/>
<circle cx="412.2" cy="458.6" r="1.05" fill="#bababa"/>
<circle cx="411.5" cy="472.1" r="1.05" fill="#bababa"/>
<circle cx="400.4" cy="500.3" r="1.05" fill="#bababa"/>
<circle cx="397.2" cy="495.1" r="1.05" fill="#bababa"/>
<circle cx="428.7" cy="493.7" r="1.05" fill="#bababa"/>
<circle cx="431.8" cy="511.3" r="1.05" fill="#bababa"/>
<circle cx="413.2" cy="450.1" r="1.05" fill="#bababa"/>
<circle cx="411.5" cy="475.1" r="1.05" fill="#bababa"/>
<circle cx="397.1" cy="478.9" r="1.05" fill="#bababa"/>
<circle cx="405.3" cy="523.6" r="1.05" fill="#bababa"/>
<circle cx="432.5" cy="474.0" r="1.05" fill="#bababa"/>
<circle cx="407.9" cy="483.3" r="1.05" fill="#bababa"/>
<circle cx="407.3" cy="486.5" r="1.05" fill="#bababa"/>
<circle cx="403.4" cy="452.2" r="1.05" fill="#bababa"/>
<circle cx="402.2" cy="471.8" r="1.05" fill="#bababa"/>
<circle cx="414.3" cy="465.0" r="1.05" fill="#bababa"/>
<circle cx="431.7" cy="521.1" r="1.05" fill="#bababa"/>
<circle cx="419.9" cy="530.2" r="1.05" fill="#bababa"/>
<circle cx="425.6" cy="506.0" r="1.05" fill="#bababa"/>
<circle cx="412.5" cy="478.9" r="1.05" fill="#bababa"/>
<circle cx="404.4" cy="514.5" r="1.05" fill="#bababa"/>
<circle cx="421.1" cy="475.0" r="1.05" fill="#bababa"/>
<circle cx="416.5" cy="483.4" r="1.05" fill="#bababa"/>
<circle cx="398.3" cy="462.5" r="1.05" fill="#bababa"/>
<circle cx="413.7" cy="467.7" r="1.05" fill="#bababa"/>
<circle cx="411.5" cy="460.5" r="1.05" fill="#bababa"/>
<circle cx="399.5" cy="456.1" r="1.05" fill="#bababa"/>
<circle cx="406.5" cy="456.1" r="1.05" fill="#bababa"/>
<circle cx="417.0" cy="527.9" r="1.05" fill="#bababa"/>
<circle cx="425.4" cy="485.1" r="1.05" fill="#bababa"/>
<circle cx="409.8" cy="495.1" r="1.05" fill="#bababa"/>
<circle cx="408.1" cy="478.4" r="1.05" fill="#bababa"/>
<circle cx="393.5" cy="472.9" r="1.05" fill="#bababa"/>
<circle cx="414.0" cy="504.6" r="1.05" fill="#bababa"/>
<circle cx="430.7" cy="467.4" r="1.05" fill="#bababa"/>
<circle cx="409.2" cy="488.1" r="1.05" fill="#bababa"/>
<circle cx="434.9" cy="524.4" r="1.05" fill="#bababa"/>
<circle cx="428.9" cy="525.0" r="1.05" fill="#bababa"/>
<circle cx="395.6" cy="461.8" r="1.05" fill="#bababa"/>
<circle cx="414.8" cy="509.4" r="1.05" fill="#bababa"/>
<circle cx="420.7" cy="516.8" r="1.05" fill="#bababa"/>
<circle cx="411.8" cy="497.6" r="1.05" fill="#bababa"/>
<circle cx="396.5" cy="470.6" r="1.05" fill="#bababa"/>
<circle cx="420.1" cy="510.9" r="1.05" fill="#bababa"/>
<circle cx="395.8" cy="454.2" r="1.05" fill="#bababa"/>
<circle cx="414.9" cy="500.4" r="1.05" fill="#bababa"/>
<circle cx="408.6" cy="468.0" r="1.05" fill="#bababa"/>
<circle cx="404.6" cy="489.4" r="1.05" fill="#bababa"/>
<circle cx="404.9" cy="449.9" r="1.05" fill="#bababa"/>
<circle cx="421.6" cy="531.3" r="1.05" fill="#bababa"/>
<circle cx="401.1" cy="451.0" r="1.05" fill="#bababa"/>
<circle cx="422.3" cy="465.7" r="1.05" fill="#bababa"/>
<circle cx="427.6" cy="514.5" r="1.05" fill="#bababa"/>
<circle cx="428.7" cy="468.7" r="1.05" fill="#bababa"/>
<circle cx="400.9" cy="516.4" r="1.05" fill="#bababa"/>
<circle cx="401.0" cy="485.5" r="1.05" fill="#bababa"/>
<circle cx="421.5" cy="533.4" r="1.05" fill="#bababa"/>
<circle cx="397.4" cy="483.4" r="1.05" fill="#bababa"/>
<circle cx="397.2" cy="452.6" r="1.05" fill="#bababa"/>
<circle cx="393.4" cy="483.3" r="1.05" fill="#bababa"/>
<circle cx="432.3" cy="527.5" r="1.05" fill="#bababa"/>
<circle cx="424.6" cy="537.8" r="1.05" fill="#bababa"/>
<circle cx="421.5" cy="482.0" r="1.05" fill="#bababa"/>
<circle cx="403.6" cy="479.6" r="1.05" fill="#bababa"/>
<circle cx="407.1" cy="521.9" r="1.05" fill="#bababa"/>
<circle cx="428.8" cy="486.9" r="1.05" fill="#bababa"/>
<circle cx="399.5" cy="480.7" r="1.05" fill="#bababa"/>
<circle cx="409.7" cy="521.1" r="1.05" fill="#bababa"/>
<circle cx="425.3" cy="528.9" r="1.05" fill="#bababa"/>
<circle cx="406.3" cy="472.4" r="1.05" fill="#bababa"/>
<circle cx="402.8" cy="512.5" r="1.05" fill="#bababa"/>
<circle cx="401.4" cy="490.7" r="1.05" fill="#bababa"/>
<circle cx="410.6" cy="492.4" r="1.05" fill="#bababa"/>
<circle cx="428.8" cy="517.5" r="1.05" fill="#bababa"/>
<circle cx="418.8" cy="477.4" r="1.05" fill="#bababa"/>
<circle cx="405.4" cy="480.5" r="1.05" fill="#bababa"/>
<circle cx="402.1" cy="453.7" r="1.05" fill="#bababa"/>
<circle cx="395.1" cy="492.8" r="1.05" fill="#bababa"/>
<circle cx="425.3" cy="524.2" r="1.05" fill="#bababa"/>
<circle cx="421.5" cy="458.8" r="1.05" fill="#bababa"/>
<circle cx="424.9" cy="465.8" r="1.05" fill="#bababa"/>
<circle cx="428.1" cy="506.8" r="1.05" fill="#bababa"/>
<circle cx="412.6" cy="521.7" r="1.05" fill="#bababa"/>
<circle cx="429.6" cy="530.3" r="1.05" fill="#bababa"/>
<circle cx="430.8" cy="488.4" r="1.05" fill="#bababa"/>
<circle cx="402.7" cy="518.0" r="1.05" fill="#bababa"/>
<circle cx="418.3" cy="503.8" r="1.05" fill="#bababa"/>
<circle cx="402.4" cy="501.9" r="1.05" fill="#bababa"/>
<circle cx="405.1" cy="466.2" r="1.05" fill="#bababa"/>
<circle cx="427.5" cy="497.3" r="1.05" fill="#bababa"/>
<circle cx="408.9" cy="497.5" r="1.05" fill="#bababa"/>
<circle cx="420.3" cy="456.1" r="1.05" fill="#bababa"/>
<circle cx="398.2" cy="510.6" r="1.05" fill="#bababa"/>
<circle cx="405.1" cy="499.0" r="1.05" fill="#bababa"/>
<circle cx="407.5" cy="465.7" r="1.05" fill="#bababa"/>
<circle cx="412.0" cy="462.5" r="1.05" fill="#bababa"/>
<circle cx="397.4" cy="473.4" r="1.05" fill="#bababa"/>
<circle cx="414.8" cy="531.3" r="1.05" fill="#bababa"/>
<circle cx="428.0" cy="535.0" r="1.05" fill="#bababa"/>
<circle cx="399.7" cy="459.3" r="1.05" fill="#bababa"/>
<circle cx="413.0" cy="452.7" r="1.05" fill="#bababa"/>
<circle cx="432.6" cy="503.8" r="1.05" fill="#bababa"/>
<circle cx="428.9" cy="462.3" r="1.05" fill="#bababa"/>
<circle cx="427.1" cy="467.9" r="1.05" fill="#bababa"/>
<circle cx="409.4" cy="524.2" r="1.05" fill="#bababa"/>
<circle cx="429.1" cy="464.4" r="1.05" fill="#bababa"/>
<circle cx="414.6" cy="482.5" r="1.05" fill="#bababa"/>
<circle cx="418.4" cy="497.5" r="1.05" fill="#bababa"/>
<circle cx="410.1" cy="500.4" r="1.05" fill="#bababa"/>
<circle cx="410.4" cy="507.3" r="1.05" fill="#bababa"/>
<circle cx="411.3" cy="487.4" r="1.05" fill="#bababa"/>
<circle cx="426.1" cy="518.2" r="1.05" fill="#bababa"/>
<circle cx="396.5" cy="486.7" r="1.05" fill="#bababa"/>
<circle cx="413.4" cy="534.1" r="1.05" fill="#bababa"/>
<circle cx="427.2" cy="531.8" r="1.05" fill="#bababa"/>
<circle cx="393.6" cy="479.5" r="1.05" fill="#bababa"/>
<circle cx="425.7" cy="462.2" r="1.05" fill="#bababa"/>
<circle cx="400.3" cy="471.6" r="1.05" fill="#bababa"/>
<circle cx="414.1" cy="476.7" r="1.05" fill="#bababa"/>
<circle cx="392.3" cy="464.3" r="1.05" fill="#bababa"/>
<circle cx="422.2" cy="528.6" r="1.05" fill="#bababa"/>
<circle cx="420.1" cy="480.3" r="1.05" fill="#bababa"/>
<circle cx="431.1" cy="497.9" r="1.05" fill="#bababa"/>
<circle cx="419.8" cy="483.4" r="1.05" fill="#bababa"/>
<circle cx="427.6" cy="471.8" r="1.05" fill="#bababa"/>
<circle cx="407.3" cy="516.8" r="1.05" fill="#bababa"/>
<circle cx="420.3" cy="536.6" r="1.05" fill="#bababa"/>
<circle cx="417.8" cy="507.7" r="1.05" fill="#bababa"/>
<circle cx="392.1" cy="461.4" r="1.05" fill="#bababa"/>
<circle cx="419.2" cy="486.9" r="1.05" fill="#bababa"/>
<circle cx="414.4" cy="528.6" r="1.05" fill="#bababa"/>
<circle cx="396.7" cy="468.4" r="1.05" fill="#bababa"/>
<circle cx="395.5" cy="480.1" r="1.05" fill="#bababa"/>
<circle cx="418.0" cy="466.3" r="1.05" fill="#bababa"/>
<circle cx="419.6" cy="490.7" r="1.05" fill="#bababa"/>
<circle cx="401.9" cy="461.4" r="1.05" fill="#bababa"/>
<circle cx="431.1" cy="518.4" r="1.05" fill="#bababa"/>
<circle cx="416.7" cy="479.5" r="1.05" fill="#bababa"/>
<circle cx="399.8" cy="502.7" r="1.05" fill="#bababa"/>
<circle cx="405.0" cy="475.0" r="1.05" fill="#bababa"/>
<circle cx="427.0" cy="512.4" r="1.05" fill="#bababa"/>
<circle cx="401.1" cy="457.4" r="1.05" fill="#bababa"/>
<circle cx="423.6" cy="471.9" r="1.05" fill="#bababa"/>
<circle cx="416.3" cy="487.2" r="1.05" fill="#bababa"/>
<circle cx="427.2" cy="495.1" r="1.05" fill="#bababa"/>
<circle cx="402.9" cy="505.8" r="1.05" fill="#bababa"/>
<circle cx="402.7" cy="469.2" r="1.05" fill="#bababa"/>
<circle cx="425.1" cy="533.0" r="1.05" fill="#bababa"/>
<circle cx="425.2" cy="477.4" r="1.05" fill="#bababa"/>
<circle cx="431.5" cy="477.5" r="1.05" fill="#bababa"/>
<circle cx="410.9" cy="513.2" r="1.05" fill="#bababa"/>
<circle cx="417.1" cy="475.6" r="1.05" fill="#bababa"/>
<circle cx="397.3" cy="450.3" r="1.05" fill="#bababa"/>
<circle cx="406.6" cy="460.7" r="1.05" fill="#bababa"/>
<circle cx="422.8" cy="505.0" r="1.05" fill="#bababa"/>
<circle cx="396.2" cy="544.0" r="1.05" fill="#bababa"/>
<circle cx="378.1" cy="550.4" r="1.05" fill="#bababa"/>
<circle cx="392.8" cy="550.9" r="1.05" fill="#bababa"/>
<circle cx="392.6" cy="508.9" r="1.05" fill="#bababa"/>
<circle cx="359.6" cy="506.5" r="1.05" fill="#bababa"/>
<circle cx="373.7" cy="542.4" r="1.05" fill="#bababa"/>
<circle cx="378.4" cy="511.5" r="1.05" fill="#bababa"/>
<circle cx="404.5" cy="534.8" r="1.05" fill="#bababa"/>
<circle cx="360.1" cy="518.7" r="1.05" fill="#bababa"/>
<circle cx="377.2" cy="541.5" r="1.05" fill="#bababa"/>
<circle cx="387.6" cy="503.4" r="1.05" fill="#bababa"/>
<circle cx="358.5" cy="502.3" r="1.05" fill="#bababa"/>
<circle cx="358.7" cy="524.8" r="1.05" fill="#bababa"/>
<circle cx="385.0" cy="548.7" r="1.05" fill="#bababa"/>
<circle cx="373.8" cy="503.2" r="1.05" fill="#bababa"/>
<circle cx="396.3" cy="525.4" r="1.05" fill="#bababa"/>
<circle cx="364.4" cy="536.2" r="1.05" fill="#bababa"/>
<circle cx="396.2" cy="548.0" r="1.05" fill="#bababa"/>
<circle cx="392.4" cy="514.3" r="1.05" fill="#bababa"/>
<circle cx="380.2" cy="517.3" r="1.05" fill="#bababa"/>
<circle cx="369.6" cy="507.0" r="1.05" fill="#bababa"/>
<circle cx="379.0" cy="555.6" r="1.05" fill="#bababa"/>
<circle cx="371.1" cy="522.5" r="1.05" fill="#bababa"/>
<circle cx="387.2" cy="545.4" r="1.05" fill="#bababa"/>
<circle cx="394.3" cy="544.5" r="1.05" fill="#bababa"/>
<circle cx="367.6" cy="520.8" r="1.05" fill="#bababa"/>
<circle cx="365.3" cy="522.6" r="1.05" fill="#bababa"/>
<circle cx="368.8" cy="510.0" r="1.05" fill="#bababa"/>
<circle cx="396.5" cy="552.4" r="1.05" fill="#bababa"/>
<circle cx="386.7" cy="499.0" r="1.05" fill="#bababa"/>
<circle cx="376.2" cy="501.3" r="1.05" fill="#bababa"/>
<circle cx="398.1" cy="520.5" r="1.05" fill="#bababa"/>
<circle cx="369.1" cy="536.3" r="1.05" fill="#bababa"/>
<circle cx="380.0" cy="548.3" r="1.05" fill="#bababa"/>
<circle cx="392.7" cy="522.7" r="1.05" fill="#bababa"/>
<circle cx="380.3" cy="544.4" r="1.05" fill="#bababa"/>
<circle cx="389.5" cy="545.0" r="1.05" fill="#bababa"/>
<circle cx="397.5" cy="555.2" r="1.05" fill="#bababa"/>
<circle cx="400.3" cy="541.2" r="1.05" fill="#bababa"/>
<circle cx="404.6" cy="539.6" r="1.05" fill="#bababa"/>
<circle cx="375.4" cy="535.6" r="1.05" fill="#bababa"/>
<circle cx="392.5" cy="506.0" r="1.05" fill="#bababa"/>
<circle cx="381.4" cy="522.0" r="1.05" fill="#bababa"/>
<circle cx="392.1" cy="518.5" r="1.05" fill="#bababa"/>
<circle cx="395.0" cy="559.2" r="1.05" fill="#bababa"/>
<circle cx="360.5" cy="528.9" r="1.05" fill="#bababa"/>
<circle cx="367.2" cy="547.6" r="1.05" fill="#bababa"/>
<circle cx="363.9" cy="531.4" r="1.05" fill="#bababa"/>
<circle cx="387.7" cy="542.5" r="1.05" fill="#bababa"/>
<circle cx="386.2" cy="536.4" r="1.05" fill="#bababa"/>
<circle cx="380.7" cy="560.6" r="1.05" fill="#bababa"/>
<circle cx="369.8" cy="540.0" r="1.05" fill="#bababa"/>
<circle cx="381.2" cy="541.0" r="1.05" fill="#bababa"/>
<circle cx="377.5" cy="507.2" r="1.05" fill="#bababa"/>
<circle cx="370.6" cy="544.4" r="1.05" fill="#bababa"/>
<circle cx="370.3" cy="549.1" r="1.05" fill="#bababa"/>
<circle cx="383.8" cy="530.4" r="1.05" fill="#bababa"/>
<circle cx="388.1" cy="496.2" r="1.05" fill="#bababa"/>
<circle cx="381.5" cy="501.0" r="1.05" fill="#bababa"/>
<circle cx="373.7" cy="505.6" r="1.05" fill="#bababa"/>
<circle cx="381.6" cy="536.3" r="1.05" fill="#bababa"/>
<circle cx="364.0" cy="497.6" r="1.05" fill="#bababa"/>
<circle cx="371.1" cy="547.1" r="1.05" fill="#bababa"/>
<circle cx="377.2" cy="498.4" r="1.05" fill="#bababa"/>
<circle cx="391.4" cy="547.5" r="1.05" fill="#bababa"/>
<circle cx="401.1" cy="552.0" r="1.05" fill="#bababa"/>
<circle cx="382.2" cy="555.5" r="1.05" fill="#bababa"/>
<circle cx="388.5" cy="507.1" r="1.05" fill="#bababa"/>
<circle cx="371.1" cy="497.4" r="1.05" fill="#bababa"/>
<circle cx="383.7" cy="497.8" r="1.05" fill="#bababa"/>
<circle cx="385.0" cy="525.4" r="1.05" fill="#bababa"/>
<circle cx="387.6" cy="553.9" r="1.05" fill="#bababa"/>
<circle cx="394.4" cy="552.2" r="1.05" fill="#bababa"/>
<circle cx="378.7" cy="519.2" r="1.05" fill="#bababa"/>
<circle cx="397.3" cy="535.3" r="1.05" fill="#bababa"/>
<circle cx="376.8" cy="553.8" r="1.05" fill="#bababa"/>
<circle cx="381.3" cy="529.8" r="1.05" fill="#bababa"/>
<circle cx="385.7" cy="507.7" r="1.05" fill="#bababa"/>
<circle cx="393.9" cy="548.4" r="1.05" fill="#bababa"/>
<circle cx="376.4" cy="511.2" r="1.05" fill="#bababa"/>
<circle cx="374.6" cy="532.3" r="1.05" fill="#bababa"/>
<circle cx="361.2" cy="509.9" r="1.05" fill="#bababa"/>
<circle cx="395.3" cy="503.1" r="1.05" fill="#bababa"/>
<circle cx="402.9" cy="547.9" r="1.05" fill="#bababa"/>
<circle cx="393.2" cy="559.4" r="1.05" fill="#bababa"/>
<circle cx="402.3" cy="531.4" r="1.05" fill="#bababa"/>
<circle cx="390.5" cy="559.8" r="1.05" fill="#bababa"/>
<circle cx="392.5" cy="541.9" r="1.05" fill="#bababa"/>
<circle cx="383.4" cy="559.3" r="1.05" fill="#bababa"/>
<circle cx="375.3" cy="543.5" r="1.05" fill="#bababa"/>
<circle cx="389.1" cy="509.3" r="1.05" fill="#bababa"/>
<circle cx="376.4" cy="533.8" r="1.05" fill="#bababa"/>
<circle cx="391.0" cy="510.6" r="1.05" fill="#bababa"/>
<circle cx="391.0" cy="556.5" r="1.05" fill="#bababa"/>
<circle cx="381.3" cy="532.3" r="1.05" fill="#bababa"/>
<circle cx="388.4" cy="548.8" r="1.05" fill="#bababa"/>
<circle cx="391.3" cy="539.4" r="1.05" fill="#bababa"/>
<circle cx="383.6" cy="502.6" r="1.05" fill="#bababa"/>
<circle cx="372.2" cy="545.2" r="1.05" fill="#bababa"/>
<circle cx="401.3" cy="522.4" r="1.05" fill="#bababa"/>
<circle cx="368.7" cy="501.5" r="1.05" fill="#bababa"/>
<circle cx="368.2" cy="541.3" r="1.05" fill="#bababa"/>
<circle cx="380.2" cy="526.9" r="1.05" fill="#bababa"/>
<circle cx="390.8" cy="513.4" r="1.05" fill="#bababa"/>
<circle cx="400.6" cy="519.8" r="1.05" fill="#bababa"/>
<circle cx="372.4" cy="530.6" r="1.05" fill="#bababa"/>
<circle cx="394.7" cy="517.2" r="1.05" fill="#bababa"/>
<circle cx="372.3" cy="514.0" r="1.05" fill="#bababa"/>
<circle cx="361.5" cy="497.8" r="1.05" fill="#bababa"/>
<circle cx="395.1" cy="509.8" r="1.05" fill="#bababa"/>
<circle cx="392.4" cy="497.6" r="1.05" fill="#bababa"/>
<circle cx="397.1" cy="529.7" r="1.05" fill="#bababa"/>
<circle cx="394.7" cy="564.6" r="1.05" fill="#bababa"/>
<circle cx="399.7" cy="565.4" r="1.05" fill="#bababa"/>
<circle cx="392.2" cy="565.2" r="1.05" fill="#bababa"/>
<circle cx="409.8" cy="548.8" r="1.05" fill="#bababa"/>
<circle cx="404.3" cy="550.6" r="1.05" fill="#bababa"/>
<circle cx="416.3" cy="545.2" r="1.05" fill="#bababa"/>
<circle cx="411.4" cy="550.8" r="1.05" fill="#bababa"/>
<circle cx="418.7" cy="544.2" r="1.05" fill="#bababa"/>
<circle cx="416.8" cy="549.0" r="1.05" fill="#bababa"/>
<circle cx="395.7" cy="562.2" r="1.05" fill="#bababa"/>
<circle cx="408.1" cy="555.6" r="1.05" fill="#bababa"/>
<circle cx="408.2" cy="560.7" r="1.05" fill="#bababa"/>
<circle cx="411.6" cy="553.5" r="1.05" fill="#bababa"/>
<circle cx="401.2" cy="558.0" r="1.05" fill="#bababa"/>
<circle cx="403.4" cy="556.1" r="1.05" fill="#bababa"/>
<circle cx="399.8" cy="560.8" r="1.05" fill="#bababa"/>
<circle cx="401.5" cy="561.7" r="1.05" fill="#bababa"/>
<circle cx="405.3" cy="556.5" r="1.05" fill="#bababa"/>
<circle cx="397.8" cy="563.3" r="1.05" fill="#bababa"/>
<circle cx="412.0" cy="547.7" r="1.05" fill="#bababa"/>
<circle cx="412.9" cy="551.9" r="1.05" fill="#bababa"/>
<circle cx="408.7" cy="552.5" r="1.05" fill="#bababa"/>
<circle cx="405.5" cy="554.2" r="1.05" fill="#bababa"/>
<circle cx="403.2" cy="561.4" r="1.05" fill="#bababa"/>
<circle cx="422.4" cy="565.9" r="1.05" fill="#bababa"/>
<circle cx="423.0" cy="568.2" r="1.05" fill="#bababa"/>
<circle cx="428.8" cy="579.2" r="1.05" fill="#bababa"/>
<circle cx="431.4" cy="572.1" r="1.05" fill="#bababa"/>
<circle cx="430.4" cy="576.9" r="1.05" fill="#bababa"/>
<circle cx="427.3" cy="581.6" r="1.05" fill="#bababa"/>
<circle cx="428.2" cy="570.0" r="1.05" fill="#bababa"/>
<circle cx="430.9" cy="579.7" r="1.05" fill="#bababa"/>
<circle cx="425.9" cy="572.9" r="1.05" fill="#bababa"/>
<circle cx="422.8" cy="573.3" r="1.05" fill="#bababa"/>
<circle cx="428.4" cy="562.9" r="1.05" fill="#bababa"/>
<circle cx="432.7" cy="568.0" r="1.05" fill="#bababa"/>
<circle cx="427.6" cy="572.1" r="1.05" fill="#bababa"/>
<circle cx="425.4" cy="581.3" r="1.05" fill="#bababa"/>
<circle cx="429.6" cy="572.3" r="1.05" fill="#bababa"/>
<circle cx="433.2" cy="571.4" r="1.05" fill="#bababa"/>
<circle cx="432.3" cy="575.8" r="1.05" fill="#bababa"/>
<circle cx="426.2" cy="577.9" r="1.05" fill="#bababa"/>
<circle cx="429.5" cy="565.3" r="1.05" fill="#bababa"/>
<circle cx="430.6" cy="563.3" r="1.05" fill="#bababa"/>
<circle cx="346.3" cy="509.3" r="1.05" fill="#bababa"/>
<circle cx="349.0" cy="516.9" r="1.05" fill="#bababa"/>
<circle cx="350.6" cy="511.0" r="1.05" fill="#bababa"/>
<circle cx="346.3" cy="517.8" r="1.05" fill="#bababa"/>
<circle cx="347.6" cy="470.7" r="1.3" fill="#f00000"/>
<circle cx="345.6" cy="481.2" r="1.3" fill="#f00000"/>
<circle cx="340.3" cy="471.4" r="1.3" fill="#f00000"/>
<circle cx="342.6" cy="487.1" r="1.3" fill="#f00000"/>
<circle cx="336.3" cy="494.0" r="1.3" fill="#f00000"/>
<circle cx="338.7" cy="481.6" r="1.3" fill="#f00000"/>
<circle cx="343.4" cy="481.1" r="1.3" fill="#f00000"/>
<circle cx="347.6" cy="473.8" r="1.3" fill="#f00000"/>
<circle cx="338.1" cy="501.4" r="1.3" fill="#f00000"/>
<circle cx="344.0" cy="493.4" r="1.3" fill="#f00000"/>
<circle cx="339.1" cy="497.4" r="1.3" fill="#f00000"/>
<circle cx="337.6" cy="506.3" r="1.3" fill="#f00000"/>
<circle cx="335.7" cy="486.6" r="1.3" fill="#f00000"/>
<circle cx="341.0" cy="480.0" r="1.3" fill="#f00000"/>
<circle cx="339.8" cy="495.3" r="1.3" fill="#f00000"/>
<circle cx="341.4" cy="475.1" r="1.3" fill="#f00000"/>
<circle cx="338.9" cy="489.6" r="1.3" fill="#f00000"/>
<circle cx="345.1" cy="475.7" r="1.3" fill="#f00000"/>
<circle cx="360.0" cy="488.0" r="1.3" fill="#f00000"/>
<circle cx="390.4" cy="475.4" r="1.3" fill="#f00000"/>
<circle cx="385.3" cy="477.0" r="1.3" fill="#f00000"/>
<circle cx="359.7" cy="467.5" r="1.3" fill="#f00000"/>
<circle cx="360.0" cy="473.9" r="1.3" fill="#f00000"/>
<circle cx="367.9" cy="461.8" r="1.3" fill="#f00000"/>
<circle cx="353.4" cy="481.2" r="1.3" fill="#f00000"/>
<circle cx="388.5" cy="475.2" r="1.3" fill="#f00000"/>
<circle cx="371.2" cy="469.8" r="1.3" fill="#f00000"/>
<circle cx="353.3" cy="466.1" r="1.3" fill="#f00000"/>
<circle cx="373.6" cy="488.4" r="1.3" fill="#f00000"/>
<circle cx="379.5" cy="485.1" r="1.3" fill="#f00000"/>
<circle cx="366.4" cy="470.3" r="1.3" fill="#f00000"/>
<circle cx="361.5" cy="476.0" r="1.3" fill="#f00000"/>
<circle cx="383.8" cy="494.8" r="1.3" fill="#f00000"/>
<circle cx="378.5" cy="488.0" r="1.3" fill="#f00000"/>
<circle cx="376.0" cy="487.4" r="1.3" fill="#f00000"/>
<circle cx="355.2" cy="465.5" r="1.3" fill="#f00000"/>
<circle cx="378.2" cy="467.4" r="1.3" fill="#f00000"/>
<circle cx="424.6" cy="488.5" r="1.3" fill="#f00000"/>
<circle cx="432.2" cy="490.6" r="1.3" fill="#f00000"/>
<circle cx="408.5" cy="470.5" r="1.3" fill="#f00000"/>
<circle cx="419.4" cy="508.7" r="1.3" fill="#f00000"/>
<circle cx="429.7" cy="474.4" r="1.3" fill="#f00000"/>
<circle cx="396.1" cy="465.0" r="1.3" fill="#f00000"/>
<circle cx="393.5" cy="457.0" r="1.3" fill="#f00000"/>
<circle cx="409.6" cy="473.4" r="1.3" fill="#f00000"/>
<circle cx="409.5" cy="527.5" r="1.3" fill="#f00000"/>
<circle cx="407.8" cy="493.4" r="1.3" fill="#f00000"/>
<circle cx="394.8" cy="487.7" r="1.3" fill="#f00000"/>
<circle cx="424.6" cy="521.4" r="1.3" fill="#f00000"/>
<circle cx="422.9" cy="524.1" r="1.3" fill="#f00000"/>
<circle cx="362.0" cy="532.6" r="1.3" fill="#f00000"/>
<circle cx="364.3" cy="502.5" r="1.3" fill="#f00000"/>
<circle cx="375.7" cy="519.6" r="1.3" fill="#f00000"/>
<circle cx="382.1" cy="546.9" r="1.3" fill="#f00000"/>
<circle cx="368.4" cy="525.1" r="1.3" fill="#f00000"/>
<circle cx="399.2" cy="537.0" r="1.3" fill="#f00000"/>
<circle cx="400.3" cy="531.7" r="1.3" fill="#f00000"/>
<circle cx="371.9" cy="512.0" r="1.3" fill="#f00000"/>
<circle cx="364.0" cy="516.5" r="1.3" fill="#f00000"/>
<circle cx="366.1" cy="533.6" r="1.3" fill="#f00000"/>
<circle cx="381.2" cy="504.3" r="1.3" fill="#f00000"/>
<circle cx="363.8" cy="519.3" r="1.3" fill="#f00000"/>
<circle cx="385.0" cy="562.6" r="1.3" fill="#f00000"/>
<circle cx="403.3" cy="527.2" r="1.3" fill="#f00000"/>
<circle cx="373.3" cy="517.7" r="1.3" fill="#f00000"/>
<circle cx="379.7" cy="503.0" r="1.3" fill="#f00000"/>
<circle cx="402.2" cy="536.0" r="1.3" fill="#f00000"/>
<circle cx="377.6" cy="536.4" r="1.3" fill="#f00000"/>
<circle cx="383.8" cy="509.5" r="1.3" fill="#f00000"/>
<circle cx="374.8" cy="523.9" r="1.3" fill="#f00000"/>
<circle cx="394.1" cy="514.8" r="1.3" fill="#f00000"/>
<circle cx="394.6" cy="556.3" r="1.3" fill="#f00000"/>
<circle cx="392.9" cy="536.2" r="1.3" fill="#f00000"/>
<circle cx="378.3" cy="523.6" r="1.3" fill="#f00000"/>
<circle cx="369.9" cy="520.5" r="1.3" fill="#f00000"/>
<circle cx="406.4" cy="529.1" r="1.3" fill="#f00000"/>
<circle cx="408.3" cy="534.0" r="1.3" fill="#f00000"/>
<circle cx="396.1" cy="533.1" r="1.3" fill="#f00000"/>
<circle cx="394.5" cy="522.2" r="1.3" fill="#f00000"/>
<circle cx="360.6" cy="495.8" r="1.3" fill="#f00000"/>
<circle cx="359.2" cy="516.7" r="1.3" fill="#f00000"/>
<circle cx="393.3" cy="503.1" r="1.3" fill="#f00000"/>
<circle cx="378.3" cy="531.4" r="1.3" fill="#f00000"/>
<circle cx="382.2" cy="539.4" r="1.3" fill="#f00000"/>
<circle cx="378.8" cy="540.0" r="1.3" fill="#f00000"/>
<circle cx="384.2" cy="532.5" r="1.3" fill="#f00000"/>
<circle cx="364.2" cy="511.8" r="1.3" fill="#f00000"/>
<circle cx="384.5" cy="499.6" r="1.3" fill="#f00000"/>
<circle cx="382.9" cy="513.0" r="1.3" fill="#f00000"/>
<circle cx="403.0" cy="523.8" r="1.3" fill="#f00000"/>
<circle cx="414.7" cy="551.8" r="1.3" fill="#f00000"/>
<circle cx="410.8" cy="546.3" r="1.3" fill="#f00000"/>
<circle cx="425.5" cy="575.5" r="1.3" fill="#f00000"/>
<circle cx="430.2" cy="567.3" r="1.3" fill="#f00000"/>
<circle cx="425.9" cy="567.9" r="1.3" fill="#f00000"/>
<circle cx="348.5" cy="511.8" r="1.3" fill="#f00000"/>
<circle cx="329.6" cy="567.8" r="2.6" fill="#f00000"/>
<circle cx="329.6" cy="582" r="2.6" fill="#bdbdbd"/>
<text x="337.10" y="571.20" font-size="9.9">Immune positive</text>
<text x="337.10" y="585.40" font-size="9.9">Other</text>
<text x="478.00" y="446.50" font-size="15.2" fill="#000" font-weight="bold" stroke="#000" stroke-width="0.35">f</text>
<path d="M527.7,450 V668.8 H703.5" fill="none" stroke="#555" stroke-width="0.8"/>
<line x1="525.2" x2="527.7" y1="471.2" y2="471.2" stroke="#555" stroke-width="0.7"/>
<text x="516.70" y="474.90" font-size="10.3" text-anchor="middle" fill="#333">5</text>
<circle cx="531.5" cy="471.2" r="1.8" fill="#b89ae8"/>
<circle cx="537.8" cy="471.2" r="0.6" fill="#c8c0e8"/>
<circle cx="544.0" cy="471.2" r="0.6" fill="#c8c0e8"/>
<circle cx="550.3" cy="471.2" r="0.6" fill="#c8c0e8"/>
<circle cx="556.6" cy="471.2" r="1.25" fill="#d4d0e0"/>
<circle cx="562.9" cy="471.2" r="0.6" fill="#c8c0e8"/>
<circle cx="569.1" cy="471.2" r="0.6" fill="#c8c0e8"/>
<circle cx="575.4" cy="471.2" r="0.6" fill="#c8c0e8"/>
<circle cx="581.7" cy="471.2" r="1.25" fill="#b89ae8"/>
<circle cx="587.9" cy="471.2" r="0.6" fill="#c8c0e8"/>
<circle cx="594.2" cy="471.2" r="1.8" fill="#9a68e8"/>
<circle cx="600.5" cy="471.2" r="1.25" fill="#9a68e8"/>
<circle cx="606.7" cy="471.2" r="1.25" fill="#b89ae8"/>
<circle cx="613.0" cy="471.2" r="0.6" fill="#c8c0e8"/>
<circle cx="619.3" cy="471.2" r="1.8" fill="#b89ae8"/>
<circle cx="625.5" cy="471.2" r="0.6" fill="#c8c0e8"/>
<circle cx="631.8" cy="471.2" r="0.6" fill="#c8c0e8"/>
<circle cx="638.1" cy="471.2" r="0.6" fill="#c8c0e8"/>
<circle cx="644.4" cy="471.2" r="0.6" fill="#c8c0e8"/>
<circle cx="650.6" cy="471.2" r="0.6" fill="#c8c0e8"/>
<circle cx="656.9" cy="471.2" r="0.6" fill="#c8c0e8"/>
<circle cx="663.2" cy="471.2" r="0.6" fill="#c8c0e8"/>
<circle cx="669.4" cy="471.2" r="1.25" fill="#b89ae8"/>
<circle cx="675.7" cy="471.2" r="2.45" fill="#1a10f0"/>
<circle cx="682.0" cy="471.2" r="0.9" fill="#1a10f0"/>
<circle cx="688.2" cy="471.2" r="1.25" fill="#1a10f0"/>
<circle cx="694.5" cy="471.2" r="2.9" fill="#1a10f0"/>
<circle cx="700.8" cy="471.2" r="1.25" fill="#1a10f0"/>
<line x1="525.2" x2="527.7" y1="506.6" y2="506.6" stroke="#555" stroke-width="0.7"/>
<text x="516.70" y="510.30" font-size="10.3" text-anchor="middle" fill="#333">4</text>
<circle cx="531.5" cy="506.6" r="0.6" fill="#c8c0e8"/>
<circle cx="537.8" cy="506.6" r="0.6" fill="#c8c0e8"/>
<circle cx="544.0" cy="506.6" r="0.6" fill="#c8c0e8"/>
<circle cx="550.3" cy="506.6" r="0.6" fill="#c8c0e8"/>
<circle cx="556.6" cy="506.6" r="1.25" fill="#b89ae8"/>
<circle cx="562.9" cy="506.6" r="1.25" fill="#b89ae8"/>
<circle cx="569.1" cy="506.6" r="0.6" fill="#c8c0e8"/>
<circle cx="575.4" cy="506.6" r="0.6" fill="#c8c0e8"/>
<circle cx="581.7" cy="506.6" r="0.6" fill="#c8c0e8"/>
<circle cx="587.9" cy="506.6" r="0.6" fill="#c8c0e8"/>
<circle cx="594.2" cy="506.6" r="0.6" fill="#c8c0e8"/>
<circle cx="600.5" cy="506.6" r="0.6" fill="#c8c0e8"/>
<circle cx="606.7" cy="506.6" r="1.25" fill="#b89ae8"/>
<circle cx="613.0" cy="506.6" r="0.6" fill="#c8c0e8"/>
<circle cx="619.3" cy="506.6" r="1.25" fill="#b89ae8"/>
<circle cx="625.5" cy="506.6" r="0.6" fill="#c8c0e8"/>
<circle cx="631.8" cy="506.6" r="0.6" fill="#c8c0e8"/>
<circle cx="638.1" cy="506.6" r="0.6" fill="#c8c0e8"/>
<circle cx="644.4" cy="506.6" r="1.25" fill="#1a10f0"/>
<circle cx="650.6" cy="506.6" r="1.25" fill="#1a10f0"/>
<circle cx="656.9" cy="506.6" r="0.9" fill="#1a10f0"/>
<circle cx="663.2" cy="506.6" r="1.25" fill="#1a10f0"/>
<circle cx="669.4" cy="506.6" r="0.9" fill="#1a10f0"/>
<circle cx="675.7" cy="506.6" r="0.6" fill="#c8c0e8"/>
<circle cx="682.0" cy="506.6" r="0.6" fill="#c8c0e8"/>
<circle cx="688.2" cy="506.6" r="0.6" fill="#c8c0e8"/>
<circle cx="694.5" cy="506.6" r="0.6" fill="#c8c0e8"/>
<circle cx="700.8" cy="506.6" r="0.6" fill="#c8c0e8"/>
<line x1="525.2" x2="527.7" y1="541.9" y2="541.9" stroke="#555" stroke-width="0.7"/>
<text x="516.70" y="545.60" font-size="10.3" text-anchor="middle" fill="#333">3</text>
<circle cx="531.5" cy="541.9" r="1.25" fill="#b89ae8"/>
<circle cx="537.8" cy="541.9" r="0.6" fill="#c8c0e8"/>
<circle cx="544.0" cy="541.9" r="1.25" fill="#b89ae8"/>
<circle cx="550.3" cy="541.9" r="0.6" fill="#c8c0e8"/>
<circle cx="556.6" cy="541.9" r="2.9" fill="#9a68e8"/>
<circle cx="562.9" cy="541.9" r="1.8" fill="#b89ae8"/>
<circle cx="569.1" cy="541.9" r="0.6" fill="#c8c0e8"/>
<circle cx="575.4" cy="541.9" r="0.6" fill="#c8c0e8"/>
<circle cx="581.7" cy="541.9" r="1.25" fill="#b89ae8"/>
<circle cx="587.9" cy="541.9" r="1.25" fill="#b89ae8"/>
<circle cx="594.2" cy="541.9" r="1.25" fill="#b89ae8"/>
<circle cx="600.5" cy="541.9" r="0.6" fill="#c8c0e8"/>
<circle cx="606.7" cy="541.9" r="0.6" fill="#c8c0e8"/>
<circle cx="613.0" cy="541.9" r="2.45" fill="#1a10f0"/>
<circle cx="619.3" cy="541.9" r="3.4" fill="#1a10f0"/>
<circle cx="625.5" cy="541.9" r="1.25" fill="#1a10f0"/>
<circle cx="631.8" cy="541.9" r="2.45" fill="#1a10f0"/>
<circle cx="638.1" cy="541.9" r="0.9" fill="#1a10f0"/>
<circle cx="644.4" cy="541.9" r="0.6" fill="#c8c0e8"/>
<circle cx="650.6" cy="541.9" r="0.6" fill="#c8c0e8"/>
<circle cx="656.9" cy="541.9" r="0.6" fill="#c8c0e8"/>
<circle cx="663.2" cy="541.9" r="0.6" fill="#c8c0e8"/>
<circle cx="669.4" cy="541.9" r="0.6" fill="#c8c0e8"/>
<circle cx="675.7" cy="541.9" r="0.6" fill="#c8c0e8"/>
<circle cx="682.0" cy="541.9" r="0.6" fill="#c8c0e8"/>
<circle cx="688.2" cy="541.9" r="0.6" fill="#c8c0e8"/>
<circle cx="694.5" cy="541.9" r="1.25" fill="#b89ae8"/>
<circle cx="700.8" cy="541.9" r="0.6" fill="#c8c0e8"/>
<line x1="525.2" x2="527.7" y1="577.3" y2="577.3" stroke="#555" stroke-width="0.7"/>
<text x="516.70" y="581.00" font-size="10.3" text-anchor="middle" fill="#333">2</text>
<circle cx="531.5" cy="577.3" r="1.8" fill="#b89ae8"/>
<circle cx="537.8" cy="577.3" r="0.6" fill="#c8c0e8"/>
<circle cx="544.0" cy="577.3" r="1.25" fill="#b89ae8"/>
<circle cx="550.3" cy="577.3" r="0.6" fill="#c8c0e8"/>
<circle cx="556.6" cy="577.3" r="1.8" fill="#b89ae8"/>
<circle cx="562.9" cy="577.3" r="1.25" fill="#b89ae8"/>
<circle cx="569.1" cy="577.3" r="0.6" fill="#c8c0e8"/>
<circle cx="575.4" cy="577.3" r="0.6" fill="#c8c0e8"/>
<circle cx="581.7" cy="577.3" r="2.9" fill="#1a10f0"/>
<circle cx="587.9" cy="577.3" r="1.8" fill="#1a10f0"/>
<circle cx="594.2" cy="577.3" r="2.45" fill="#1a10f0"/>
<circle cx="600.5" cy="577.3" r="1.25" fill="#1a10f0"/>
<circle cx="606.7" cy="577.3" r="1.8" fill="#1a10f0"/>
<circle cx="613.0" cy="577.3" r="0.6" fill="#c8c0e8"/>
<circle cx="619.3" cy="577.3" r="2.45" fill="#b89ae8"/>
<circle cx="625.5" cy="577.3" r="0.6" fill="#c8c0e8"/>
<circle cx="631.8" cy="577.3" r="1.25" fill="#b89ae8"/>
<circle cx="638.1" cy="577.3" r="0.6" fill="#c8c0e8"/>
<circle cx="644.4" cy="577.3" r="0.9" fill="#b89ae8"/>
<circle cx="650.6" cy="577.3" r="1.25" fill="#b89ae8"/>
<circle cx="656.9" cy="577.3" r="0.6" fill="#c8c0e8"/>
<circle cx="663.2" cy="577.3" r="1.25" fill="#b89ae8"/>
<circle cx="669.4" cy="577.3" r="0.6" fill="#c8c0e8"/>
<circle cx="675.7" cy="577.3" r="0.6" fill="#c8c0e8"/>
<circle cx="682.0" cy="577.3" r="0.6" fill="#c8c0e8"/>
<circle cx="688.2" cy="577.3" r="0.6" fill="#c8c0e8"/>
<circle cx="694.5" cy="577.3" r="1.25" fill="#b89ae8"/>
<circle cx="700.8" cy="577.3" r="0.6" fill="#c8c0e8"/>
<line x1="525.2" x2="527.7" y1="612.6" y2="612.6" stroke="#555" stroke-width="0.7"/>
<text x="516.70" y="616.30" font-size="10.3" text-anchor="middle" fill="#333">1</text>
<circle cx="531.5" cy="612.6" r="1.8" fill="#b89ae8"/>
<circle cx="537.8" cy="612.6" r="0.6" fill="#c8c0e8"/>
<circle cx="544.0" cy="612.6" r="1.25" fill="#b89ae8"/>
<circle cx="550.3" cy="612.6" r="0.6" fill="#c8c0e8"/>
<circle cx="556.6" cy="612.6" r="1.8" fill="#b89ae8"/>
<circle cx="562.9" cy="612.6" r="2.9" fill="#1a10f0"/>
<circle cx="569.1" cy="612.6" r="1.25" fill="#1a10f0"/>
<circle cx="575.4" cy="612.6" r="1.25" fill="#1a10f0"/>
<circle cx="581.7" cy="612.6" r="1.25" fill="#b89ae8"/>
<circle cx="587.9" cy="612.6" r="0.6" fill="#c8c0e8"/>
<circle cx="594.2" cy="612.6" r="0.6" fill="#c8c0e8"/>
<circle cx="600.5" cy="612.6" r="0.6" fill="#c8c0e8"/>
<circle cx="606.7" cy="612.6" r="1.25" fill="#b89ae8"/>
<circle cx="613.0" cy="612.6" r="0.6" fill="#c8c0e8"/>
<circle cx="619.3" cy="612.6" r="2.45" fill="#b89ae8"/>
<circle cx="625.5" cy="612.6" r="0.6" fill="#c8c0e8"/>
<circle cx="631.8" cy="612.6" r="1.25" fill="#b89ae8"/>
<circle cx="638.1" cy="612.6" r="0.6" fill="#c8c0e8"/>
<circle cx="644.4" cy="612.6" r="1.25" fill="#b89ae8"/>
<circle cx="650.6" cy="612.6" r="1.25" fill="#b89ae8"/>
<circle cx="656.9" cy="612.6" r="0.6" fill="#c8c0e8"/>
<circle cx="663.2" cy="612.6" r="1.25" fill="#b89ae8"/>
<circle cx="669.4" cy="612.6" r="0.6" fill="#c8c0e8"/>
<circle cx="675.7" cy="612.6" r="0.6" fill="#c8c0e8"/>
<circle cx="682.0" cy="612.6" r="0.6" fill="#c8c0e8"/>
<circle cx="688.2" cy="612.6" r="0.6" fill="#c8c0e8"/>
<circle cx="694.5" cy="612.6" r="1.25" fill="#b89ae8"/>
<circle cx="700.8" cy="612.6" r="0.6" fill="#c8c0e8"/>
<line x1="525.2" x2="527.7" y1="648.2" y2="648.2" stroke="#555" stroke-width="0.7"/>
<text x="516.70" y="651.90" font-size="10.3" text-anchor="middle" fill="#333">0</text>
<circle cx="531.5" cy="648.2" r="2.9" fill="#1a10f0"/>
<circle cx="537.8" cy="648.2" r="1.25" fill="#1a10f0"/>
<circle cx="544.0" cy="648.2" r="2.45" fill="#1a10f0"/>
<circle cx="550.3" cy="648.2" r="1.25" fill="#1a10f0"/>
<circle cx="556.6" cy="648.2" r="2.9" fill="#9a68e8"/>
<circle cx="562.9" cy="648.2" r="1.8" fill="#b89ae8"/>
<circle cx="569.1" cy="648.2" r="0.6" fill="#c8c0e8"/>
<circle cx="575.4" cy="648.2" r="0.6" fill="#c8c0e8"/>
<circle cx="581.7" cy="648.2" r="1.25" fill="#b89ae8"/>
<circle cx="587.9" cy="648.2" r="0.6" fill="#c8c0e8"/>
<circle cx="594.2" cy="648.2" r="1.25" fill="#b89ae8"/>
<circle cx="600.5" cy="648.2" r="1.25" fill="#b89ae8"/>
<circle cx="606.7" cy="648.2" r="1.25" fill="#b89ae8"/>
<circle cx="613.0" cy="648.2" r="1.25" fill="#b89ae8"/>
<circle cx="619.3" cy="648.2" r="1.8" fill="#b89ae8"/>
<circle cx="625.5" cy="648.2" r="0.6" fill="#c8c0e8"/>
<circle cx="631.8" cy="648.2" r="1.25" fill="#b89ae8"/>
<circle cx="638.1" cy="648.2" r="0.6" fill="#c8c0e8"/>
<circle cx="644.4" cy="648.2" r="0.6" fill="#c8c0e8"/>
<circle cx="650.6" cy="648.2" r="1.25" fill="#b89ae8"/>
<circle cx="656.9" cy="648.2" r="0.6" fill="#c8c0e8"/>
<circle cx="663.2" cy="648.2" r="0.6" fill="#c8c0e8"/>
<circle cx="669.4" cy="648.2" r="0.6" fill="#c8c0e8"/>
<circle cx="675.7" cy="648.2" r="0.6" fill="#c8c0e8"/>
<circle cx="682.0" cy="648.2" r="0.6" fill="#c8c0e8"/>
<circle cx="688.2" cy="648.2" r="0.6" fill="#c8c0e8"/>
<circle cx="694.5" cy="648.2" r="1.25" fill="#b89ae8"/>
<circle cx="700.8" cy="648.2" r="0.6" fill="#c8c0e8"/>
<text x="504" y="560" font-size="11.2" text-anchor="middle" fill="#222" transform="rotate(-90 504 560)">Cluster</text>
<line x1="531.5" x2="531.5" y1="668.8" y2="671.3" stroke="#555" stroke-width="0.7"/>
<text x="534.10" y="673.30" font-size="7.6" text-anchor="end" font-style="italic" transform="rotate(-90 534.10 673.30)">SMAD6</text>
<line x1="537.8" x2="537.8" y1="668.8" y2="671.3" stroke="#555" stroke-width="0.7"/>
<text x="540.37" y="673.30" font-size="7.6" text-anchor="end" font-style="italic" transform="rotate(-90 540.37 673.30)">ARHGAP28</text>
<line x1="544.0" x2="544.0" y1="668.8" y2="671.3" stroke="#555" stroke-width="0.7"/>
<text x="546.64" y="673.30" font-size="7.6" text-anchor="end" font-style="italic" transform="rotate(-90 546.64 673.30)">NCKAP5</text>
<line x1="550.3" x2="550.3" y1="668.8" y2="671.3" stroke="#555" stroke-width="0.7"/>
<text x="552.91" y="673.30" font-size="7.6" text-anchor="end" font-style="italic" transform="rotate(-90 552.91 673.30)">FILIP1</text>
<line x1="556.6" x2="556.6" y1="668.8" y2="671.3" stroke="#555" stroke-width="0.7"/>
<text x="559.18" y="673.30" font-size="7.6" text-anchor="end" font-style="italic" transform="rotate(-90 559.18 673.30)">NTN4</text>
<line x1="562.9" x2="562.9" y1="668.8" y2="671.3" stroke="#555" stroke-width="0.7"/>
<text x="565.45" y="673.30" font-size="7.6" text-anchor="end" font-style="italic" transform="rotate(-90 565.45 673.30)">SNTB1</text>
<line x1="569.1" x2="569.1" y1="668.8" y2="671.3" stroke="#555" stroke-width="0.7"/>
<text x="571.72" y="673.30" font-size="7.6" text-anchor="end" font-style="italic" transform="rotate(-90 571.72 673.30)">NETO2</text>
<line x1="575.4" x2="575.4" y1="668.8" y2="671.3" stroke="#555" stroke-width="0.7"/>
<text x="577.99" y="673.30" font-size="7.6" text-anchor="end" font-style="italic" transform="rotate(-90 577.99 673.30)">SLIT3</text>
<line x1="581.7" x2="581.7" y1="668.8" y2="671.3" stroke="#555" stroke-width="0.7"/>
<text x="584.26" y="673.30" font-size="7.6" text-anchor="end" font-style="italic" transform="rotate(-90 584.26 673.30)">ATP13A3</text>
<line x1="587.9" x2="587.9" y1="668.8" y2="671.3" stroke="#555" stroke-width="0.7"/>
<text x="590.53" y="673.30" font-size="7.6" text-anchor="end" font-style="italic" transform="rotate(-90 590.53 673.30)">AFF3</text>
<line x1="594.2" x2="594.2" y1="668.8" y2="671.3" stroke="#555" stroke-width="0.7"/>
<text x="596.80" y="673.30" font-size="7.6" text-anchor="end" font-style="italic" transform="rotate(-90 596.80 673.30)">KLF2</text>
<line x1="600.5" x2="600.5" y1="668.8" y2="671.3" stroke="#555" stroke-width="0.7"/>
<text x="603.07" y="673.30" font-size="7.6" text-anchor="end" font-style="italic" transform="rotate(-90 603.07 673.30)">SLC8A6</text>
<line x1="606.7" x2="606.7" y1="668.8" y2="671.3" stroke="#555" stroke-width="0.7"/>
<text x="609.34" y="673.30" font-size="7.6" text-anchor="end" font-style="italic" transform="rotate(-90 609.34 673.30)">VEGFC</text>
<line x1="613.0" x2="613.0" y1="668.8" y2="671.3" stroke="#555" stroke-width="0.7"/>
<text x="615.61" y="673.30" font-size="7.6" text-anchor="end" font-style="italic" transform="rotate(-90 615.61 673.30)">PKHD1L1</text>
<line x1="619.3" x2="619.3" y1="668.8" y2="671.3" stroke="#555" stroke-width="0.7"/>
<text x="621.88" y="673.30" font-size="7.6" text-anchor="end" font-style="italic" transform="rotate(-90 621.88 673.30)">FKBP5</text>
<line x1="625.5" x2="625.5" y1="668.8" y2="671.3" stroke="#555" stroke-width="0.7"/>
<text x="628.15" y="673.30" font-size="7.6" text-anchor="end" font-style="italic" transform="rotate(-90 628.15 673.30)">ABLIM2</text>
<line x1="631.8" x2="631.8" y1="668.8" y2="671.3" stroke="#555" stroke-width="0.7"/>
<text x="634.42" y="673.30" font-size="7.6" text-anchor="end" font-style="italic" transform="rotate(-90 634.42 673.30)">BCAR3</text>
<line x1="638.1" x2="638.1" y1="668.8" y2="671.3" stroke="#555" stroke-width="0.7"/>
<text x="640.69" y="673.30" font-size="7.6" text-anchor="end" font-style="italic" transform="rotate(-90 640.69 673.30)">NOS2</text>
<line x1="644.4" x2="644.4" y1="668.8" y2="671.3" stroke="#555" stroke-width="0.7"/>
<text x="646.96" y="673.30" font-size="7.6" text-anchor="end" font-style="italic" transform="rotate(-90 646.96 673.30)">HNRNPK</text>
<line x1="650.6" x2="650.6" y1="668.8" y2="671.3" stroke="#555" stroke-width="0.7"/>
<text x="653.23" y="673.30" font-size="7.6" text-anchor="end" font-style="italic" transform="rotate(-90 653.23 673.30)">SLF2</text>
<line x1="656.9" x2="656.9" y1="668.8" y2="671.3" stroke="#555" stroke-width="0.7"/>
<text x="659.50" y="673.30" font-size="7.6" text-anchor="end" font-style="italic" transform="rotate(-90 659.50 673.30)">TMEM219</text>
<line x1="663.2" x2="663.2" y1="668.8" y2="671.3" stroke="#555" stroke-width="0.7"/>
<text x="665.77" y="673.30" font-size="7.6" text-anchor="end" font-style="italic" transform="rotate(-90 665.77 673.30)">AP2A2</text>
<line x1="669.4" x2="669.4" y1="668.8" y2="671.3" stroke="#555" stroke-width="0.7"/>
<text x="672.04" y="673.30" font-size="7.6" text-anchor="end" font-style="italic" transform="rotate(-90 672.04 673.30)">AC090518.1</text>
<line x1="675.7" x2="675.7" y1="668.8" y2="671.3" stroke="#555" stroke-width="0.7"/>
<text x="678.31" y="673.30" font-size="7.6" text-anchor="end" font-style="italic" transform="rotate(-90 678.31 673.30)">NAV3</text>
<line x1="682.0" x2="682.0" y1="668.8" y2="671.3" stroke="#555" stroke-width="0.7"/>
<text x="684.58" y="673.30" font-size="7.6" text-anchor="end" font-style="italic" transform="rotate(-90 684.58 673.30)">FLRT2</text>
<line x1="688.2" x2="688.2" y1="668.8" y2="671.3" stroke="#555" stroke-width="0.7"/>
<text x="690.85" y="673.30" font-size="7.6" text-anchor="end" font-style="italic" transform="rotate(-90 690.85 673.30)">ASIC2</text>
<line x1="694.5" x2="694.5" y1="668.8" y2="671.3" stroke="#555" stroke-width="0.7"/>
<text x="697.12" y="673.30" font-size="7.6" text-anchor="end" font-style="italic" transform="rotate(-90 697.12 673.30)">HSPG2</text>
<line x1="700.8" x2="700.8" y1="668.8" y2="671.3" stroke="#555" stroke-width="0.7"/>
<text x="703.39" y="673.30" font-size="7.6" text-anchor="end" font-style="italic" transform="rotate(-90 703.39 673.30)">RETREG1</text>
<text x="563.00" y="731.00" font-size="11.2" text-anchor="middle">Average</text>
<text x="563.00" y="744.00" font-size="11.2" text-anchor="middle">expression</text>
<text x="542.30" y="757.00" font-size="9.2" text-anchor="middle">2</text>
<text x="555.00" y="757.00" font-size="9.2" text-anchor="middle">1</text>
<text x="567.60" y="757.00" font-size="9.2" text-anchor="middle">0</text>
<text x="580.50" y="757.00" font-size="9.2" text-anchor="middle">−1</text>
<defs><linearGradient id="gAvg" x1="0" x2="1" y1="0" y2="0"><stop offset="0" stop-color="#2a00f5"/><stop offset="0.5" stop-color="#9a80ea"/><stop offset="1" stop-color="#dcdce4"/></linearGradient></defs>
<rect x="541" y="761" width="43" height="8.8" fill="url(#gAvg)"/>
<line x1="551.7" x2="551.7" y1="761" y2="769.8" stroke="#fff" stroke-width="0.5" opacity="0.8"/>
<line x1="562.5" x2="562.5" y1="761" y2="769.8" stroke="#fff" stroke-width="0.5" opacity="0.8"/>
<line x1="573.2" x2="573.2" y1="761" y2="769.8" stroke="#fff" stroke-width="0.5" opacity="0.8"/>
<text x="669.70" y="731.00" font-size="11.2" text-anchor="middle">Percent</text>
<text x="669.70" y="744.00" font-size="11.2" text-anchor="middle">expressed</text>
<text x="647.00" y="757.50" font-size="8.2" text-anchor="middle">0</text>
<circle cx="647" cy="765.7" r="0.35" fill="#000"/>
<text x="657.60" y="757.50" font-size="8.2" text-anchor="middle">25</text>
<circle cx="657.6" cy="765.7" r="1.2" fill="#000"/>
<text x="668.00" y="757.50" font-size="8.2" text-anchor="middle">50</text>
<circle cx="668" cy="765.7" r="2.0" fill="#000"/>
<text x="678.60" y="757.50" font-size="8.2" text-anchor="middle">75</text>
<circle cx="678.6" cy="765.7" r="2.9" fill="#000"/>
<text x="689.60" y="757.50" font-size="8.2" text-anchor="middle">100</text>
<circle cx="689.6" cy="765.7" r="3.8" fill="#000"/>
<text x="0.00" y="612.90" font-size="15.2" fill="#000" font-weight="bold" stroke="#000" stroke-width="0.35">g</text>
<rect x="153.9" y="622.4" width="24.1" height="21.4" fill="#fc0000"/>
<line x1="57.1" x2="59.4" y1="633.1" y2="633.1" stroke="#444" stroke-width="0.7"/>
<text x="49.00" y="636.80" font-size="10.3" text-anchor="middle" fill="#333">0</text>
<rect x="149.0" y="646.1" width="4.9" height="21.4" fill="#0000f8"/>
<line x1="57.1" x2="59.4" y1="656.8" y2="656.8" stroke="#444" stroke-width="0.7"/>
<text x="49.00" y="660.50" font-size="10.3" text-anchor="middle" fill="#333">2</text>
<rect x="106.4" y="669.8" width="47.5" height="21.4" fill="#0000f8"/>
<line x1="57.1" x2="59.4" y1="680.5" y2="680.5" stroke="#444" stroke-width="0.7"/>
<text x="49.00" y="684.20" font-size="10.3" text-anchor="middle" fill="#333">4</text>
<rect x="100.5" y="693.6" width="53.4" height="21.4" fill="#0000f8"/>
<line x1="57.1" x2="59.4" y1="704.3" y2="704.3" stroke="#444" stroke-width="0.7"/>
<text x="49.00" y="708.00" font-size="10.3" text-anchor="middle" fill="#333">1</text>
<rect x="64.7" y="717.4" width="89.2" height="21.4" fill="#0000f8"/>
<line x1="57.1" x2="59.4" y1="728.1" y2="728.1" stroke="#444" stroke-width="0.7"/>
<text x="49.00" y="731.80" font-size="10.3" text-anchor="middle" fill="#333">3</text>
<rect x="59.4" y="618.7" width="123.19999999999999" height="123.19999999999993" fill="none" stroke="#555" stroke-width="0.8"/>
<line x1="60.3" x2="60.3" y1="741.9" y2="744.1999999999999" stroke="#444" stroke-width="0.7"/>
<text x="60.30" y="757.20" font-size="10.3" text-anchor="middle" fill="#333">−4</text>
<line x1="83.7" x2="83.7" y1="741.9" y2="744.1999999999999" stroke="#444" stroke-width="0.7"/>
<text x="83.70" y="757.20" font-size="10.3" text-anchor="middle" fill="#333">−3</text>
<line x1="107.1" x2="107.1" y1="741.9" y2="744.1999999999999" stroke="#444" stroke-width="0.7"/>
<text x="107.10" y="757.20" font-size="10.3" text-anchor="middle" fill="#333">−2</text>
<line x1="130.5" x2="130.5" y1="741.9" y2="744.1999999999999" stroke="#444" stroke-width="0.7"/>
<text x="130.50" y="757.20" font-size="10.3" text-anchor="middle" fill="#333">−1</text>
<line x1="153.9" x2="153.9" y1="741.9" y2="744.1999999999999" stroke="#444" stroke-width="0.7"/>
<text x="153.90" y="757.20" font-size="10.3" text-anchor="middle" fill="#333">0</text>
<line x1="177.3" x2="177.3" y1="741.9" y2="744.1999999999999" stroke="#444" stroke-width="0.7"/>
<text x="177.30" y="757.20" font-size="10.3" text-anchor="middle" fill="#333">1</text>
<text x="95.50" y="636.30" font-size="11.5" fill="#f01010">Cluster 0</text>
<text x="120.70" y="771.30" font-size="11.2" text-anchor="middle" textLength="111.00" lengthAdjust="spacingAndGlyphs">Metabolic impairment</text>
<text x="120.70" y="783.40" font-size="11.2" text-anchor="middle" textLength="89.10" lengthAdjust="spacingAndGlyphs">enrichment score</text>
<text x="38.0" y="680.5" font-size="11.2" text-anchor="middle" fill="#222" transform="rotate(-90 38.0 680.5)">Cluster</text>
<text x="257.50" y="612.90" font-size="15.2" fill="#000" font-weight="bold" stroke="#000" stroke-width="0.35">h</text>
<rect x="372.6" y="622.4" width="34.0" height="21.4" fill="#fc0000"/>
<line x1="285.2" x2="287.5" y1="633.1" y2="633.1" stroke="#444" stroke-width="0.7"/>
<text x="278.00" y="636.80" font-size="10.3" text-anchor="middle" fill="#333">3</text>
<rect x="372.6" y="646.1" width="3.8" height="21.4" fill="#fc0000"/>
<line x1="285.2" x2="287.5" y1="656.8" y2="656.8" stroke="#444" stroke-width="0.7"/>
<text x="278.00" y="660.50" font-size="10.3" text-anchor="middle" fill="#333">1</text>
<rect x="366.2" y="669.8" width="6.4" height="21.4" fill="#0000f8"/>
<line x1="285.2" x2="287.5" y1="680.5" y2="680.5" stroke="#444" stroke-width="0.7"/>
<text x="278.00" y="684.20" font-size="10.3" text-anchor="middle" fill="#333">2</text>
<rect x="361.1" y="693.6" width="11.5" height="21.4" fill="#0000f8"/>
<line x1="285.2" x2="287.5" y1="704.3" y2="704.3" stroke="#444" stroke-width="0.7"/>
<text x="278.00" y="708.00" font-size="10.3" text-anchor="middle" fill="#333">0</text>
<rect x="293.8" y="717.4" width="78.8" height="21.4" fill="#0000f8"/>
<line x1="285.2" x2="287.5" y1="728.1" y2="728.1" stroke="#444" stroke-width="0.7"/>
<text x="278.00" y="731.80" font-size="10.3" text-anchor="middle" fill="#333">4</text>
<rect x="287.5" y="618.7" width="124.89999999999998" height="123.19999999999993" fill="none" stroke="#555" stroke-width="0.8"/>
<line x1="292.2" x2="292.2" y1="741.9" y2="744.1999999999999" stroke="#444" stroke-width="0.7"/>
<text x="292.20" y="757.20" font-size="10.3" text-anchor="middle" fill="#333">−3</text>
<line x1="319.0" x2="319.0" y1="741.9" y2="744.1999999999999" stroke="#444" stroke-width="0.7"/>
<text x="319.00" y="757.20" font-size="10.3" text-anchor="middle" fill="#333">−2</text>
<line x1="345.8" x2="345.8" y1="741.9" y2="744.1999999999999" stroke="#444" stroke-width="0.7"/>
<text x="345.80" y="757.20" font-size="10.3" text-anchor="middle" fill="#333">−1</text>
<line x1="372.6" x2="372.6" y1="741.9" y2="744.1999999999999" stroke="#444" stroke-width="0.7"/>
<text x="372.60" y="757.20" font-size="10.3" text-anchor="middle" fill="#333">0</text>
<line x1="399.4" x2="399.4" y1="741.9" y2="744.1999999999999" stroke="#444" stroke-width="0.7"/>
<text x="399.40" y="757.20" font-size="10.3" text-anchor="middle" fill="#333">1</text>
<text x="319.00" y="636.30" font-size="11.5" fill="#f01010">Cluster 3</text>
<text x="349.80" y="771.30" font-size="11.2" text-anchor="middle" textLength="101.80" lengthAdjust="spacingAndGlyphs">Immune impairment</text>
<text x="349.80" y="783.40" font-size="11.2" text-anchor="middle" textLength="88.60" lengthAdjust="spacingAndGlyphs">enrichment score</text>
<text x="266.5" y="680.5" font-size="11.2" text-anchor="middle" fill="#222" transform="rotate(-90 266.5 680.5)">Cluster</text>
<text x="3.60" y="792.60" font-size="15.2" fill="#000" font-weight="bold" stroke="#000" stroke-width="0.35">i</text>
<rect x="171.2" y="797.3" width="7.8" height="118.82" fill="#d9d9d9"/>
<text x="172.4" y="856.7" font-size="7.6" text-anchor="middle" fill="#333" transform="rotate(90 172.4 856.7)">Activator</text>
<text x="92.10" y="804.47" font-size="7.4" text-anchor="end" fill="#2a2a2a">ZNF704_+_(55r)</text>
<line x1="95.6" x2="98.2" y1="801.87" y2="801.87" stroke="#555" stroke-width="0.6"/>
<rect x="99.10" y="797.30" width="12.80" height="9.94" fill="#f36b42"/>
<circle cx="105.10" cy="801.87" r="2.75" fill="#000"/>
<rect x="111.10" y="797.30" width="12.80" height="9.94" fill="#daf0f6"/>
<circle cx="117.10" cy="801.87" r="2.75" fill="#000"/>
<rect x="123.10" y="797.30" width="12.80" height="9.94" fill="#daf0f6"/>
<circle cx="129.10" cy="801.87" r="1.65" fill="#000"/>
<rect x="135.10" y="797.30" width="12.80" height="9.94" fill="#fffab7"/>
<circle cx="141.10" cy="801.87" r="2.15" fill="#000"/>
<rect x="147.10" y="797.30" width="12.80" height="9.94" fill="#5082bb"/>
<circle cx="153.10" cy="801.87" r="1.95" fill="#000"/>
<rect x="159.10" y="797.30" width="12.00" height="9.94" fill="#d73027"/>
<circle cx="165.10" cy="801.87" r="0.9" fill="#000"/>
<text x="92.10" y="813.61" font-size="7.4" text-anchor="end" fill="#2a2a2a">TCF7L2_extended_+_(2r)</text>
<line x1="95.6" x2="98.2" y1="811.01" y2="811.01" stroke="#555" stroke-width="0.6"/>
<rect x="99.10" y="806.44" width="12.80" height="9.94" fill="#e1f3f6"/>
<circle cx="105.10" cy="811.01" r="2.75" fill="#000"/>
<rect x="111.10" y="806.44" width="12.80" height="9.94" fill="#afdbea"/>
<circle cx="117.10" cy="811.01" r="2.15" fill="#000"/>
<rect x="123.10" y="806.44" width="12.80" height="9.94" fill="#d1ecf4"/>
<circle cx="129.10" cy="811.01" r="2.15" fill="#000"/>
<rect x="135.10" y="806.44" width="12.80" height="9.94" fill="#5082bb"/>
<circle cx="141.10" cy="811.01" r="2.15" fill="#000"/>
<rect x="147.10" y="806.44" width="12.80" height="9.94" fill="#95c7df"/>
<circle cx="153.10" cy="811.01" r="1.65" fill="#000"/>
<rect x="159.10" y="806.44" width="12.00" height="9.94" fill="#d73027"/>
<circle cx="165.10" cy="811.01" r="0.9" fill="#000"/>
<text x="92.10" y="822.75" font-size="7.4" text-anchor="end" fill="#2a2a2a">SNAPC4_extended_+_(4r)</text>
<line x1="95.6" x2="98.2" y1="820.15" y2="820.15" stroke="#555" stroke-width="0.6"/>
<rect x="99.10" y="815.58" width="12.80" height="9.94" fill="#b3ddeb"/>
<circle cx="105.10" cy="820.15" r="2.75" fill="#000"/>
<rect x="111.10" y="815.58" width="12.80" height="9.94" fill="#76afd2"/>
<circle cx="117.10" cy="820.15" r="2.15" fill="#000"/>
<rect x="123.10" y="815.58" width="12.80" height="9.94" fill="#e6f5ed"/>
<circle cx="129.10" cy="820.15" r="2.15" fill="#000"/>
<rect x="135.10" y="815.58" width="12.80" height="9.94" fill="#fff8b4"/>
<circle cx="141.10" cy="820.15" r="2.4" fill="#000"/>
<rect x="147.10" y="815.58" width="12.80" height="9.94" fill="#5082bb"/>
<circle cx="153.10" cy="820.15" r="1.95" fill="#000"/>
<rect x="159.10" y="815.58" width="12.00" height="9.94" fill="#d73027"/>
<circle cx="165.10" cy="820.15" r="0.9" fill="#000"/>
<text x="92.10" y="831.89" font-size="7.4" text-anchor="end" fill="#2a2a2a">AHR_+_(32r)</text>
<line x1="95.6" x2="98.2" y1="829.29" y2="829.29" stroke="#555" stroke-width="0.6"/>
<rect x="99.10" y="824.72" width="12.80" height="9.94" fill="#def2f7"/>
<circle cx="105.10" cy="829.29" r="2.75" fill="#000"/>
<rect x="111.10" y="824.72" width="12.80" height="9.94" fill="#7bb2d4"/>
<circle cx="117.10" cy="829.29" r="1.65" fill="#000"/>
<rect x="123.10" y="824.72" width="12.80" height="9.94" fill="#c0e3ef"/>
<circle cx="129.10" cy="829.29" r="1.65" fill="#000"/>
<rect x="135.10" y="824.72" width="12.80" height="9.94" fill="#e6f5ed"/>
<circle cx="141.10" cy="829.29" r="0.9" fill="#000"/>
<rect x="147.10" y="824.72" width="12.80" height="9.94" fill="#5487bd"/>
<circle cx="153.10" cy="829.29" r="1.65" fill="#000"/>
<rect x="159.10" y="824.72" width="12.00" height="9.94" fill="#d73027"/>
<circle cx="165.10" cy="829.29" r="1.65" fill="#000"/>
<text x="92.10" y="841.03" font-size="7.4" text-anchor="end" fill="#2a2a2a">ZGPAT_+_(28r)</text>
<line x1="95.6" x2="98.2" y1="838.43" y2="838.43" stroke="#555" stroke-width="0.6"/>
<rect x="99.10" y="833.86" width="12.80" height="9.94" fill="#6399c7"/>
<circle cx="105.10" cy="838.43" r="2.15" fill="#000"/>
<rect x="111.10" y="833.86" width="12.80" height="9.94" fill="#5c90c2"/>
<circle cx="117.10" cy="838.43" r="2.75" fill="#000"/>
<rect x="123.10" y="833.86" width="12.80" height="9.94" fill="#7fb6d6"/>
<circle cx="129.10" cy="838.43" r="0.9" fill="#000"/>
<rect x="135.10" y="833.86" width="12.80" height="9.94" fill="#fffab7"/>
<circle cx="141.10" cy="838.43" r="1.85" fill="#000"/>
<rect x="147.10" y="833.86" width="12.80" height="9.94" fill="#d73027"/>
<circle cx="153.10" cy="838.43" r="2.75" fill="#000"/>
<rect x="159.10" y="833.86" width="12.00" height="9.94" fill="#ffffbf"/>
<circle cx="165.10" cy="838.43" r="2.4" fill="#000"/>
<text x="92.10" y="850.17" font-size="7.4" text-anchor="end" fill="#2a2a2a">RARB_+_(121r)</text>
<line x1="95.6" x2="98.2" y1="847.57" y2="847.57" stroke="#555" stroke-width="0.6"/>
<rect x="99.10" y="843.00" width="12.80" height="9.94" fill="#e6f5ed"/>
<circle cx="105.10" cy="847.57" r="0.9" fill="#000"/>
<rect x="111.10" y="843.00" width="12.80" height="9.94" fill="#f8fccd"/>
<circle cx="117.10" cy="847.57" r="2.15" fill="#000"/>
<rect x="123.10" y="843.00" width="12.80" height="9.94" fill="#ebf7e3"/>
<circle cx="129.10" cy="847.57" r="2.75" fill="#000"/>
<rect x="135.10" y="843.00" width="12.80" height="9.94" fill="#d73027"/>
<circle cx="141.10" cy="847.57" r="2.75" fill="#000"/>
<rect x="147.10" y="843.00" width="12.80" height="9.94" fill="#5082bb"/>
<circle cx="153.10" cy="847.57" r="1.65" fill="#000"/>
<rect x="159.10" y="843.00" width="12.00" height="9.94" fill="#ebf7e3"/>
<circle cx="165.10" cy="847.57" r="2.15" fill="#000"/>
<text x="92.10" y="859.31" font-size="7.4" text-anchor="end" fill="#2a2a2a">KLF9_+_(265r)</text>
<line x1="95.6" x2="98.2" y1="856.71" y2="856.71" stroke="#555" stroke-width="0.6"/>
<rect x="99.10" y="852.14" width="12.80" height="9.94" fill="#c0e3ef"/>
<circle cx="105.10" cy="856.71" r="0.9" fill="#000"/>
<rect x="111.10" y="852.14" width="12.80" height="9.94" fill="#f8fccd"/>
<circle cx="117.10" cy="856.71" r="2.15" fill="#000"/>
<rect x="123.10" y="852.14" width="12.80" height="9.94" fill="#def2f7"/>
<circle cx="129.10" cy="856.71" r="2.75" fill="#000"/>
<rect x="135.10" y="852.14" width="12.80" height="9.94" fill="#d73027"/>
<circle cx="141.10" cy="856.71" r="2.75" fill="#000"/>
<rect x="147.10" y="852.14" width="12.80" height="9.94" fill="#5082bb"/>
<circle cx="153.10" cy="856.71" r="1.65" fill="#000"/>
<rect x="159.10" y="852.14" width="12.00" height="9.94" fill="#6399c7"/>
<circle cx="165.10" cy="856.71" r="2.15" fill="#000"/>
<text x="92.10" y="868.45" font-size="7.4" text-anchor="end" fill="#2a2a2a">CREB5_+_(17r)</text>
<line x1="95.6" x2="98.2" y1="865.85" y2="865.85" stroke="#555" stroke-width="0.6"/>
<rect x="99.10" y="861.28" width="12.80" height="9.94" fill="#b8dfed"/>
<circle cx="105.10" cy="865.85" r="2.75" fill="#000"/>
<rect x="111.10" y="861.28" width="12.80" height="9.94" fill="#f8fccd"/>
<circle cx="117.10" cy="865.85" r="1.65" fill="#000"/>
<rect x="123.10" y="861.28" width="12.80" height="9.94" fill="#f99455"/>
<circle cx="129.10" cy="865.85" r="2.15" fill="#000"/>
<rect x="135.10" y="861.28" width="12.80" height="9.94" fill="#d73027"/>
<circle cx="141.10" cy="865.85" r="2.15" fill="#000"/>
<rect x="147.10" y="861.28" width="12.80" height="9.94" fill="#5082bb"/>
<circle cx="153.10" cy="865.85" r="0.9" fill="#000"/>
<rect x="159.10" y="861.28" width="12.00" height="9.94" fill="#abd9e9"/>
<circle cx="165.10" cy="865.85" r="1.65" fill="#000"/>
<text x="92.10" y="877.59" font-size="7.4" text-anchor="end" fill="#2a2a2a">SREBF2_+_(5r)</text>
<line x1="95.6" x2="98.2" y1="874.99" y2="874.99" stroke="#555" stroke-width="0.6"/>
<rect x="99.10" y="870.42" width="12.80" height="9.94" fill="#e6f5ed"/>
<circle cx="105.10" cy="874.99" r="2.15" fill="#000"/>
<rect x="111.10" y="870.42" width="12.80" height="9.94" fill="#fffab7"/>
<circle cx="117.10" cy="874.99" r="2.15" fill="#000"/>
<rect x="123.10" y="870.42" width="12.80" height="9.94" fill="#d73027"/>
<circle cx="129.10" cy="874.99" r="2.75" fill="#000"/>
<rect x="135.10" y="870.42" width="12.80" height="9.94" fill="#ee613d"/>
<circle cx="141.10" cy="874.99" r="2.4" fill="#000"/>
<rect x="147.10" y="870.42" width="12.80" height="9.94" fill="#f8fccd"/>
<circle cx="153.10" cy="874.99" r="0.9" fill="#000"/>
<rect x="159.10" y="870.42" width="12.00" height="9.94" fill="#5487bd"/>
<circle cx="165.10" cy="874.99" r="1.65" fill="#000"/>
<text x="92.10" y="886.73" font-size="7.4" text-anchor="end" fill="#2a2a2a">SOX5_extended_+_(13r)</text>
<line x1="95.6" x2="98.2" y1="884.13" y2="884.13" stroke="#555" stroke-width="0.6"/>
<rect x="99.10" y="879.56" width="12.80" height="9.94" fill="#fdc274"/>
<circle cx="105.10" cy="884.13" r="0.9" fill="#000"/>
<rect x="111.10" y="879.56" width="12.80" height="9.94" fill="#fffab7"/>
<circle cx="117.10" cy="884.13" r="2.15" fill="#000"/>
<rect x="123.10" y="879.56" width="12.80" height="9.94" fill="#d73027"/>
<circle cx="129.10" cy="884.13" r="2.75" fill="#000"/>
<rect x="135.10" y="879.56" width="12.80" height="9.94" fill="#ffffbf"/>
<circle cx="141.10" cy="884.13" r="2.75" fill="#000"/>
<rect x="147.10" y="879.56" width="12.80" height="9.94" fill="#76afd2"/>
<circle cx="153.10" cy="884.13" r="2.15" fill="#000"/>
<rect x="159.10" y="879.56" width="12.00" height="9.94" fill="#5487bd"/>
<circle cx="165.10" cy="884.13" r="2.75" fill="#000"/>
<text x="92.10" y="895.87" font-size="7.4" text-anchor="end" fill="#2a2a2a">MEF2A_+_(7r)</text>
<line x1="95.6" x2="98.2" y1="893.27" y2="893.27" stroke="#555" stroke-width="0.6"/>
<rect x="99.10" y="888.70" width="12.80" height="9.94" fill="#fffab7"/>
<circle cx="105.10" cy="893.27" r="2.75" fill="#000"/>
<rect x="111.10" y="888.70" width="12.80" height="9.94" fill="#fffab7"/>
<circle cx="117.10" cy="893.27" r="2.15" fill="#000"/>
<rect x="123.10" y="888.70" width="12.80" height="9.94" fill="#d73027"/>
<circle cx="129.10" cy="893.27" r="2.75" fill="#000"/>
<rect x="135.10" y="888.70" width="12.80" height="9.94" fill="#d73027"/>
<circle cx="141.10" cy="893.27" r="2.75" fill="#000"/>
<rect x="147.10" y="888.70" width="12.80" height="9.94" fill="#5082bb"/>
<circle cx="153.10" cy="893.27" r="1.65" fill="#000"/>
<rect x="159.10" y="888.70" width="12.00" height="9.94" fill="#fff8b4"/>
<circle cx="165.10" cy="893.27" r="0.9" fill="#000"/>
<text x="92.10" y="905.01" font-size="7.4" text-anchor="end" fill="#2a2a2a">KLF12_+_(213r)</text>
<line x1="95.6" x2="98.2" y1="902.41" y2="902.41" stroke="#555" stroke-width="0.6"/>
<rect x="99.10" y="897.84" width="12.80" height="9.94" fill="#95c7df"/>
<circle cx="105.10" cy="902.41" r="0.9" fill="#000"/>
<rect x="111.10" y="897.84" width="12.80" height="9.94" fill="#5487bd"/>
<circle cx="117.10" cy="902.41" r="2.15" fill="#000"/>
<rect x="123.10" y="897.84" width="12.80" height="9.94" fill="#d73027"/>
<circle cx="129.10" cy="902.41" r="2.75" fill="#000"/>
<rect x="135.10" y="897.84" width="12.80" height="9.94" fill="#fffab7"/>
<circle cx="141.10" cy="902.41" r="2.75" fill="#000"/>
<rect x="147.10" y="897.84" width="12.80" height="9.94" fill="#5082bb"/>
<circle cx="153.10" cy="902.41" r="1.65" fill="#000"/>
<rect x="159.10" y="897.84" width="12.00" height="9.94" fill="#fffab7"/>
<circle cx="165.10" cy="902.41" r="2.15" fill="#000"/>
<text x="92.10" y="914.15" font-size="7.4" text-anchor="end" fill="#2a2a2a">PBX1_+_(9r)</text>
<line x1="95.6" x2="98.2" y1="911.55" y2="911.55" stroke="#555" stroke-width="0.6"/>
<rect x="99.10" y="906.98" width="12.80" height="9.14" fill="#d73027"/>
<circle cx="105.10" cy="911.55" r="2.75" fill="#000"/>
<rect x="111.10" y="906.98" width="12.80" height="9.14" fill="#fdba6c"/>
<circle cx="117.10" cy="911.55" r="2.15" fill="#000"/>
<rect x="123.10" y="906.98" width="12.80" height="9.14" fill="#fdc274"/>
<circle cx="129.10" cy="911.55" r="2.15" fill="#000"/>
<rect x="135.10" y="906.98" width="12.80" height="9.14" fill="#daf0f6"/>
<circle cx="141.10" cy="911.55" r="2.15" fill="#000"/>
<rect x="147.10" y="906.98" width="12.80" height="9.14" fill="#5082bb"/>
<circle cx="153.10" cy="911.55" r="1.65" fill="#000"/>
<rect x="159.10" y="906.98" width="12.00" height="9.14" fill="#6399c7"/>
<circle cx="165.10" cy="911.55" r="0.9" fill="#000"/>
<rect x="171.2" y="919.1" width="7.8" height="112.97" fill="#d9d9d9"/>
<text x="172.4" y="975.6" font-size="7.6" text-anchor="middle" fill="#333" transform="rotate(90 172.4 975.6)">Repressor</text>
<text x="92.10" y="926.84" font-size="7.4" text-anchor="end" fill="#2a2a2a">ZNF704_-_(17r)</text>
<line x1="95.6" x2="98.2" y1="924.24" y2="924.24" stroke="#555" stroke-width="0.6"/>
<rect x="99.10" y="919.10" width="12.80" height="11.07" fill="#f57547"/>
<circle cx="105.10" cy="924.24" r="0.9" fill="#000"/>
<rect x="111.10" y="919.10" width="12.80" height="11.07" fill="#cdeaf3"/>
<circle cx="117.10" cy="924.24" r="2.75" fill="#000"/>
<rect x="123.10" y="919.10" width="12.80" height="11.07" fill="#cdeaf3"/>
<circle cx="129.10" cy="924.24" r="2.4" fill="#000"/>
<rect x="135.10" y="919.10" width="12.80" height="11.07" fill="#fffab7"/>
<circle cx="141.10" cy="924.24" r="2.15" fill="#000"/>
<rect x="147.10" y="919.10" width="12.80" height="11.07" fill="#5082bb"/>
<circle cx="153.10" cy="924.24" r="2.75" fill="#000"/>
<rect x="159.10" y="919.10" width="12.00" height="11.07" fill="#d73027"/>
<circle cx="165.10" cy="924.24" r="2.75" fill="#000"/>
<text x="92.10" y="937.11" font-size="7.4" text-anchor="end" fill="#2a2a2a">AHR_-_(6r)</text>
<line x1="95.6" x2="98.2" y1="934.50" y2="934.50" stroke="#555" stroke-width="0.6"/>
<rect x="99.10" y="929.37" width="12.80" height="11.07" fill="#def2f7"/>
<circle cx="105.10" cy="934.50" r="2.75" fill="#000"/>
<rect x="111.10" y="929.37" width="12.80" height="11.07" fill="#95c7df"/>
<circle cx="117.10" cy="934.50" r="1.65" fill="#000"/>
<rect x="123.10" y="929.37" width="12.80" height="11.07" fill="#c9e8f1"/>
<circle cx="129.10" cy="934.50" r="1.85" fill="#000"/>
<rect x="135.10" y="929.37" width="12.80" height="11.07" fill="#e6f5ed"/>
<circle cx="141.10" cy="934.50" r="1.65" fill="#000"/>
<rect x="147.10" y="929.37" width="12.80" height="11.07" fill="#5487bd"/>
<circle cx="153.10" cy="934.50" r="1.85" fill="#000"/>
<rect x="159.10" y="929.37" width="12.00" height="11.07" fill="#d73027"/>
<circle cx="165.10" cy="934.50" r="0.9" fill="#000"/>
<text x="92.10" y="947.38" font-size="7.4" text-anchor="end" fill="#2a2a2a">ZGPAT_-_(38r)</text>
<line x1="95.6" x2="98.2" y1="944.77" y2="944.77" stroke="#555" stroke-width="0.6"/>
<rect x="99.10" y="939.64" width="12.80" height="11.07" fill="#6399c7"/>
<circle cx="105.10" cy="944.77" r="1.65" fill="#000"/>
<rect x="111.10" y="939.64" width="12.80" height="11.07" fill="#588bc0"/>
<circle cx="117.10" cy="944.77" r="2.15" fill="#000"/>
<rect x="123.10" y="939.64" width="12.80" height="11.07" fill="#6399c7"/>
<circle cx="129.10" cy="944.77" r="2.75" fill="#000"/>
<rect x="135.10" y="939.64" width="12.80" height="11.07" fill="#fffab7"/>
<circle cx="141.10" cy="944.77" r="2.75" fill="#000"/>
<rect x="147.10" y="939.64" width="12.80" height="11.07" fill="#d73027"/>
<circle cx="153.10" cy="944.77" r="0.9" fill="#000"/>
<rect x="159.10" y="939.64" width="12.00" height="11.07" fill="#ffffbf"/>
<circle cx="165.10" cy="944.77" r="2.15" fill="#000"/>
<text x="92.10" y="957.64" font-size="7.4" text-anchor="end" fill="#2a2a2a">RARB_-_(12r)</text>
<line x1="95.6" x2="98.2" y1="955.04" y2="955.04" stroke="#555" stroke-width="0.6"/>
<rect x="99.10" y="949.91" width="12.80" height="11.07" fill="#e6f5ed"/>
<circle cx="105.10" cy="955.04" r="0.9" fill="#000"/>
<rect x="111.10" y="949.91" width="12.80" height="11.07" fill="#f3fad6"/>
<circle cx="117.10" cy="955.04" r="2.75" fill="#000"/>
<rect x="123.10" y="949.91" width="12.80" height="11.07" fill="#f8fccd"/>
<circle cx="129.10" cy="955.04" r="2.4" fill="#000"/>
<rect x="135.10" y="949.91" width="12.80" height="11.07" fill="#d73027"/>
<circle cx="141.10" cy="955.04" r="2.75" fill="#000"/>
<rect x="147.10" y="949.91" width="12.80" height="11.07" fill="#5082bb"/>
<circle cx="153.10" cy="955.04" r="2.75" fill="#000"/>
<rect x="159.10" y="949.91" width="12.00" height="11.07" fill="#ebf7e3"/>
<circle cx="165.10" cy="955.04" r="2.15" fill="#000"/>
<text x="92.10" y="967.92" font-size="7.4" text-anchor="end" fill="#2a2a2a">KLF9_-_(33r)</text>
<line x1="95.6" x2="98.2" y1="965.32" y2="965.32" stroke="#555" stroke-width="0.6"/>
<rect x="99.10" y="960.18" width="12.80" height="11.07" fill="#b8dfed"/>
<circle cx="105.10" cy="965.32" r="0.9" fill="#000"/>
<rect x="111.10" y="960.18" width="12.80" height="11.07" fill="#f3fad6"/>
<circle cx="117.10" cy="965.32" r="2.75" fill="#000"/>
<rect x="123.10" y="960.18" width="12.80" height="11.07" fill="#daf0f6"/>
<circle cx="129.10" cy="965.32" r="2.15" fill="#000"/>
<rect x="135.10" y="960.18" width="12.80" height="11.07" fill="#d73027"/>
<circle cx="141.10" cy="965.32" r="2.75" fill="#000"/>
<rect x="147.10" y="960.18" width="12.80" height="11.07" fill="#5082bb"/>
<circle cx="153.10" cy="965.32" r="2.15" fill="#000"/>
<rect x="159.10" y="960.18" width="12.00" height="11.07" fill="#72abd0"/>
<circle cx="165.10" cy="965.32" r="2.4" fill="#000"/>
<text x="92.10" y="978.19" font-size="7.4" text-anchor="end" fill="#2a2a2a">CREB5_-_(4r)</text>
<line x1="95.6" x2="98.2" y1="975.59" y2="975.59" stroke="#555" stroke-width="0.6"/>
<rect x="99.10" y="970.45" width="12.80" height="11.07" fill="#afdbea"/>
<circle cx="105.10" cy="975.59" r="2.75" fill="#000"/>
<rect x="111.10" y="970.45" width="12.80" height="11.07" fill="#f5fbd1"/>
<circle cx="117.10" cy="975.59" r="1.65" fill="#000"/>
<rect x="123.10" y="970.45" width="12.80" height="11.07" fill="#f99455"/>
<circle cx="129.10" cy="975.59" r="1.65" fill="#000"/>
<rect x="135.10" y="970.45" width="12.80" height="11.07" fill="#d73027"/>
<circle cx="141.10" cy="975.59" r="0.9" fill="#000"/>
<rect x="147.10" y="970.45" width="12.80" height="11.07" fill="#5082bb"/>
<circle cx="153.10" cy="975.59" r="1.85" fill="#000"/>
<rect x="159.10" y="970.45" width="12.00" height="11.07" fill="#afdbea"/>
<circle cx="165.10" cy="975.59" r="1.65" fill="#000"/>
<text x="92.10" y="988.46" font-size="7.4" text-anchor="end" fill="#2a2a2a">SREBF2_-_(2r)</text>
<line x1="95.6" x2="98.2" y1="985.86" y2="985.86" stroke="#555" stroke-width="0.6"/>
<rect x="99.10" y="980.72" width="12.80" height="11.07" fill="#e6f5ed"/>
<circle cx="105.10" cy="985.86" r="2.75" fill="#000"/>
<rect x="111.10" y="980.72" width="12.80" height="11.07" fill="#fffab7"/>
<circle cx="117.10" cy="985.86" r="2.15" fill="#000"/>
<rect x="123.10" y="980.72" width="12.80" height="11.07" fill="#d73027"/>
<circle cx="129.10" cy="985.86" r="2.15" fill="#000"/>
<rect x="135.10" y="980.72" width="12.80" height="11.07" fill="#ee613d"/>
<circle cx="141.10" cy="985.86" r="2.15" fill="#000"/>
<rect x="147.10" y="980.72" width="12.80" height="11.07" fill="#f8fccd"/>
<circle cx="153.10" cy="985.86" r="2.15" fill="#000"/>
<rect x="159.10" y="980.72" width="12.00" height="11.07" fill="#5487bd"/>
<circle cx="165.10" cy="985.86" r="0.9" fill="#000"/>
<text x="92.10" y="998.73" font-size="7.4" text-anchor="end" fill="#2a2a2a">SOX5_extended_-_(4r)</text>
<line x1="95.6" x2="98.2" y1="996.12" y2="996.12" stroke="#555" stroke-width="0.6"/>
<rect x="99.10" y="990.99" width="12.80" height="11.07" fill="#fdc274"/>
<circle cx="105.10" cy="996.12" r="0.9" fill="#000"/>
<rect x="111.10" y="990.99" width="12.80" height="11.07" fill="#fffab7"/>
<circle cx="117.10" cy="996.12" r="1.65" fill="#000"/>
<rect x="123.10" y="990.99" width="12.80" height="11.07" fill="#d73027"/>
<circle cx="129.10" cy="996.12" r="2.75" fill="#000"/>
<rect x="135.10" y="990.99" width="12.80" height="11.07" fill="#ffffbf"/>
<circle cx="141.10" cy="996.12" r="2.75" fill="#000"/>
<rect x="147.10" y="990.99" width="12.80" height="11.07" fill="#76afd2"/>
<circle cx="153.10" cy="996.12" r="1.65" fill="#000"/>
<rect x="159.10" y="990.99" width="12.00" height="11.07" fill="#5487bd"/>
<circle cx="165.10" cy="996.12" r="2.75" fill="#000"/>
<text x="92.10" y="1009.00" font-size="7.4" text-anchor="end" fill="#2a2a2a">MEF2A_-_(1r)</text>
<line x1="95.6" x2="98.2" y1="1006.39" y2="1006.39" stroke="#555" stroke-width="0.6"/>
<rect x="99.10" y="1001.26" width="12.80" height="11.07" fill="#fffab7"/>
<circle cx="105.10" cy="1006.39" r="1.65" fill="#000"/>
<rect x="111.10" y="1001.26" width="12.80" height="11.07" fill="#fffab7"/>
<circle cx="117.10" cy="1006.39" r="2.15" fill="#000"/>
<rect x="123.10" y="1001.26" width="12.80" height="11.07" fill="#d73027"/>
<circle cx="129.10" cy="1006.39" r="2.75" fill="#000"/>
<rect x="135.10" y="1001.26" width="12.80" height="11.07" fill="#d73027"/>
<circle cx="141.10" cy="1006.39" r="2.75" fill="#000"/>
<rect x="147.10" y="1001.26" width="12.80" height="11.07" fill="#5082bb"/>
<circle cx="153.10" cy="1006.39" r="0.9" fill="#000"/>
<rect x="159.10" y="1001.26" width="12.00" height="11.07" fill="#fff8b4"/>
<circle cx="165.10" cy="1006.39" r="1.65" fill="#000"/>
<text x="92.10" y="1019.26" font-size="7.4" text-anchor="end" fill="#2a2a2a">KLF12_-_(50r)</text>
<line x1="95.6" x2="98.2" y1="1016.66" y2="1016.66" stroke="#555" stroke-width="0.6"/>
<rect x="99.10" y="1011.53" width="12.80" height="11.07" fill="#95c7df"/>
<circle cx="105.10" cy="1016.66" r="0.9" fill="#000"/>
<rect x="111.10" y="1011.53" width="12.80" height="11.07" fill="#5487bd"/>
<circle cx="117.10" cy="1016.66" r="2.75" fill="#000"/>
<rect x="123.10" y="1011.53" width="12.80" height="11.07" fill="#d73027"/>
<circle cx="129.10" cy="1016.66" r="2.75" fill="#000"/>
<rect x="135.10" y="1011.53" width="12.80" height="11.07" fill="#fffab7"/>
<circle cx="141.10" cy="1016.66" r="2.75" fill="#000"/>
<rect x="147.10" y="1011.53" width="12.80" height="11.07" fill="#5082bb"/>
<circle cx="153.10" cy="1016.66" r="2.15" fill="#000"/>
<rect x="159.10" y="1011.53" width="12.00" height="11.07" fill="#fffab7"/>
<circle cx="165.10" cy="1016.66" r="2.15" fill="#000"/>
<text x="92.10" y="1029.53" font-size="7.4" text-anchor="end" fill="#2a2a2a">PBX1_extended_-_(4r)</text>
<line x1="95.6" x2="98.2" y1="1026.93" y2="1026.93" stroke="#555" stroke-width="0.6"/>
<rect x="99.10" y="1021.80" width="12.80" height="10.27" fill="#d73027"/>
<circle cx="105.10" cy="1026.93" r="2.4" fill="#000"/>
<rect x="111.10" y="1021.80" width="12.80" height="10.27" fill="#fdba6c"/>
<circle cx="117.10" cy="1026.93" r="1.65" fill="#000"/>
<rect x="123.10" y="1021.80" width="12.80" height="10.27" fill="#fdba6c"/>
<circle cx="129.10" cy="1026.93" r="2.75" fill="#000"/>
<rect x="135.10" y="1021.80" width="12.80" height="10.27" fill="#daf0f6"/>
<circle cx="141.10" cy="1026.93" r="2.4" fill="#000"/>
<rect x="147.10" y="1021.80" width="12.80" height="10.27" fill="#5082bb"/>
<circle cx="153.10" cy="1026.93" r="0.9" fill="#000"/>
<rect x="159.10" y="1021.80" width="12.00" height="10.27" fill="#6ba2cb"/>
<circle cx="165.10" cy="1026.93" r="2.75" fill="#000"/>
<line x1="105.10" x2="105.10" y1="1033.3" y2="1035.8" stroke="#555" stroke-width="0.6"/>
<text x="108.50" y="1039.70" font-size="9.9" text-anchor="end" transform="rotate(-90 108.50 1039.70)">cluster 0</text>
<line x1="117.10" x2="117.10" y1="1033.3" y2="1035.8" stroke="#555" stroke-width="0.6"/>
<text x="120.50" y="1039.70" font-size="9.9" text-anchor="end" transform="rotate(-90 120.50 1039.70)">cluster 1</text>
<line x1="129.10" x2="129.10" y1="1033.3" y2="1035.8" stroke="#555" stroke-width="0.6"/>
<text x="132.50" y="1039.70" font-size="9.9" text-anchor="end" transform="rotate(-90 132.50 1039.70)">cluster 2</text>
<line x1="141.10" x2="141.10" y1="1033.3" y2="1035.8" stroke="#555" stroke-width="0.6"/>
<text x="144.50" y="1039.70" font-size="9.9" text-anchor="end" transform="rotate(-90 144.50 1039.70)">cluster 3</text>
<line x1="153.10" x2="153.10" y1="1033.3" y2="1035.8" stroke="#555" stroke-width="0.6"/>
<text x="156.50" y="1039.70" font-size="9.9" text-anchor="end" transform="rotate(-90 156.50 1039.70)">cluster 4</text>
<line x1="165.10" x2="165.10" y1="1033.3" y2="1035.8" stroke="#555" stroke-width="0.6"/>
<text x="168.50" y="1039.70" font-size="9.9" text-anchor="end" transform="rotate(-90 168.50 1039.70)">cluster 5</text>
<text x="183.40" y="840.30" font-size="9.9" textLength="41.80" lengthAdjust="spacingAndGlyphs">Scaled TF</text>
<text x="183.40" y="850.20" font-size="9.9" textLength="45.70" lengthAdjust="spacingAndGlyphs">expression</text>
<defs><linearGradient id="gTF" x1="0" x2="0" y1="1" y2="0"><stop offset="0.000" stop-color="#4575b4"/><stop offset="0.125" stop-color="#74add1"/><stop offset="0.250" stop-color="#abd9e9"/><stop offset="0.375" stop-color="#e0f3f8"/><stop offset="0.500" stop-color="#ffffbf"/><stop offset="0.625" stop-color="#fee090"/><stop offset="0.750" stop-color="#fdae61"/><stop offset="0.875" stop-color="#f46d43"/><stop offset="1.000" stop-color="#d73027"/></linearGradient></defs>
<rect x="183.9" y="855.5" width="11" height="53.1" fill="url(#gTF)"/>
<line x1="183.9" x2="186" y1="857" y2="857" stroke="#333" stroke-width="0.5"/><line x1="192.8" x2="194.9" y1="857" y2="857" stroke="#333" stroke-width="0.5"/>
<text x="197.00" y="860.20" font-size="8.6">1</text>
<line x1="183.9" x2="186" y1="869.3" y2="869.3" stroke="#333" stroke-width="0.5"/><line x1="192.8" x2="194.9" y1="869.3" y2="869.3" stroke="#333" stroke-width="0.5"/>
<text x="197.00" y="872.50" font-size="8.6">0.75</text>
<line x1="183.9" x2="186" y1="882" y2="882" stroke="#333" stroke-width="0.5"/><line x1="192.8" x2="194.9" y1="882" y2="882" stroke="#333" stroke-width="0.5"/>
<text x="197.00" y="885.20" font-size="8.6">0.50</text>
<line x1="183.9" x2="186" y1="894" y2="894" stroke="#333" stroke-width="0.5"/><line x1="192.8" x2="194.9" y1="894" y2="894" stroke="#333" stroke-width="0.5"/>
<text x="197.00" y="897.20" font-size="8.6">0.25</text>
<line x1="183.9" x2="186" y1="906.7" y2="906.7" stroke="#333" stroke-width="0.5"/><line x1="192.8" x2="194.9" y1="906.7" y2="906.7" stroke="#333" stroke-width="0.5"/>
<text x="197.00" y="909.90" font-size="8.6">0</text>
<text x="183.40" y="923.60" font-size="9.9" textLength="56.70" lengthAdjust="spacingAndGlyphs">Scaled target</text>
<text x="183.40" y="933.20" font-size="9.9" textLength="56.70" lengthAdjust="spacingAndGlyphs">region enrich</text>
<rect x="183.4" y="933" width="12" height="47" fill="#ebebeb" opacity="0.6"/>
<circle cx="188.9" cy="937.4" r="0.6" fill="#000"/>
<text x="197.00" y="940.60" font-size="8.6">0</text>
<circle cx="188.9" cy="946.1" r="1.5" fill="#000"/>
<text x="197.00" y="949.30" font-size="8.6">0.25</text>
<circle cx="188.9" cy="955.2" r="1.95" fill="#000"/>
<text x="197.00" y="958.40" font-size="8.6">0.50</text>
<circle cx="188.9" cy="963.8" r="2.35" fill="#000"/>
<text x="197.00" y="967.00" font-size="8.6">0.75</text>
<circle cx="188.9" cy="973.7" r="2.9" fill="#000"/>
<text x="197.00" y="976.90" font-size="8.6">1</text>
<text x="231.20" y="792.60" font-size="15.2" fill="#000" font-weight="bold" stroke="#000" stroke-width="0.35">j</text>
<line x1="346.9" y1="885.4" x2="331.1" y2="849.5" stroke="#b4e4d6" stroke-width="0.6"/>
<line x1="353.2" y1="875.9" x2="346.9" y2="836.0" stroke="#b4e4d6" stroke-width="0.6"/>
<line x1="362.7" y1="883.3" x2="364.0" y2="837.5" stroke="#b4e4d6" stroke-width="0.6"/>
<line x1="365.9" y1="872.7" x2="364.5" y2="838" stroke="#b4e4d6" stroke-width="0.6"/>
<line x1="377.5" y1="874.4" x2="385.5" y2="841" stroke="#3dbd9a" stroke-width="0.9"/>
<line x1="378.6" y1="886.5" x2="386.5" y2="841" stroke="#6ccab0" stroke-width="0.65"/>
<line x1="389.1" y1="878.6" x2="404.0" y2="846" stroke="#b4e4d6" stroke-width="0.6"/>
<line x1="394.4" y1="889.6" x2="420.5" y2="862" stroke="#b4e4d6" stroke-width="0.6"/>
<line x1="400.7" y1="899.7" x2="428.5" y2="883.5" stroke="#6ccab0" stroke-width="0.65"/>
<line x1="397.6" y1="910.3" x2="428.5" y2="906.5" stroke="#b4e4d6" stroke-width="0.6"/>
<line x1="349.0" y1="903.3" x2="343.0" y2="908.5" stroke="#b4e4d6" stroke-width="0.6"/>
<line x1="400.7" y1="920.7" x2="428.5" y2="926.5" stroke="#6ccab0" stroke-width="0.65"/>
<line x1="396.5" y1="931.6" x2="422.0" y2="946.0" stroke="#b4e4d6" stroke-width="0.6"/>
<line x1="388.1" y1="935.4" x2="412.0" y2="962.0" stroke="#b4e4d6" stroke-width="0.6"/>
<line x1="384.9" y1="946.4" x2="401.0" y2="976.0" stroke="#b4e4d6" stroke-width="0.6"/>
<line x1="375.4" y1="946.0" x2="388.0" y2="984.0" stroke="#6ccab0" stroke-width="0.65"/>
<line x1="367.0" y1="950.2" x2="372.0" y2="989.5" stroke="#6ccab0" stroke-width="0.65"/>
<line x1="359.0" y1="946.0" x2="358.5" y2="983.0" stroke="#b4e4d6" stroke-width="0.6"/>
<line x1="354.3" y1="926.4" x2="340.0" y2="912.0" stroke="#b4e4d6" stroke-width="0.6"/>
<line x1="353.2" y1="913.7" x2="343.0" y2="909.0" stroke="#b4e4d6" stroke-width="0.6"/>
<line x1="337.4" y1="932.7" x2="310.4" y2="890.1" stroke="#6ccab0" stroke-width="0.65"/>
<line x1="334.2" y1="919.4" x2="310.4" y2="890.1" stroke="#6ccab0" stroke-width="0.65"/>
<line x1="288.1" y1="907.5" x2="310.4" y2="890.1" stroke="#6ccab0" stroke-width="0.65"/>
<line x1="275.7" y1="915.7" x2="253.8" y2="897.5" stroke="#b4e4d6" stroke-width="0.6"/>
<line x1="279.0" y1="953.7" x2="262.9" y2="955.2" stroke="#3dbd9a" stroke-width="0.9"/>
<line x1="291.8" y1="972.7" x2="273.9" y2="998.0" stroke="#6ccab0" stroke-width="0.65"/>
<line x1="305.0" y1="981.9" x2="297.6" y2="1014.4" stroke="#b4e4d6" stroke-width="0.6"/>
<line x1="305.0" y1="941.0" x2="282.1" y2="936.7" stroke="#c8d8e0" stroke-width="0.6"/>
<line x1="305.0" y1="941.0" x2="288.1" y2="907.5" stroke="#f6b043" stroke-width="0.9"/>
<line x1="305.0" y1="941.0" x2="275.7" y2="915.7" stroke="#f6b043" stroke-width="0.9"/>
<line x1="305.0" y1="941.0" x2="334.2" y2="919.4" stroke="#f6b043" stroke-width="0.9"/>
<line x1="305.0" y1="941.0" x2="337.9" y2="932.5" stroke="#f6b043" stroke-width="0.9"/>
<line x1="305.0" y1="941.0" x2="279.0" y2="953.7" stroke="#f6b043" stroke-width="0.9"/>
<line x1="305.0" y1="941.0" x2="291.8" y2="972.7" stroke="#f6b043" stroke-width="0.9"/>
<line x1="305.0" y1="941.0" x2="305.0" y2="981.9" stroke="#f6b043" stroke-width="0.9"/>
<line x1="371.0" y1="911.0" x2="346.9" y2="885.4" stroke="#9a2aa6" stroke-width="0.8"/>
<line x1="371.0" y1="911.0" x2="353.2" y2="875.9" stroke="#9a2aa6" stroke-width="0.8"/>
<line x1="371.0" y1="911.0" x2="362.7" y2="883.3" stroke="#9a2aa6" stroke-width="0.8"/>
<line x1="371.0" y1="911.0" x2="365.9" y2="872.7" stroke="#9a2aa6" stroke-width="0.8"/>
<line x1="371.0" y1="911.0" x2="377.5" y2="874.4" stroke="#9a2aa6" stroke-width="0.8"/>
<line x1="371.0" y1="911.0" x2="378.6" y2="886.5" stroke="#9a2aa6" stroke-width="0.8"/>
<line x1="371.0" y1="911.0" x2="389.1" y2="878.6" stroke="#9a2aa6" stroke-width="0.8"/>
<line x1="371.0" y1="911.0" x2="394.4" y2="889.6" stroke="#9a2aa6" stroke-width="0.8"/>
<line x1="371.0" y1="911.0" x2="400.7" y2="899.7" stroke="#9a2aa6" stroke-width="0.8"/>
<line x1="371.0" y1="911.0" x2="397.6" y2="910.3" stroke="#9a2aa6" stroke-width="0.8"/>
<line x1="371.0" y1="911.0" x2="349.0" y2="903.3" stroke="#9a2aa6" stroke-width="0.8"/>
<line x1="371.0" y1="911.0" x2="400.7" y2="920.7" stroke="#9a2aa6" stroke-width="0.8"/>
<line x1="371.0" y1="911.0" x2="396.5" y2="931.6" stroke="#9a2aa6" stroke-width="0.8"/>
<line x1="371.0" y1="911.0" x2="388.1" y2="935.4" stroke="#9a2aa6" stroke-width="0.8"/>
<line x1="371.0" y1="911.0" x2="384.9" y2="946.4" stroke="#9a2aa6" stroke-width="0.8"/>
<line x1="371.0" y1="911.0" x2="375.4" y2="946.0" stroke="#9a2aa6" stroke-width="0.8"/>
<line x1="371.0" y1="911.0" x2="367.0" y2="950.2" stroke="#9a2aa6" stroke-width="0.8"/>
<line x1="371.0" y1="911.0" x2="359.0" y2="946.0" stroke="#9a2aa6" stroke-width="0.8"/>
<line x1="371.0" y1="911.0" x2="354.3" y2="926.4" stroke="#9a2aa6" stroke-width="0.8"/>
<line x1="371.0" y1="911.0" x2="353.2" y2="913.7" stroke="#9a2aa6" stroke-width="0.8"/>
<line x1="371.0" y1="911.0" x2="337.4" y2="932.7" stroke="#9a2aa6" stroke-width="0.8"/>
<line x1="371.0" y1="911.0" x2="334.2" y2="919.4" stroke="#9a2aa6" stroke-width="0.8"/>
<circle cx="346.9" cy="885.4" r="0.9" fill="#e8e040"/>
<circle cx="353.2" cy="875.9" r="0.9" fill="#e8e040"/>
<circle cx="362.7" cy="883.3" r="0.9" fill="#e8e040"/>
<circle cx="365.9" cy="872.7" r="0.9" fill="#e8e040"/>
<circle cx="377.5" cy="874.4" r="0.9" fill="#e8e040"/>
<circle cx="378.6" cy="886.5" r="0.9" fill="#e8e040"/>
<circle cx="389.1" cy="878.6" r="0.9" fill="#e8e040"/>
<circle cx="394.4" cy="889.6" r="0.9" fill="#e8e040"/>
<circle cx="400.7" cy="899.7" r="0.9" fill="#e8e040"/>
<circle cx="397.6" cy="910.3" r="0.9" fill="#e8e040"/>
<circle cx="349.0" cy="903.3" r="0.9" fill="#e8e040"/>
<circle cx="400.7" cy="920.7" r="0.9" fill="#e8e040"/>
<circle cx="396.5" cy="931.6" r="0.9" fill="#e8e040"/>
<circle cx="388.1" cy="935.4" r="0.9" fill="#e8e040"/>
<circle cx="384.9" cy="946.4" r="0.9" fill="#e8e040"/>
<circle cx="375.4" cy="946.0" r="0.9" fill="#e8e040"/>
<circle cx="367.0" cy="950.2" r="0.9" fill="#e8e040"/>
<circle cx="359.0" cy="946.0" r="0.9" fill="#e8e040"/>
<circle cx="354.3" cy="926.4" r="0.9" fill="#e8e040"/>
<circle cx="353.2" cy="913.7" r="0.9" fill="#e8e040"/>
<circle cx="337.4" cy="932.7" r="0.9" fill="#e8e040"/>
<circle cx="334.2" cy="919.4" r="0.9" fill="#e8e040"/>
<circle cx="288.1" cy="907.5" r="0.9" fill="#e8e040"/>
<circle cx="275.7" cy="915.7" r="0.9" fill="#e8e040"/>
<circle cx="334.2" cy="919.4" r="0.9" fill="#e8e040"/>
<circle cx="337.9" cy="932.5" r="0.9" fill="#e8e040"/>
<circle cx="279.0" cy="953.7" r="0.9" fill="#e8e040"/>
<circle cx="291.8" cy="972.7" r="0.9" fill="#e8e040"/>
<circle cx="305.0" cy="981.9" r="0.9" fill="#e8e040"/>
<circle cx="310.4" cy="890.1" r="1.0" fill="#d02020"/>
<circle cx="371.0" cy="911.0" r="1.6" fill="#6a1a7a"/>
<text x="323.40" y="833.40" font-size="7.3" fill="#2a2a2a" font-style="italic">EPS15L1</text>
<text x="357.90" y="833.40" font-size="7.3" fill="#2a2a2a" font-style="italic">TIMP3</text>
<text x="370.90" y="839.40" font-size="7.3" fill="#2a2a2a" font-style="italic">OSBPL5</text>
<text x="399.80" y="844.60" font-size="7.3" fill="#2a2a2a" font-style="italic">SLC6A6</text>
<text x="320.60" y="846.70" font-size="7.3" fill="#2a2a2a" font-style="italic">PALD1</text>
<text x="413.80" y="860.40" font-size="7.3" fill="#2a2a2a" font-style="italic">SYNE1</text>
<text x="423.70" y="881.90" font-size="7.3" fill="#2a2a2a" font-style="italic">MRPL33</text>
<text x="302.20" y="891.60" font-size="7.3" fill="#2a2a2a" font-style="italic">ABLIM2</text>
<text x="240.00" y="896.60" font-size="7.3" fill="#2a2a2a" font-style="italic">LRRFIP1</text>
<text x="428.20" y="905.40" font-size="7.3" fill="#2a2a2a" font-style="italic">WNK1</text>
<text x="316.00" y="910.80" font-size="7.3" fill="#2a2a2a" font-style="italic">ZBTB46</text>
<text x="429.00" y="929.20" font-size="7.3" fill="#2a2a2a" font-style="italic">TACC1</text>
<text x="420.50" y="951.30" font-size="7.3" fill="#2a2a2a" font-style="italic">OTUD7A</text>
<text x="241.90" y="958.40" font-size="7.3" fill="#2a2a2a" font-style="italic">ITGA9</text>
<text x="410.20" y="967.60" font-size="7.3" fill="#2a2a2a" font-style="italic">GFOD1</text>
<text x="399.50" y="982.10" font-size="7.3" fill="#2a2a2a" font-style="italic">PTK2B</text>
<text x="341.60" y="988.30" font-size="7.3" fill="#2a2a2a" font-style="italic">GALNT14</text>
<text x="382.60" y="989.00" font-size="7.3" fill="#2a2a2a" font-style="italic">CCND3</text>
<text x="369.00" y="995.20" font-size="7.3" fill="#2a2a2a" font-style="italic">PLAT</text>
<text x="264.60" y="1003.60" font-size="7.3" fill="#2a2a2a" font-style="italic">RXFP1</text>
<text x="289.00" y="1022.50" font-size="7.3" fill="#2a2a2a" font-style="italic">FKBP5</text>
<text x="362.00" y="914.60" font-size="10.8" font-style="italic">KLF9</text>
<text x="295.60" y="943.40" font-size="10.0" font-style="italic">RARB</text>
<text x="484.60" y="803.80" font-size="15.2" fill="#000" font-weight="bold" stroke="#000" stroke-width="0.35">k</text>
<text x="566.00" y="820.30" font-size="10.8" text-anchor="middle" font-style="italic">ABLIM2</text>
<path d="M528.5,829.3 V895.2 H602.7" fill="none" stroke="#555" stroke-width="0.8"/>
<line x1="526.2" x2="528.5" y1="892.40" y2="892.40" stroke="#555" stroke-width="0.7"/>
<text x="518.70" y="896.10" font-size="10.3" text-anchor="middle" fill="#333">0</text>
<line x1="526.2" x2="528.5" y1="873.80" y2="873.80" stroke="#555" stroke-width="0.7"/>
<text x="518.70" y="877.50" font-size="10.3" text-anchor="middle" fill="#333">1</text>
<line x1="526.2" x2="528.5" y1="855.20" y2="855.20" stroke="#555" stroke-width="0.7"/>
<text x="518.70" y="858.90" font-size="10.3" text-anchor="middle" fill="#333">2</text>
<line x1="526.2" x2="528.5" y1="836.60" y2="836.60" stroke="#555" stroke-width="0.7"/>
<text x="518.70" y="840.30" font-size="10.3" text-anchor="middle" fill="#333">3</text>
<line x1="535.40" x2="535.40" y1="895.2" y2="897.7" stroke="#555" stroke-width="0.7"/>
<text x="535.40" y="910.60" font-size="10.3" text-anchor="middle" fill="#333">0</text>
<line x1="529.90" x2="540.90" y1="892.50" y2="892.50" stroke="#a0a0a0" stroke-width="0.9"/>
<line x1="547.50" x2="547.50" y1="895.2" y2="897.7" stroke="#555" stroke-width="0.7"/>
<text x="547.50" y="910.60" font-size="10.3" text-anchor="middle" fill="#333">1</text>
<line x1="542.00" x2="553.00" y1="892.50" y2="892.50" stroke="#a0a0a0" stroke-width="0.9"/>
<line x1="547.50" x2="547.50" y1="892.40" y2="842.18" stroke="#9a9a9a" stroke-width="0.9"/>
<line x1="559.60" x2="559.60" y1="895.2" y2="897.7" stroke="#555" stroke-width="0.7"/>
<text x="559.60" y="910.60" font-size="10.3" text-anchor="middle" fill="#333">2</text>
<line x1="554.10" x2="565.10" y1="892.50" y2="892.50" stroke="#a0a0a0" stroke-width="0.9"/>
<line x1="559.50" x2="559.50" y1="892.40" y2="862.64" stroke="#9a9a9a" stroke-width="0.9"/>
<line x1="571.70" x2="571.70" y1="895.2" y2="897.7" stroke="#555" stroke-width="0.7"/>
<text x="571.70" y="910.60" font-size="10.3" text-anchor="middle" fill="#333">3</text>
<line x1="583.80" x2="583.80" y1="895.2" y2="897.7" stroke="#555" stroke-width="0.7"/>
<text x="583.80" y="910.60" font-size="10.3" text-anchor="middle" fill="#333">4</text>
<line x1="578.30" x2="589.30" y1="892.50" y2="892.50" stroke="#a0a0a0" stroke-width="0.9"/>
<line x1="595.90" x2="595.90" y1="895.2" y2="897.7" stroke="#555" stroke-width="0.7"/>
<text x="595.90" y="910.60" font-size="10.3" text-anchor="middle" fill="#333">5</text>
<line x1="590.40" x2="601.40" y1="892.50" y2="892.50" stroke="#a0a0a0" stroke-width="0.9"/>
<polygon points="577.30,893.00 576.70,889.28 575.30,884.63 573.70,879.98 572.60,876.26 572.25,872.54 572.50,866.96 573.10,859.52 573.45,852.08 573.20,844.64 572.70,839.06 572.50,833.48 571.70,832.55 571.70,832.55 570.90,833.48 570.70,839.06 570.20,844.64 569.95,852.08 570.30,859.52 570.90,866.96 571.15,872.54 570.80,876.26 569.70,879.98 568.10,884.63 566.70,889.28 566.10,893.00" fill="#1db3bb" stroke="#1db3bb" stroke-width="0.3"/>
<text x="494.5" y="862.2" font-size="11.2" text-anchor="middle" fill="#222" transform="rotate(-90 494.5 862.2)">Expression</text>
<text x="506.3" y="862.2" font-size="11.2" text-anchor="middle" fill="#222" transform="rotate(-90 506.3 862.2)">level</text>
<text x="672.70" y="820.30" font-size="10.8" text-anchor="middle" font-style="italic">OTUD7A</text>
<path d="M635.4,829.3 V895.2 H711" fill="none" stroke="#555" stroke-width="0.8"/>
<line x1="633.1" x2="635.4" y1="892.20" y2="892.20" stroke="#555" stroke-width="0.7"/>
<text x="625.60" y="895.90" font-size="10.3" text-anchor="middle" fill="#333">0</text>
<line x1="633.1" x2="635.4" y1="875.90" y2="875.90" stroke="#555" stroke-width="0.7"/>
<text x="625.60" y="879.60" font-size="10.3" text-anchor="middle" fill="#333">1</text>
<line x1="633.1" x2="635.4" y1="859.60" y2="859.60" stroke="#555" stroke-width="0.7"/>
<text x="625.60" y="863.30" font-size="10.3" text-anchor="middle" fill="#333">2</text>
<line x1="633.1" x2="635.4" y1="843.30" y2="843.30" stroke="#555" stroke-width="0.7"/>
<text x="625.60" y="847.00" font-size="10.3" text-anchor="middle" fill="#333">3</text>
<line x1="642.30" x2="642.30" y1="895.2" y2="897.7" stroke="#555" stroke-width="0.7"/>
<text x="642.30" y="910.60" font-size="10.3" text-anchor="middle" fill="#333">0</text>
<line x1="636.80" x2="647.80" y1="892.50" y2="892.50" stroke="#a0a0a0" stroke-width="0.9"/>
<line x1="642.50" x2="642.50" y1="892.20" y2="841.67" stroke="#9a9a9a" stroke-width="0.9"/>
<line x1="654.40" x2="654.40" y1="895.2" y2="897.7" stroke="#555" stroke-width="0.7"/>
<text x="654.40" y="910.60" font-size="10.3" text-anchor="middle" fill="#333">1</text>
<line x1="648.90" x2="659.90" y1="892.50" y2="892.50" stroke="#a0a0a0" stroke-width="0.9"/>
<line x1="654.50" x2="654.50" y1="892.20" y2="856.34" stroke="#9a9a9a" stroke-width="0.9"/>
<line x1="666.50" x2="666.50" y1="895.2" y2="897.7" stroke="#555" stroke-width="0.7"/>
<text x="666.50" y="910.60" font-size="10.3" text-anchor="middle" fill="#333">2</text>
<line x1="661.00" x2="672.00" y1="892.50" y2="892.50" stroke="#a0a0a0" stroke-width="0.9"/>
<line x1="666.50" x2="666.50" y1="892.20" y2="857.97" stroke="#9a9a9a" stroke-width="0.9"/>
<line x1="678.60" x2="678.60" y1="895.2" y2="897.7" stroke="#555" stroke-width="0.7"/>
<text x="678.60" y="910.60" font-size="10.3" text-anchor="middle" fill="#333">3</text>
<line x1="690.70" x2="690.70" y1="895.2" y2="897.7" stroke="#555" stroke-width="0.7"/>
<text x="690.70" y="910.60" font-size="10.3" text-anchor="middle" fill="#333">4</text>
<line x1="685.20" x2="696.20" y1="892.50" y2="892.50" stroke="#a0a0a0" stroke-width="0.9"/>
<line x1="690.50" x2="690.50" y1="892.20" y2="831.08" stroke="#9a9a9a" stroke-width="0.9"/>
<line x1="702.80" x2="702.80" y1="895.2" y2="897.7" stroke="#555" stroke-width="0.7"/>
<text x="702.80" y="910.60" font-size="10.3" text-anchor="middle" fill="#333">5</text>
<line x1="697.30" x2="708.30" y1="892.50" y2="892.50" stroke="#a0a0a0" stroke-width="0.9"/>
<line x1="702.50" x2="702.50" y1="892.20" y2="846.56" stroke="#9a9a9a" stroke-width="0.9"/>
<polygon points="684.20,892.80 683.60,889.54 682.00,885.47 680.40,881.39 679.50,878.13 679.30,873.24 679.60,866.72 679.80,860.20 679.60,853.68 679.20,850.42 678.60,850.09 678.60,850.09 678.00,850.42 677.60,853.68 677.40,860.20 677.60,866.72 677.90,873.24 677.70,878.13 676.80,881.39 675.20,885.47 673.60,889.54 673.00,892.80" fill="#1db3bb" stroke="#1db3bb" stroke-width="0.3"/>
<text x="566.00" y="942.00" font-size="10.8" text-anchor="middle" font-style="italic">OSBPL5</text>
<path d="M528.5,946.8 V1012.9 H602.7" fill="none" stroke="#555" stroke-width="0.8"/>
<line x1="526.2" x2="528.5" y1="1009.80" y2="1009.80" stroke="#555" stroke-width="0.7"/>
<text x="518.70" y="1013.50" font-size="10.3" text-anchor="middle" fill="#333">0</text>
<line x1="526.2" x2="528.5" y1="993.10" y2="993.10" stroke="#555" stroke-width="0.7"/>
<text x="518.70" y="996.80" font-size="10.3" text-anchor="middle" fill="#333">1</text>
<line x1="526.2" x2="528.5" y1="976.40" y2="976.40" stroke="#555" stroke-width="0.7"/>
<text x="518.70" y="980.10" font-size="10.3" text-anchor="middle" fill="#333">2</text>
<line x1="526.2" x2="528.5" y1="959.70" y2="959.70" stroke="#555" stroke-width="0.7"/>
<text x="518.70" y="963.40" font-size="10.3" text-anchor="middle" fill="#333">3</text>
<line x1="535.40" x2="535.40" y1="1012.9" y2="1015.4" stroke="#555" stroke-width="0.7"/>
<text x="535.40" y="1028.30" font-size="10.3" text-anchor="middle" fill="#333">0</text>
<line x1="529.90" x2="540.90" y1="1010.50" y2="1010.50" stroke="#a0a0a0" stroke-width="0.9"/>
<line x1="535.50" x2="535.50" y1="1009.80" y2="968.05" stroke="#9a9a9a" stroke-width="0.9"/>
<line x1="547.50" x2="547.50" y1="1012.9" y2="1015.4" stroke="#555" stroke-width="0.7"/>
<text x="547.50" y="1028.30" font-size="10.3" text-anchor="middle" fill="#333">1</text>
<line x1="542.00" x2="553.00" y1="1010.50" y2="1010.50" stroke="#a0a0a0" stroke-width="0.9"/>
<line x1="547.50" x2="547.50" y1="1009.80" y2="973.06" stroke="#9a9a9a" stroke-width="0.9"/>
<line x1="559.60" x2="559.60" y1="1012.9" y2="1015.4" stroke="#555" stroke-width="0.7"/>
<text x="559.60" y="1028.30" font-size="10.3" text-anchor="middle" fill="#333">2</text>
<line x1="554.10" x2="565.10" y1="1010.50" y2="1010.50" stroke="#a0a0a0" stroke-width="0.9"/>
<line x1="559.50" x2="559.50" y1="1009.80" y2="949.68" stroke="#9a9a9a" stroke-width="0.9"/>
<line x1="571.70" x2="571.70" y1="1012.9" y2="1015.4" stroke="#555" stroke-width="0.7"/>
<text x="571.70" y="1028.30" font-size="10.3" text-anchor="middle" fill="#333">3</text>
<line x1="583.80" x2="583.80" y1="1012.9" y2="1015.4" stroke="#555" stroke-width="0.7"/>
<text x="583.80" y="1028.30" font-size="10.3" text-anchor="middle" fill="#333">4</text>
<line x1="578.30" x2="589.30" y1="1010.50" y2="1010.50" stroke="#a0a0a0" stroke-width="0.9"/>
<line x1="583.50" x2="583.50" y1="1009.80" y2="962.20" stroke="#9a9a9a" stroke-width="0.9"/>
<line x1="595.90" x2="595.90" y1="1012.9" y2="1015.4" stroke="#555" stroke-width="0.7"/>
<text x="595.90" y="1028.30" font-size="10.3" text-anchor="middle" fill="#333">5</text>
<line x1="590.40" x2="601.40" y1="1010.50" y2="1010.50" stroke="#a0a0a0" stroke-width="0.9"/>
<line x1="595.50" x2="595.50" y1="1009.80" y2="969.72" stroke="#9a9a9a" stroke-width="0.9"/>
<polygon points="577.30,1010.40 576.70,1007.06 575.30,1002.88 573.70,998.71 572.70,995.37 572.40,990.36 572.70,983.68 572.90,977.00 572.80,970.32 572.30,966.98 571.70,966.65 571.70,966.65 571.10,966.98 570.60,970.32 570.50,977.00 570.70,983.68 571.00,990.36 570.70,995.37 569.70,998.71 568.10,1002.88 566.70,1007.06 566.10,1010.40" fill="#1db3bb" stroke="#1db3bb" stroke-width="0.3"/>
<text x="494.5" y="979.8" font-size="11.2" text-anchor="middle" fill="#222" transform="rotate(-90 494.5 979.8)">Expression</text>
<text x="506.3" y="979.8" font-size="11.2" text-anchor="middle" fill="#222" transform="rotate(-90 506.3 979.8)">level</text>
<text x="672.70" y="942.00" font-size="10.8" text-anchor="middle" font-style="italic">PTK2B</text>
<path d="M635.4,946.8 V1012.9 H711" fill="none" stroke="#555" stroke-width="0.8"/>
<line x1="633.1" x2="635.4" y1="1009.80" y2="1009.80" stroke="#555" stroke-width="0.7"/>
<text x="625.60" y="1013.50" font-size="10.3" text-anchor="middle" fill="#333">0</text>
<line x1="633.1" x2="635.4" y1="991.90" y2="991.90" stroke="#555" stroke-width="0.7"/>
<text x="625.60" y="995.60" font-size="10.3" text-anchor="middle" fill="#333">1</text>
<line x1="633.1" x2="635.4" y1="974.00" y2="974.00" stroke="#555" stroke-width="0.7"/>
<text x="625.60" y="977.70" font-size="10.3" text-anchor="middle" fill="#333">2</text>
<line x1="633.1" x2="635.4" y1="956.10" y2="956.10" stroke="#555" stroke-width="0.7"/>
<text x="625.60" y="959.80" font-size="10.3" text-anchor="middle" fill="#333">3</text>
<line x1="642.30" x2="642.30" y1="1012.9" y2="1015.4" stroke="#555" stroke-width="0.7"/>
<text x="642.30" y="1028.30" font-size="10.3" text-anchor="middle" fill="#333">0</text>
<line x1="636.80" x2="647.80" y1="1010.50" y2="1010.50" stroke="#a0a0a0" stroke-width="0.9"/>
<line x1="642.50" x2="642.50" y1="1009.80" y2="948.94" stroke="#9a9a9a" stroke-width="0.9"/>
<line x1="654.40" x2="654.40" y1="1012.9" y2="1015.4" stroke="#555" stroke-width="0.7"/>
<text x="654.40" y="1028.30" font-size="10.3" text-anchor="middle" fill="#333">1</text>
<line x1="648.90" x2="659.90" y1="1010.50" y2="1010.50" stroke="#a0a0a0" stroke-width="0.9"/>
<line x1="654.50" x2="654.50" y1="1009.80" y2="957.00" stroke="#9a9a9a" stroke-width="0.9"/>
<line x1="666.50" x2="666.50" y1="1012.9" y2="1015.4" stroke="#555" stroke-width="0.7"/>
<text x="666.50" y="1028.30" font-size="10.3" text-anchor="middle" fill="#333">2</text>
<line x1="661.00" x2="672.00" y1="1010.50" y2="1010.50" stroke="#a0a0a0" stroke-width="0.9"/>
<line x1="666.50" x2="666.50" y1="1009.80" y2="965.05" stroke="#9a9a9a" stroke-width="0.9"/>
<line x1="678.60" x2="678.60" y1="1012.9" y2="1015.4" stroke="#555" stroke-width="0.7"/>
<text x="678.60" y="1028.30" font-size="10.3" text-anchor="middle" fill="#333">3</text>
<line x1="690.70" x2="690.70" y1="1012.9" y2="1015.4" stroke="#555" stroke-width="0.7"/>
<text x="690.70" y="1028.30" font-size="10.3" text-anchor="middle" fill="#333">4</text>
<line x1="685.20" x2="696.20" y1="1010.50" y2="1010.50" stroke="#a0a0a0" stroke-width="0.9"/>
<line x1="690.50" x2="690.50" y1="1009.80" y2="961.47" stroke="#9a9a9a" stroke-width="0.9"/>
<line x1="702.80" x2="702.80" y1="1012.9" y2="1015.4" stroke="#555" stroke-width="0.7"/>
<text x="702.80" y="1028.30" font-size="10.3" text-anchor="middle" fill="#333">5</text>
<line x1="697.30" x2="708.30" y1="1010.50" y2="1010.50" stroke="#a0a0a0" stroke-width="0.9"/>
<line x1="702.50" x2="702.50" y1="1009.80" y2="967.73" stroke="#9a9a9a" stroke-width="0.9"/>
<polygon points="684.20,1010.40 683.60,1006.82 682.20,1002.35 680.80,997.87 679.80,994.29 679.40,988.92 679.60,981.76 679.70,974.60 679.60,965.65 679.20,959.38 678.60,958.85 678.60,958.85 678.00,959.38 677.60,965.65 677.50,974.60 677.60,981.76 677.80,988.92 677.40,994.29 676.40,997.87 675.00,1002.35 673.60,1006.82 673.00,1010.40" fill="#1db3bb" stroke="#1db3bb" stroke-width="0.3"/>
<text x="619.20" y="1043.30" font-size="11.2" text-anchor="middle">Cluster</text>
</svg></body></html>
